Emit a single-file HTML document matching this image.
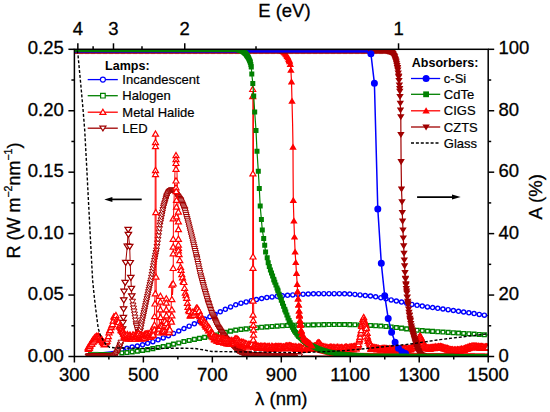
<!DOCTYPE html>
<html><head><meta charset="utf-8"><style>
html,body{margin:0;padding:0;background:#fff;}
svg{display:block;}
.t{font-family:"Liberation Sans",sans-serif;font-size:18.5px;fill:#000;stroke:#000;stroke-width:0.3px;}
.l{font-family:"Liberation Sans",sans-serif;font-size:13px;fill:#000;stroke:#000;stroke-width:0.2px;}
.lb{font-family:"Liberation Sans",sans-serif;font-size:12.5px;font-weight:bold;fill:#000;}
</style></head><body>
<svg width="550" height="412" viewBox="0 0 550 412">
<defs><clipPath id="pa"><rect x="74.4" y="49.3" width="413.8" height="307.2"/></clipPath></defs>
<rect width="550" height="412" fill="#fff"/>
<g clip-path="url(#pa)">
<path d="M100.0,352.6 L101.0,352.6 L102.0,352.5 L103.0,352.5 L104.0,352.4 L105.0,352.3 L106.0,352.2 L107.0,352.1 L108.0,352.0 L109.0,351.9 L110.0,351.8 L111.0,351.7 L112.0,351.5 L113.0,351.4 L114.0,351.2 L115.0,351.0 L116.0,350.8 L117.0,350.6 L118.0,350.3 L119.0,350.1 L120.0,349.9 L121.0,349.7 L122.0,349.5 L123.0,349.2 L124.0,349.0 L125.0,348.8 L126.0,348.5 L127.0,348.3 L128.0,348.1 L129.0,347.8 L130.0,347.6 L131.0,347.4 L132.0,347.2 L133.0,347.0 L134.0,346.8 L135.0,346.6 L136.0,346.4 L137.0,346.2 L138.0,346.0 L139.0,345.7 L140.0,345.5 L141.0,345.2 L142.0,345.0 L143.0,344.7 L144.0,344.4 L145.0,344.2 L146.0,343.9 L147.0,343.6 L148.0,343.3 L149.0,342.9 L150.0,342.6 L151.0,342.3 L152.0,342.0 L153.0,341.6 L154.0,341.3 L155.0,340.9 L156.0,340.6 L157.0,340.2 L158.0,339.9 L159.0,339.5 L160.0,339.1 L161.0,338.8 L162.0,338.4 L163.0,338.0 L164.0,337.6 L165.0,337.2 L166.0,336.8 L167.0,336.4 L168.0,335.9 L169.0,335.5 L170.0,335.0 L171.0,334.6 L172.0,334.1 L173.0,333.7 L174.0,333.2 L175.0,332.8 L176.0,332.3 L177.0,331.8 L178.0,331.4 L179.0,330.9 L180.0,330.4 L181.0,329.9 L182.0,329.5 L183.0,329.0 L184.0,328.6 L185.0,328.1 L186.0,327.6 L187.0,327.2 L188.0,326.7 L189.0,326.3 L190.0,325.8 L191.0,325.4 L192.0,324.9 L193.0,324.4 L194.0,324.0 L195.0,323.5 L196.0,323.0 L197.0,322.6 L198.0,322.1 L199.0,321.7 L200.0,321.2 L201.0,320.7 L202.0,320.3 L203.0,319.8 L204.0,319.3 L205.0,318.9 L206.0,318.4 L207.0,318.0 L208.0,317.5 L209.0,317.1 L210.0,316.6 L211.0,316.2 L212.0,315.7 L213.0,315.3 L214.0,314.8 L215.0,314.3 L216.0,313.8 L217.0,313.4 L218.0,312.9 L219.0,312.4 L220.0,311.9 L221.0,311.4 L222.0,310.9 L223.0,310.4 L224.0,309.9 L225.0,309.4 L226.0,309.0 L227.0,308.5 L228.0,308.0 L229.0,307.6 L230.0,307.1 L231.0,306.7 L232.0,306.3 L233.0,305.9 L234.0,305.5 L235.0,305.1 L236.0,304.7 L237.0,304.4 L238.0,304.1 L239.0,303.8 L240.0,303.5 L241.0,303.2 L242.0,303.0 L243.0,302.7 L244.0,302.5 L245.0,302.2 L246.0,301.9 L247.0,301.7 L248.0,301.5 L249.0,301.2 L250.0,301.0 L251.0,300.8 L252.0,300.5 L253.0,300.3 L254.0,300.1 L255.0,299.9 L256.0,299.7 L257.0,299.4 L258.0,299.2 L259.0,299.0 L260.0,298.8 L261.0,298.7 L262.0,298.5 L263.0,298.3 L264.0,298.1 L265.0,297.9 L266.0,297.8 L267.0,297.6 L268.0,297.5 L269.0,297.3 L270.0,297.2 L271.0,297.0 L272.0,296.9 L273.0,296.8 L274.0,296.6 L275.0,296.5 L276.0,296.4 L277.0,296.3 L278.0,296.2 L279.0,296.1 L280.0,296.0 L281.0,295.9 L282.0,295.8 L283.0,295.7 L284.0,295.7 L285.0,295.6 L286.0,295.5 L287.0,295.4 L288.0,295.3 L289.0,295.2 L290.0,295.1 L291.0,295.1 L292.0,295.0 L293.0,294.9 L294.0,294.8 L295.0,294.8 L296.0,294.7 L297.0,294.6 L298.0,294.5 L299.0,294.5 L300.0,294.4 L301.0,294.3 L302.0,294.3 L303.0,294.2 L304.0,294.2 L305.0,294.1 L306.0,294.1 L307.0,294.0 L308.0,294.0 L309.0,293.9 L310.0,293.9 L311.0,293.9 L312.0,293.8 L313.0,293.8 L314.0,293.8 L315.0,293.8 L316.0,293.7 L317.0,293.7 L318.0,293.7 L319.0,293.7 L320.0,293.7 L321.0,293.7 L322.0,293.7 L323.0,293.7 L324.0,293.7 L325.0,293.7 L326.0,293.7 L327.0,293.7 L328.0,293.7 L329.0,293.7 L330.0,293.7 L331.0,293.7 L332.0,293.7 L333.0,293.7 L334.0,293.7 L335.0,293.7 L336.0,293.7 L337.0,293.7 L338.0,293.7 L339.0,293.7 L340.0,293.7 L341.0,293.7 L342.0,293.7 L343.0,293.7 L344.0,293.8 L345.0,293.8 L346.0,293.8 L347.0,293.9 L348.0,293.9 L349.0,294.0 L350.0,294.1 L351.0,294.1 L352.0,294.2 L353.0,294.3 L354.0,294.4 L355.0,294.4 L356.0,294.5 L357.0,294.6 L358.0,294.7 L359.0,294.8 L360.0,294.9 L361.0,295.0 L362.0,295.1 L363.0,295.2 L364.0,295.3 L365.0,295.4 L366.0,295.6 L367.0,295.7 L368.0,295.8 L369.0,295.9 L370.0,296.0 L371.0,296.1 L372.0,296.2 L373.0,296.4 L374.0,296.5 L375.0,296.7 L376.0,296.8 L377.0,297.0 L378.0,297.2 L379.0,297.3 L380.0,297.5 L381.0,297.7 L382.0,297.9 L383.0,298.1 L384.0,298.3 L385.0,298.5 L386.0,298.8 L387.0,299.0 L388.0,299.2 L389.0,299.4 L390.0,299.6 L391.0,299.8 L392.0,300.1 L393.0,300.3 L394.0,300.5 L395.0,300.7 L396.0,300.9 L397.0,301.2 L398.0,301.4 L399.0,301.6 L400.0,301.8 L401.0,302.0 L402.0,302.2 L403.0,302.5 L404.0,302.7 L405.0,302.9 L406.0,303.1 L407.0,303.4 L408.0,303.6 L409.0,303.8 L410.0,304.0 L411.0,304.2 L412.0,304.4 L413.0,304.6 L414.0,304.8 L415.0,304.9 L416.0,305.1 L417.0,305.3 L418.0,305.4 L419.0,305.6 L420.0,305.7 L421.0,305.9 L422.0,306.1 L423.0,306.2 L424.0,306.4 L425.0,306.5 L426.0,306.6 L427.0,306.8 L428.0,306.9 L429.0,307.1 L430.0,307.2 L431.0,307.4 L432.0,307.5 L433.0,307.6 L434.0,307.8 L435.0,307.9 L436.0,308.0 L437.0,308.2 L438.0,308.3 L439.0,308.4 L440.0,308.6 L441.0,308.7 L442.0,308.9 L443.0,309.0 L444.0,309.1 L445.0,309.3 L446.0,309.4 L447.0,309.6 L448.0,309.7 L449.0,309.9 L450.0,310.0 L451.0,310.1 L452.0,310.3 L453.0,310.4 L454.0,310.6 L455.0,310.7 L456.0,310.9 L457.0,311.0 L458.0,311.2 L459.0,311.3 L460.0,311.5 L461.0,311.6 L462.0,311.8 L463.0,311.9 L464.0,312.1 L465.0,312.2 L466.0,312.4 L467.0,312.5 L468.0,312.7 L469.0,312.8 L470.0,313.0 L471.0,313.1 L472.0,313.3 L473.0,313.4 L474.0,313.6 L475.0,313.7 L476.0,313.9 L477.0,314.0 L478.0,314.2 L479.0,314.3 L480.0,314.5 L481.0,314.6 L482.0,314.8 L483.0,314.9 L484.0,315.1 L485.0,315.2 L486.0,315.4 L487.0,315.5 L488.0,315.7" fill="none" stroke="#0000ff" stroke-width="1.0" stroke-linejoin="round" />
<path d="M119.8,349.5a2.05,2.05 0 1,0 4.1,0a2.05,2.05 0 1,0 -4.1,0Z" fill="#fff" stroke="#0000ff" stroke-width="1.4"/><path d="M124.9,348.3a2.05,2.05 0 1,0 4.1,0a2.05,2.05 0 1,0 -4.1,0Z" fill="#fff" stroke="#0000ff" stroke-width="1.4"/><path d="M130.1,347.1a2.05,2.05 0 1,0 4.1,0a2.05,2.05 0 1,0 -4.1,0Z" fill="#fff" stroke="#0000ff" stroke-width="1.4"/><path d="M135.3,346.1a2.05,2.05 0 1,0 4.1,0a2.05,2.05 0 1,0 -4.1,0Z" fill="#fff" stroke="#0000ff" stroke-width="1.4"/><path d="M140.5,344.8a2.05,2.05 0 1,0 4.1,0a2.05,2.05 0 1,0 -4.1,0Z" fill="#fff" stroke="#0000ff" stroke-width="1.4"/><path d="M145.6,343.3a2.05,2.05 0 1,0 4.1,0a2.05,2.05 0 1,0 -4.1,0Z" fill="#fff" stroke="#0000ff" stroke-width="1.4"/><path d="M150.8,341.7a2.05,2.05 0 1,0 4.1,0a2.05,2.05 0 1,0 -4.1,0Z" fill="#fff" stroke="#0000ff" stroke-width="1.4"/><path d="M156.0,339.8a2.05,2.05 0 1,0 4.1,0a2.05,2.05 0 1,0 -4.1,0Z" fill="#fff" stroke="#0000ff" stroke-width="1.4"/><path d="M161.2,337.9a2.05,2.05 0 1,0 4.1,0a2.05,2.05 0 1,0 -4.1,0Z" fill="#fff" stroke="#0000ff" stroke-width="1.4"/><path d="M166.4,335.7a2.05,2.05 0 1,0 4.1,0a2.05,2.05 0 1,0 -4.1,0Z" fill="#fff" stroke="#0000ff" stroke-width="1.4"/><path d="M171.5,333.4a2.05,2.05 0 1,0 4.1,0a2.05,2.05 0 1,0 -4.1,0Z" fill="#fff" stroke="#0000ff" stroke-width="1.4"/><path d="M176.7,331.0a2.05,2.05 0 1,0 4.1,0a2.05,2.05 0 1,0 -4.1,0Z" fill="#fff" stroke="#0000ff" stroke-width="1.4"/><path d="M181.9,328.6a2.05,2.05 0 1,0 4.1,0a2.05,2.05 0 1,0 -4.1,0Z" fill="#fff" stroke="#0000ff" stroke-width="1.4"/><path d="M187.1,326.2a2.05,2.05 0 1,0 4.1,0a2.05,2.05 0 1,0 -4.1,0Z" fill="#fff" stroke="#0000ff" stroke-width="1.4"/><path d="M192.3,323.8a2.05,2.05 0 1,0 4.1,0a2.05,2.05 0 1,0 -4.1,0Z" fill="#fff" stroke="#0000ff" stroke-width="1.4"/><path d="M197.4,321.4a2.05,2.05 0 1,0 4.1,0a2.05,2.05 0 1,0 -4.1,0Z" fill="#fff" stroke="#0000ff" stroke-width="1.4"/><path d="M202.6,319.0a2.05,2.05 0 1,0 4.1,0a2.05,2.05 0 1,0 -4.1,0Z" fill="#fff" stroke="#0000ff" stroke-width="1.4"/><path d="M207.8,316.7a2.05,2.05 0 1,0 4.1,0a2.05,2.05 0 1,0 -4.1,0Z" fill="#fff" stroke="#0000ff" stroke-width="1.4"/><path d="M213.0,314.3a2.05,2.05 0 1,0 4.1,0a2.05,2.05 0 1,0 -4.1,0Z" fill="#fff" stroke="#0000ff" stroke-width="1.4"/><path d="M218.2,311.8a2.05,2.05 0 1,0 4.1,0a2.05,2.05 0 1,0 -4.1,0Z" fill="#fff" stroke="#0000ff" stroke-width="1.4"/><path d="M223.3,309.3a2.05,2.05 0 1,0 4.1,0a2.05,2.05 0 1,0 -4.1,0Z" fill="#fff" stroke="#0000ff" stroke-width="1.4"/><path d="M228.5,306.9a2.05,2.05 0 1,0 4.1,0a2.05,2.05 0 1,0 -4.1,0Z" fill="#fff" stroke="#0000ff" stroke-width="1.4"/><path d="M233.7,304.8a2.05,2.05 0 1,0 4.1,0a2.05,2.05 0 1,0 -4.1,0Z" fill="#fff" stroke="#0000ff" stroke-width="1.4"/><path d="M238.9,303.2a2.05,2.05 0 1,0 4.1,0a2.05,2.05 0 1,0 -4.1,0Z" fill="#fff" stroke="#0000ff" stroke-width="1.4"/><path d="M244.1,301.9a2.05,2.05 0 1,0 4.1,0a2.05,2.05 0 1,0 -4.1,0Z" fill="#fff" stroke="#0000ff" stroke-width="1.4"/><path d="M249.2,300.7a2.05,2.05 0 1,0 4.1,0a2.05,2.05 0 1,0 -4.1,0Z" fill="#fff" stroke="#0000ff" stroke-width="1.4"/><path d="M254.4,299.6a2.05,2.05 0 1,0 4.1,0a2.05,2.05 0 1,0 -4.1,0Z" fill="#fff" stroke="#0000ff" stroke-width="1.4"/><path d="M259.6,298.5a2.05,2.05 0 1,0 4.1,0a2.05,2.05 0 1,0 -4.1,0Z" fill="#fff" stroke="#0000ff" stroke-width="1.4"/><path d="M264.8,297.6a2.05,2.05 0 1,0 4.1,0a2.05,2.05 0 1,0 -4.1,0Z" fill="#fff" stroke="#0000ff" stroke-width="1.4"/><path d="M270.0,296.9a2.05,2.05 0 1,0 4.1,0a2.05,2.05 0 1,0 -4.1,0Z" fill="#fff" stroke="#0000ff" stroke-width="1.4"/><path d="M275.1,296.3a2.05,2.05 0 1,0 4.1,0a2.05,2.05 0 1,0 -4.1,0Z" fill="#fff" stroke="#0000ff" stroke-width="1.4"/><path d="M280.3,295.8a2.05,2.05 0 1,0 4.1,0a2.05,2.05 0 1,0 -4.1,0Z" fill="#fff" stroke="#0000ff" stroke-width="1.4"/><path d="M285.5,295.3a2.05,2.05 0 1,0 4.1,0a2.05,2.05 0 1,0 -4.1,0Z" fill="#fff" stroke="#0000ff" stroke-width="1.4"/><path d="M290.7,294.9a2.05,2.05 0 1,0 4.1,0a2.05,2.05 0 1,0 -4.1,0Z" fill="#fff" stroke="#0000ff" stroke-width="1.4"/><path d="M295.9,294.5a2.05,2.05 0 1,0 4.1,0a2.05,2.05 0 1,0 -4.1,0Z" fill="#fff" stroke="#0000ff" stroke-width="1.4"/><path d="M301.0,294.2a2.05,2.05 0 1,0 4.1,0a2.05,2.05 0 1,0 -4.1,0Z" fill="#fff" stroke="#0000ff" stroke-width="1.4"/><path d="M306.2,294.0a2.05,2.05 0 1,0 4.1,0a2.05,2.05 0 1,0 -4.1,0Z" fill="#fff" stroke="#0000ff" stroke-width="1.4"/><path d="M311.4,293.8a2.05,2.05 0 1,0 4.1,0a2.05,2.05 0 1,0 -4.1,0Z" fill="#fff" stroke="#0000ff" stroke-width="1.4"/><path d="M316.6,293.7a2.05,2.05 0 1,0 4.1,0a2.05,2.05 0 1,0 -4.1,0Z" fill="#fff" stroke="#0000ff" stroke-width="1.4"/><path d="M321.8,293.7a2.05,2.05 0 1,0 4.1,0a2.05,2.05 0 1,0 -4.1,0Z" fill="#fff" stroke="#0000ff" stroke-width="1.4"/><path d="M326.9,293.7a2.05,2.05 0 1,0 4.1,0a2.05,2.05 0 1,0 -4.1,0Z" fill="#fff" stroke="#0000ff" stroke-width="1.4"/><path d="M332.1,293.7a2.05,2.05 0 1,0 4.1,0a2.05,2.05 0 1,0 -4.1,0Z" fill="#fff" stroke="#0000ff" stroke-width="1.4"/><path d="M337.3,293.7a2.05,2.05 0 1,0 4.1,0a2.05,2.05 0 1,0 -4.1,0Z" fill="#fff" stroke="#0000ff" stroke-width="1.4"/><path d="M342.5,293.8a2.05,2.05 0 1,0 4.1,0a2.05,2.05 0 1,0 -4.1,0Z" fill="#fff" stroke="#0000ff" stroke-width="1.4"/><path d="M347.7,294.0a2.05,2.05 0 1,0 4.1,0a2.05,2.05 0 1,0 -4.1,0Z" fill="#fff" stroke="#0000ff" stroke-width="1.4"/><path d="M352.8,294.4a2.05,2.05 0 1,0 4.1,0a2.05,2.05 0 1,0 -4.1,0Z" fill="#fff" stroke="#0000ff" stroke-width="1.4"/><path d="M358.0,294.9a2.05,2.05 0 1,0 4.1,0a2.05,2.05 0 1,0 -4.1,0Z" fill="#fff" stroke="#0000ff" stroke-width="1.4"/><path d="M363.2,295.5a2.05,2.05 0 1,0 4.1,0a2.05,2.05 0 1,0 -4.1,0Z" fill="#fff" stroke="#0000ff" stroke-width="1.4"/><path d="M368.4,296.0a2.05,2.05 0 1,0 4.1,0a2.05,2.05 0 1,0 -4.1,0Z" fill="#fff" stroke="#0000ff" stroke-width="1.4"/><path d="M373.6,296.8a2.05,2.05 0 1,0 4.1,0a2.05,2.05 0 1,0 -4.1,0Z" fill="#fff" stroke="#0000ff" stroke-width="1.4"/><path d="M378.7,297.7a2.05,2.05 0 1,0 4.1,0a2.05,2.05 0 1,0 -4.1,0Z" fill="#fff" stroke="#0000ff" stroke-width="1.4"/><path d="M383.9,298.7a2.05,2.05 0 1,0 4.1,0a2.05,2.05 0 1,0 -4.1,0Z" fill="#fff" stroke="#0000ff" stroke-width="1.4"/><path d="M389.1,299.9a2.05,2.05 0 1,0 4.1,0a2.05,2.05 0 1,0 -4.1,0Z" fill="#fff" stroke="#0000ff" stroke-width="1.4"/><path d="M394.3,301.0a2.05,2.05 0 1,0 4.1,0a2.05,2.05 0 1,0 -4.1,0Z" fill="#fff" stroke="#0000ff" stroke-width="1.4"/><path d="M399.5,302.1a2.05,2.05 0 1,0 4.1,0a2.05,2.05 0 1,0 -4.1,0Z" fill="#fff" stroke="#0000ff" stroke-width="1.4"/><path d="M404.6,303.3a2.05,2.05 0 1,0 4.1,0a2.05,2.05 0 1,0 -4.1,0Z" fill="#fff" stroke="#0000ff" stroke-width="1.4"/><path d="M409.8,304.4a2.05,2.05 0 1,0 4.1,0a2.05,2.05 0 1,0 -4.1,0Z" fill="#fff" stroke="#0000ff" stroke-width="1.4"/><path d="M415.0,305.3a2.05,2.05 0 1,0 4.1,0a2.05,2.05 0 1,0 -4.1,0Z" fill="#fff" stroke="#0000ff" stroke-width="1.4"/><path d="M420.2,306.1a2.05,2.05 0 1,0 4.1,0a2.05,2.05 0 1,0 -4.1,0Z" fill="#fff" stroke="#0000ff" stroke-width="1.4"/><path d="M425.4,306.9a2.05,2.05 0 1,0 4.1,0a2.05,2.05 0 1,0 -4.1,0Z" fill="#fff" stroke="#0000ff" stroke-width="1.4"/><path d="M430.5,307.6a2.05,2.05 0 1,0 4.1,0a2.05,2.05 0 1,0 -4.1,0Z" fill="#fff" stroke="#0000ff" stroke-width="1.4"/><path d="M435.7,308.3a2.05,2.05 0 1,0 4.1,0a2.05,2.05 0 1,0 -4.1,0Z" fill="#fff" stroke="#0000ff" stroke-width="1.4"/><path d="M440.9,309.0a2.05,2.05 0 1,0 4.1,0a2.05,2.05 0 1,0 -4.1,0Z" fill="#fff" stroke="#0000ff" stroke-width="1.4"/><path d="M446.1,309.7a2.05,2.05 0 1,0 4.1,0a2.05,2.05 0 1,0 -4.1,0Z" fill="#fff" stroke="#0000ff" stroke-width="1.4"/><path d="M451.3,310.5a2.05,2.05 0 1,0 4.1,0a2.05,2.05 0 1,0 -4.1,0Z" fill="#fff" stroke="#0000ff" stroke-width="1.4"/><path d="M456.4,311.3a2.05,2.05 0 1,0 4.1,0a2.05,2.05 0 1,0 -4.1,0Z" fill="#fff" stroke="#0000ff" stroke-width="1.4"/><path d="M461.6,312.0a2.05,2.05 0 1,0 4.1,0a2.05,2.05 0 1,0 -4.1,0Z" fill="#fff" stroke="#0000ff" stroke-width="1.4"/><path d="M466.8,312.8a2.05,2.05 0 1,0 4.1,0a2.05,2.05 0 1,0 -4.1,0Z" fill="#fff" stroke="#0000ff" stroke-width="1.4"/><path d="M472.0,313.6a2.05,2.05 0 1,0 4.1,0a2.05,2.05 0 1,0 -4.1,0Z" fill="#fff" stroke="#0000ff" stroke-width="1.4"/><path d="M477.2,314.4a2.05,2.05 0 1,0 4.1,0a2.05,2.05 0 1,0 -4.1,0Z" fill="#fff" stroke="#0000ff" stroke-width="1.4"/><path d="M482.3,315.2a2.05,2.05 0 1,0 4.1,0a2.05,2.05 0 1,0 -4.1,0Z" fill="#fff" stroke="#0000ff" stroke-width="1.4"/>
<path d="M88.0,352.4 L89.0,352.4 L90.0,352.4 L91.0,352.4 L92.0,352.4 L93.0,352.4 L94.0,352.4 L95.0,352.4 L96.0,352.4 L97.0,352.4 L98.0,352.4 L99.0,352.5 L100.0,352.5 L101.0,352.5 L102.0,352.5 L103.0,352.5 L104.0,352.5 L105.0,352.5 L106.0,352.5 L107.0,352.6 L108.0,352.6 L109.0,352.6 L110.0,352.6 L111.0,352.6 L112.0,352.7 L113.0,352.7 L114.0,352.7 L115.0,352.8 L116.0,352.8 L117.0,352.9 L118.0,352.9 L119.0,353.0 L120.0,353.0 L121.0,353.0 L122.0,353.0 L123.0,353.0 L124.0,352.9 L125.0,352.8 L126.0,352.7 L127.0,352.6 L128.0,352.4 L129.0,352.3 L130.0,352.1 L131.0,352.0 L132.0,351.9 L133.0,351.7 L134.0,351.6 L135.0,351.5 L136.0,351.4 L137.0,351.2 L138.0,351.1 L139.0,351.0 L140.0,350.8 L141.0,350.7 L142.0,350.5 L143.0,350.4 L144.0,350.2 L145.0,350.1 L146.0,349.9 L147.0,349.7 L148.0,349.6 L149.0,349.4 L150.0,349.2 L151.0,349.0 L152.0,348.8 L153.0,348.6 L154.0,348.4 L155.0,348.2 L156.0,348.0 L157.0,347.8 L158.0,347.6 L159.0,347.4 L160.0,347.2 L161.0,347.0 L162.0,346.8 L163.0,346.6 L164.0,346.3 L165.0,346.1 L166.0,345.9 L167.0,345.7 L168.0,345.5 L169.0,345.2 L170.0,345.0 L171.0,344.8 L172.0,344.6 L173.0,344.3 L174.0,344.1 L175.0,343.8 L176.0,343.6 L177.0,343.4 L178.0,343.1 L179.0,342.9 L180.0,342.6 L181.0,342.3 L182.0,342.1 L183.0,341.8 L184.0,341.6 L185.0,341.3 L186.0,341.1 L187.0,340.9 L188.0,340.7 L189.0,340.5 L190.0,340.3 L191.0,340.1 L192.0,339.9 L193.0,339.7 L194.0,339.5 L195.0,339.3 L196.0,339.1 L197.0,338.9 L198.0,338.7 L199.0,338.5 L200.0,338.3 L201.0,338.1 L202.0,337.9 L203.0,337.7 L204.0,337.5 L205.0,337.3 L206.0,337.1 L207.0,336.9 L208.0,336.7 L209.0,336.5 L210.0,336.3 L211.0,336.0 L212.0,335.8 L213.0,335.5 L214.0,335.3 L215.0,335.0 L216.0,334.8 L217.0,334.5 L218.0,334.3 L219.0,334.0 L220.0,333.8 L221.0,333.5 L222.0,333.2 L223.0,333.0 L224.0,332.7 L225.0,332.5 L226.0,332.2 L227.0,332.0 L228.0,331.7 L229.0,331.5 L230.0,331.3 L231.0,331.0 L232.0,330.8 L233.0,330.6 L234.0,330.4 L235.0,330.2 L236.0,330.1 L237.0,329.9 L238.0,329.8 L239.0,329.6 L240.0,329.5 L241.0,329.4 L242.0,329.3 L243.0,329.2 L244.0,329.0 L245.0,328.9 L246.0,328.8 L247.0,328.7 L248.0,328.6 L249.0,328.5 L250.0,328.4 L251.0,328.3 L252.0,328.2 L253.0,328.1 L254.0,328.0 L255.0,327.9 L256.0,327.8 L257.0,327.7 L258.0,327.6 L259.0,327.5 L260.0,327.4 L261.0,327.3 L262.0,327.3 L263.0,327.2 L264.0,327.1 L265.0,327.0 L266.0,326.9 L267.0,326.8 L268.0,326.8 L269.0,326.7 L270.0,326.6 L271.0,326.5 L272.0,326.5 L273.0,326.4 L274.0,326.3 L275.0,326.2 L276.0,326.2 L277.0,326.1 L278.0,326.1 L279.0,326.0 L280.0,325.9 L281.0,325.9 L282.0,325.8 L283.0,325.8 L284.0,325.7 L285.0,325.7 L286.0,325.6 L287.0,325.6 L288.0,325.5 L289.0,325.5 L290.0,325.4 L291.0,325.4 L292.0,325.3 L293.0,325.3 L294.0,325.3 L295.0,325.2 L296.0,325.2 L297.0,325.2 L298.0,325.2 L299.0,325.1 L300.0,325.1 L301.0,325.1 L302.0,325.1 L303.0,325.0 L304.0,325.0 L305.0,325.0 L306.0,325.0 L307.0,324.9 L308.0,324.9 L309.0,324.9 L310.0,324.9 L311.0,324.9 L312.0,324.8 L313.0,324.8 L314.0,324.8 L315.0,324.8 L316.0,324.8 L317.0,324.7 L318.0,324.7 L319.0,324.7 L320.0,324.7 L321.0,324.7 L322.0,324.6 L323.0,324.6 L324.0,324.6 L325.0,324.6 L326.0,324.6 L327.0,324.6 L328.0,324.6 L329.0,324.6 L330.0,324.5 L331.0,324.5 L332.0,324.5 L333.0,324.5 L334.0,324.5 L335.0,324.5 L336.0,324.5 L337.0,324.5 L338.0,324.5 L339.0,324.5 L340.0,324.5 L341.0,324.5 L342.0,324.5 L343.0,324.5 L344.0,324.5 L345.0,324.5 L346.0,324.5 L347.0,324.6 L348.0,324.6 L349.0,324.6 L350.0,324.6 L351.0,324.7 L352.0,324.7 L353.0,324.7 L354.0,324.7 L355.0,324.8 L356.0,324.8 L357.0,324.8 L358.0,324.9 L359.0,324.9 L360.0,325.0 L361.0,325.0 L362.0,325.0 L363.0,325.1 L364.0,325.1 L365.0,325.2 L366.0,325.2 L367.0,325.3 L368.0,325.3 L369.0,325.4 L370.0,325.4 L371.0,325.5 L372.0,325.5 L373.0,325.6 L374.0,325.7 L375.0,325.7 L376.0,325.8 L377.0,325.8 L378.0,325.9 L379.0,325.9 L380.0,326.0 L381.0,326.1 L382.0,326.1 L383.0,326.2 L384.0,326.3 L385.0,326.4 L386.0,326.5 L387.0,326.6 L388.0,326.7 L389.0,326.8 L390.0,326.9 L391.0,327.0 L392.0,327.1 L393.0,327.2 L394.0,327.3 L395.0,327.4 L396.0,327.5 L397.0,327.7 L398.0,327.8 L399.0,327.9 L400.0,328.0 L401.0,328.1 L402.0,328.2 L403.0,328.4 L404.0,328.5 L405.0,328.6 L406.0,328.8 L407.0,328.9 L408.0,329.1 L409.0,329.2 L410.0,329.4 L411.0,329.5 L412.0,329.6 L413.0,329.8 L414.0,329.9 L415.0,330.0 L416.0,330.1 L417.0,330.2 L418.0,330.3 L419.0,330.4 L420.0,330.5 L421.0,330.6 L422.0,330.6 L423.0,330.7 L424.0,330.8 L425.0,330.9 L426.0,330.9 L427.0,331.0 L428.0,331.1 L429.0,331.2 L430.0,331.2 L431.0,331.3 L432.0,331.4 L433.0,331.4 L434.0,331.5 L435.0,331.6 L436.0,331.6 L437.0,331.7 L438.0,331.7 L439.0,331.8 L440.0,331.9 L441.0,331.9 L442.0,332.0 L443.0,332.0 L444.0,332.1 L445.0,332.2 L446.0,332.2 L447.0,332.3 L448.0,332.4 L449.0,332.4 L450.0,332.5 L451.0,332.6 L452.0,332.6 L453.0,332.7 L454.0,332.8 L455.0,332.8 L456.0,332.9 L457.0,333.0 L458.0,333.0 L459.0,333.1 L460.0,333.2 L461.0,333.2 L462.0,333.3 L463.0,333.4 L464.0,333.4 L465.0,333.5 L466.0,333.6 L467.0,333.6 L468.0,333.7 L469.0,333.8 L470.0,333.8 L471.0,333.9 L472.0,334.0 L473.0,334.0 L474.0,334.1 L475.0,334.2 L476.0,334.2 L477.0,334.3 L478.0,334.4 L479.0,334.4 L480.0,334.5 L481.0,334.6 L482.0,334.6 L483.0,334.7 L484.0,334.7 L485.0,334.8 L486.0,334.9 L487.0,334.9 L488.0,335.0" fill="none" stroke="#008000" stroke-width="1.0" stroke-linejoin="round" />
<path d="M120.0,351.1h3.7v3.7h-3.7Z" fill="#fff" stroke="#008000" stroke-width="1.4"/><path d="M125.1,350.7h3.7v3.7h-3.7Z" fill="#fff" stroke="#008000" stroke-width="1.4"/><path d="M130.3,350.0h3.7v3.7h-3.7Z" fill="#fff" stroke="#008000" stroke-width="1.4"/><path d="M135.5,349.3h3.7v3.7h-3.7Z" fill="#fff" stroke="#008000" stroke-width="1.4"/><path d="M140.7,348.6h3.7v3.7h-3.7Z" fill="#fff" stroke="#008000" stroke-width="1.4"/><path d="M145.8,347.8h3.7v3.7h-3.7Z" fill="#fff" stroke="#008000" stroke-width="1.4"/><path d="M151.0,346.8h3.7v3.7h-3.7Z" fill="#fff" stroke="#008000" stroke-width="1.4"/><path d="M156.2,345.7h3.7v3.7h-3.7Z" fill="#fff" stroke="#008000" stroke-width="1.4"/><path d="M161.4,344.7h3.7v3.7h-3.7Z" fill="#fff" stroke="#008000" stroke-width="1.4"/><path d="M166.6,343.5h3.7v3.7h-3.7Z" fill="#fff" stroke="#008000" stroke-width="1.4"/><path d="M171.7,342.3h3.7v3.7h-3.7Z" fill="#fff" stroke="#008000" stroke-width="1.4"/><path d="M176.9,341.1h3.7v3.7h-3.7Z" fill="#fff" stroke="#008000" stroke-width="1.4"/><path d="M182.1,339.7h3.7v3.7h-3.7Z" fill="#fff" stroke="#008000" stroke-width="1.4"/><path d="M187.3,338.6h3.7v3.7h-3.7Z" fill="#fff" stroke="#008000" stroke-width="1.4"/><path d="M192.5,337.5h3.7v3.7h-3.7Z" fill="#fff" stroke="#008000" stroke-width="1.4"/><path d="M197.6,336.5h3.7v3.7h-3.7Z" fill="#fff" stroke="#008000" stroke-width="1.4"/><path d="M202.8,335.5h3.7v3.7h-3.7Z" fill="#fff" stroke="#008000" stroke-width="1.4"/><path d="M208.0,334.4h3.7v3.7h-3.7Z" fill="#fff" stroke="#008000" stroke-width="1.4"/><path d="M213.2,333.2h3.7v3.7h-3.7Z" fill="#fff" stroke="#008000" stroke-width="1.4"/><path d="M218.4,331.8h3.7v3.7h-3.7Z" fill="#fff" stroke="#008000" stroke-width="1.4"/><path d="M223.5,330.5h3.7v3.7h-3.7Z" fill="#fff" stroke="#008000" stroke-width="1.4"/><path d="M228.7,329.3h3.7v3.7h-3.7Z" fill="#fff" stroke="#008000" stroke-width="1.4"/><path d="M233.9,328.3h3.7v3.7h-3.7Z" fill="#fff" stroke="#008000" stroke-width="1.4"/><path d="M239.1,327.5h3.7v3.7h-3.7Z" fill="#fff" stroke="#008000" stroke-width="1.4"/><path d="M244.3,327.0h3.7v3.7h-3.7Z" fill="#fff" stroke="#008000" stroke-width="1.4"/><path d="M249.4,326.4h3.7v3.7h-3.7Z" fill="#fff" stroke="#008000" stroke-width="1.4"/><path d="M254.6,325.9h3.7v3.7h-3.7Z" fill="#fff" stroke="#008000" stroke-width="1.4"/><path d="M259.8,325.4h3.7v3.7h-3.7Z" fill="#fff" stroke="#008000" stroke-width="1.4"/><path d="M265.0,325.0h3.7v3.7h-3.7Z" fill="#fff" stroke="#008000" stroke-width="1.4"/><path d="M270.2,324.6h3.7v3.7h-3.7Z" fill="#fff" stroke="#008000" stroke-width="1.4"/><path d="M275.3,324.3h3.7v3.7h-3.7Z" fill="#fff" stroke="#008000" stroke-width="1.4"/><path d="M280.5,323.9h3.7v3.7h-3.7Z" fill="#fff" stroke="#008000" stroke-width="1.4"/><path d="M285.7,323.7h3.7v3.7h-3.7Z" fill="#fff" stroke="#008000" stroke-width="1.4"/><path d="M290.9,323.5h3.7v3.7h-3.7Z" fill="#fff" stroke="#008000" stroke-width="1.4"/><path d="M296.1,323.3h3.7v3.7h-3.7Z" fill="#fff" stroke="#008000" stroke-width="1.4"/><path d="M301.2,323.2h3.7v3.7h-3.7Z" fill="#fff" stroke="#008000" stroke-width="1.4"/><path d="M306.4,323.1h3.7v3.7h-3.7Z" fill="#fff" stroke="#008000" stroke-width="1.4"/><path d="M311.6,323.0h3.7v3.7h-3.7Z" fill="#fff" stroke="#008000" stroke-width="1.4"/><path d="M316.8,322.9h3.7v3.7h-3.7Z" fill="#fff" stroke="#008000" stroke-width="1.4"/><path d="M322.0,322.8h3.7v3.7h-3.7Z" fill="#fff" stroke="#008000" stroke-width="1.4"/><path d="M327.1,322.7h3.7v3.7h-3.7Z" fill="#fff" stroke="#008000" stroke-width="1.4"/><path d="M332.3,322.7h3.7v3.7h-3.7Z" fill="#fff" stroke="#008000" stroke-width="1.4"/><path d="M337.5,322.7h3.7v3.7h-3.7Z" fill="#fff" stroke="#008000" stroke-width="1.4"/><path d="M342.7,322.7h3.7v3.7h-3.7Z" fill="#fff" stroke="#008000" stroke-width="1.4"/><path d="M347.9,322.8h3.7v3.7h-3.7Z" fill="#fff" stroke="#008000" stroke-width="1.4"/><path d="M353.0,322.9h3.7v3.7h-3.7Z" fill="#fff" stroke="#008000" stroke-width="1.4"/><path d="M358.2,323.1h3.7v3.7h-3.7Z" fill="#fff" stroke="#008000" stroke-width="1.4"/><path d="M363.4,323.4h3.7v3.7h-3.7Z" fill="#fff" stroke="#008000" stroke-width="1.4"/><path d="M368.6,323.6h3.7v3.7h-3.7Z" fill="#fff" stroke="#008000" stroke-width="1.4"/><path d="M373.8,323.9h3.7v3.7h-3.7Z" fill="#fff" stroke="#008000" stroke-width="1.4"/><path d="M378.9,324.2h3.7v3.7h-3.7Z" fill="#fff" stroke="#008000" stroke-width="1.4"/><path d="M384.1,324.6h3.7v3.7h-3.7Z" fill="#fff" stroke="#008000" stroke-width="1.4"/><path d="M389.3,325.1h3.7v3.7h-3.7Z" fill="#fff" stroke="#008000" stroke-width="1.4"/><path d="M394.5,325.7h3.7v3.7h-3.7Z" fill="#fff" stroke="#008000" stroke-width="1.4"/><path d="M399.7,326.3h3.7v3.7h-3.7Z" fill="#fff" stroke="#008000" stroke-width="1.4"/><path d="M404.8,327.0h3.7v3.7h-3.7Z" fill="#fff" stroke="#008000" stroke-width="1.4"/><path d="M410.0,327.8h3.7v3.7h-3.7Z" fill="#fff" stroke="#008000" stroke-width="1.4"/><path d="M415.2,328.4h3.7v3.7h-3.7Z" fill="#fff" stroke="#008000" stroke-width="1.4"/><path d="M420.4,328.8h3.7v3.7h-3.7Z" fill="#fff" stroke="#008000" stroke-width="1.4"/><path d="M425.6,329.2h3.7v3.7h-3.7Z" fill="#fff" stroke="#008000" stroke-width="1.4"/><path d="M430.7,329.5h3.7v3.7h-3.7Z" fill="#fff" stroke="#008000" stroke-width="1.4"/><path d="M435.9,329.9h3.7v3.7h-3.7Z" fill="#fff" stroke="#008000" stroke-width="1.4"/><path d="M441.1,330.2h3.7v3.7h-3.7Z" fill="#fff" stroke="#008000" stroke-width="1.4"/><path d="M446.3,330.5h3.7v3.7h-3.7Z" fill="#fff" stroke="#008000" stroke-width="1.4"/><path d="M451.5,330.9h3.7v3.7h-3.7Z" fill="#fff" stroke="#008000" stroke-width="1.4"/><path d="M456.6,331.2h3.7v3.7h-3.7Z" fill="#fff" stroke="#008000" stroke-width="1.4"/><path d="M461.8,331.6h3.7v3.7h-3.7Z" fill="#fff" stroke="#008000" stroke-width="1.4"/><path d="M467.0,331.9h3.7v3.7h-3.7Z" fill="#fff" stroke="#008000" stroke-width="1.4"/><path d="M472.2,332.2h3.7v3.7h-3.7Z" fill="#fff" stroke="#008000" stroke-width="1.4"/><path d="M477.4,332.6h3.7v3.7h-3.7Z" fill="#fff" stroke="#008000" stroke-width="1.4"/><path d="M482.5,332.9h3.7v3.7h-3.7Z" fill="#fff" stroke="#008000" stroke-width="1.4"/>
<path d="M88.0,356.0 L113.0,356.0 L116.3,354.0 L118.3,350.0 L120.3,345.0 L121.8,339.0 L122.6,329.0 L123.6,309.0 L124.1,291.4 L125.2,282.5 L125.7,262.5 L127.3,246.2 L128.2,229.5 L128.4,234.5 L129.7,246.5 L130.2,262.7 L130.8,277.5 L131.4,288.5 L131.8,296.0 L133.0,305.0 L134.5,314.0 L136.3,325.0 L138.5,333.5 L140.5,330.0 L142.0,322.0 L145.0,308.0 L148.0,294.0 L151.0,280.0 L154.0,263.0 L156.5,250.0 L160.0,225.0 L163.5,207.0 L166.8,196.0 L169.0,191.5 L171.3,190.0 L174.0,191.0 L177.0,195.0 L180.6,200.0 L184.7,209.7 L188.5,224.0 L192.5,240.0 L196.8,258.0 L200.5,275.0 L204.5,290.0 L208.3,303.0 L212.0,314.0 L217.5,326.0 L224.5,337.0 L232.0,345.0 L238.0,351.0 L245.0,354.0 L260.0,355.3 L300.0,356.0 L488.0,356.0" fill="none" stroke="#a00000" stroke-width="1.0" stroke-linejoin="round" />
<path d="M88.0,358.7L91.0,354.0L85.0,354.0Z" fill="#fff" stroke="#a00000" stroke-width="1.0"/><path d="M88.5,358.7L91.5,354.0L85.5,354.0Z" fill="#fff" stroke="#a00000" stroke-width="1.0"/><path d="M89.0,358.7L92.0,354.0L86.0,354.0Z" fill="#fff" stroke="#a00000" stroke-width="1.0"/><path d="M89.5,358.7L92.5,354.0L86.5,354.0Z" fill="#fff" stroke="#a00000" stroke-width="1.0"/><path d="M90.0,358.7L93.0,354.0L87.0,354.0Z" fill="#fff" stroke="#a00000" stroke-width="1.0"/><path d="M90.5,358.7L93.5,354.0L87.5,354.0Z" fill="#fff" stroke="#a00000" stroke-width="1.0"/><path d="M91.0,358.7L94.0,354.0L88.0,354.0Z" fill="#fff" stroke="#a00000" stroke-width="1.0"/><path d="M91.5,358.7L94.5,354.0L88.5,354.0Z" fill="#fff" stroke="#a00000" stroke-width="1.0"/><path d="M92.0,358.7L95.0,354.0L89.0,354.0Z" fill="#fff" stroke="#a00000" stroke-width="1.0"/><path d="M92.5,358.7L95.5,354.0L89.5,354.0Z" fill="#fff" stroke="#a00000" stroke-width="1.0"/><path d="M93.0,358.7L96.0,354.0L90.0,354.0Z" fill="#fff" stroke="#a00000" stroke-width="1.0"/><path d="M93.5,358.7L96.5,354.0L90.5,354.0Z" fill="#fff" stroke="#a00000" stroke-width="1.0"/><path d="M94.0,358.7L97.0,354.0L91.0,354.0Z" fill="#fff" stroke="#a00000" stroke-width="1.0"/><path d="M94.5,358.7L97.5,354.0L91.5,354.0Z" fill="#fff" stroke="#a00000" stroke-width="1.0"/><path d="M95.0,358.7L98.0,354.0L92.0,354.0Z" fill="#fff" stroke="#a00000" stroke-width="1.0"/><path d="M95.5,358.7L98.5,354.0L92.5,354.0Z" fill="#fff" stroke="#a00000" stroke-width="1.0"/><path d="M96.0,358.7L99.0,354.0L93.0,354.0Z" fill="#fff" stroke="#a00000" stroke-width="1.0"/><path d="M96.5,358.7L99.5,354.0L93.5,354.0Z" fill="#fff" stroke="#a00000" stroke-width="1.0"/><path d="M97.0,358.7L100.0,354.0L94.0,354.0Z" fill="#fff" stroke="#a00000" stroke-width="1.0"/><path d="M97.5,358.7L100.5,354.0L94.5,354.0Z" fill="#fff" stroke="#a00000" stroke-width="1.0"/><path d="M98.0,358.7L101.0,354.0L95.0,354.0Z" fill="#fff" stroke="#a00000" stroke-width="1.0"/><path d="M98.5,358.7L101.5,354.0L95.5,354.0Z" fill="#fff" stroke="#a00000" stroke-width="1.0"/><path d="M99.0,358.7L102.0,354.0L96.0,354.0Z" fill="#fff" stroke="#a00000" stroke-width="1.0"/><path d="M99.5,358.7L102.5,354.0L96.5,354.0Z" fill="#fff" stroke="#a00000" stroke-width="1.0"/><path d="M100.0,358.7L103.0,354.0L97.0,354.0Z" fill="#fff" stroke="#a00000" stroke-width="1.0"/><path d="M100.5,358.7L103.5,354.0L97.5,354.0Z" fill="#fff" stroke="#a00000" stroke-width="1.0"/><path d="M101.0,358.7L104.0,354.0L98.0,354.0Z" fill="#fff" stroke="#a00000" stroke-width="1.0"/><path d="M101.5,358.7L104.5,354.0L98.5,354.0Z" fill="#fff" stroke="#a00000" stroke-width="1.0"/><path d="M102.0,358.7L105.0,354.0L99.0,354.0Z" fill="#fff" stroke="#a00000" stroke-width="1.0"/><path d="M102.5,358.7L105.5,354.0L99.5,354.0Z" fill="#fff" stroke="#a00000" stroke-width="1.0"/><path d="M103.0,358.7L106.0,354.0L100.0,354.0Z" fill="#fff" stroke="#a00000" stroke-width="1.0"/><path d="M103.5,358.7L106.5,354.0L100.5,354.0Z" fill="#fff" stroke="#a00000" stroke-width="1.0"/><path d="M104.0,358.7L107.0,354.0L101.0,354.0Z" fill="#fff" stroke="#a00000" stroke-width="1.0"/><path d="M104.5,358.7L107.5,354.0L101.5,354.0Z" fill="#fff" stroke="#a00000" stroke-width="1.0"/><path d="M105.0,358.7L108.0,354.0L102.0,354.0Z" fill="#fff" stroke="#a00000" stroke-width="1.0"/><path d="M105.5,358.7L108.5,354.0L102.5,354.0Z" fill="#fff" stroke="#a00000" stroke-width="1.0"/><path d="M106.0,358.7L109.0,354.0L103.0,354.0Z" fill="#fff" stroke="#a00000" stroke-width="1.0"/><path d="M106.5,358.7L109.5,354.0L103.5,354.0Z" fill="#fff" stroke="#a00000" stroke-width="1.0"/><path d="M107.0,358.7L110.0,354.0L104.0,354.0Z" fill="#fff" stroke="#a00000" stroke-width="1.0"/><path d="M107.5,358.7L110.5,354.0L104.5,354.0Z" fill="#fff" stroke="#a00000" stroke-width="1.0"/><path d="M108.0,358.7L111.0,354.0L105.0,354.0Z" fill="#fff" stroke="#a00000" stroke-width="1.0"/><path d="M108.5,358.7L111.5,354.0L105.5,354.0Z" fill="#fff" stroke="#a00000" stroke-width="1.0"/><path d="M109.0,358.7L112.0,354.0L106.0,354.0Z" fill="#fff" stroke="#a00000" stroke-width="1.0"/><path d="M109.5,358.7L112.5,354.0L106.5,354.0Z" fill="#fff" stroke="#a00000" stroke-width="1.0"/><path d="M110.0,358.7L113.0,354.0L107.0,354.0Z" fill="#fff" stroke="#a00000" stroke-width="1.0"/><path d="M110.5,358.7L113.5,354.0L107.5,354.0Z" fill="#fff" stroke="#a00000" stroke-width="1.0"/><path d="M111.0,358.7L114.0,354.0L108.0,354.0Z" fill="#fff" stroke="#a00000" stroke-width="1.0"/><path d="M111.5,358.7L114.5,354.0L108.5,354.0Z" fill="#fff" stroke="#a00000" stroke-width="1.0"/><path d="M112.0,358.7L115.0,354.0L109.0,354.0Z" fill="#fff" stroke="#a00000" stroke-width="1.0"/><path d="M112.5,358.7L115.5,354.0L109.5,354.0Z" fill="#fff" stroke="#a00000" stroke-width="1.0"/><path d="M113.0,358.7L116.0,354.0L110.0,354.0Z" fill="#fff" stroke="#a00000" stroke-width="1.0"/><path d="M113.5,358.4L116.5,353.7L110.5,353.7Z" fill="#fff" stroke="#a00000" stroke-width="1.0"/><path d="M114.0,358.1L117.0,353.4L111.0,353.4Z" fill="#fff" stroke="#a00000" stroke-width="1.0"/><path d="M114.5,357.8L117.5,353.1L111.5,353.1Z" fill="#fff" stroke="#a00000" stroke-width="1.0"/><path d="M115.0,357.5L118.0,352.8L112.0,352.8Z" fill="#fff" stroke="#a00000" stroke-width="1.0"/><path d="M115.5,357.2L118.5,352.5L112.5,352.5Z" fill="#fff" stroke="#a00000" stroke-width="1.0"/><path d="M116.0,356.9L119.0,352.2L113.0,352.2Z" fill="#fff" stroke="#a00000" stroke-width="1.0"/><path d="M116.3,356.7L119.3,352.0L113.3,352.0Z" fill="#fff" stroke="#a00000" stroke-width="1.0"/><path d="M116.5,356.3L119.5,351.6L113.5,351.6Z" fill="#fff" stroke="#a00000" stroke-width="1.0"/><path d="M117.0,355.3L120.0,350.6L114.0,350.6Z" fill="#fff" stroke="#a00000" stroke-width="1.0"/><path d="M117.5,354.3L120.5,349.6L114.5,349.6Z" fill="#fff" stroke="#a00000" stroke-width="1.0"/><path d="M118.0,353.3L121.0,348.6L115.0,348.6Z" fill="#fff" stroke="#a00000" stroke-width="1.0"/><path d="M118.3,352.7L121.3,348.0L115.3,348.0Z" fill="#fff" stroke="#a00000" stroke-width="1.0"/><path d="M118.5,352.2L121.5,347.5L115.5,347.5Z" fill="#fff" stroke="#a00000" stroke-width="1.0"/><path d="M119.0,350.9L122.0,346.2L116.0,346.2Z" fill="#fff" stroke="#a00000" stroke-width="1.0"/><path d="M119.5,349.7L122.5,345.0L116.5,345.0Z" fill="#fff" stroke="#a00000" stroke-width="1.0"/><path d="M120.0,348.4L123.0,343.8L117.0,343.8Z" fill="#fff" stroke="#a00000" stroke-width="1.0"/><path d="M120.3,347.7L123.3,343.0L117.3,343.0Z" fill="#fff" stroke="#a00000" stroke-width="1.0"/><path d="M120.5,346.9L123.5,342.2L117.5,342.2Z" fill="#fff" stroke="#a00000" stroke-width="1.0"/><path d="M121.0,344.9L124.0,340.2L118.0,340.2Z" fill="#fff" stroke="#a00000" stroke-width="1.0"/><path d="M122.2,337.7L125.2,333.0L119.2,333.0Z" fill="#fff" stroke="#a00000" stroke-width="1.0"/><path d="M122.6,331.7L125.6,327.0L119.6,327.0Z" fill="#fff" stroke="#a00000" stroke-width="1.0"/><path d="M123.0,325.3L126.0,320.6L120.0,320.6Z" fill="#fff" stroke="#a00000" stroke-width="1.0"/><path d="M123.4,320.3L126.4,315.6L120.4,315.6Z" fill="#fff" stroke="#a00000" stroke-width="1.0"/><path d="M123.6,311.7L126.6,307.0L120.6,307.0Z" fill="#fff" stroke="#a00000" stroke-width="1.0"/><path d="M123.8,302.7L126.8,298.0L120.8,298.0Z" fill="#fff" stroke="#a00000" stroke-width="1.0"/><path d="M124.1,294.1L127.1,289.4L121.1,289.4Z" fill="#fff" stroke="#a00000" stroke-width="1.0"/><path d="M125.2,285.2L128.2,280.5L122.2,280.5Z" fill="#fff" stroke="#a00000" stroke-width="1.0"/><path d="M125.7,265.2L128.7,260.5L122.7,260.5Z" fill="#fff" stroke="#a00000" stroke-width="1.0"/><path d="M127.3,248.9L130.3,244.2L124.3,244.2Z" fill="#fff" stroke="#a00000" stroke-width="1.0"/><path d="M128.2,232.2L131.2,227.5L125.2,227.5Z" fill="#fff" stroke="#a00000" stroke-width="1.0"/><path d="M128.4,237.2L131.4,232.5L125.4,232.5Z" fill="#fff" stroke="#a00000" stroke-width="1.0"/><path d="M129.7,249.2L132.7,244.5L126.7,244.5Z" fill="#fff" stroke="#a00000" stroke-width="1.0"/><path d="M130.2,265.4L133.2,260.7L127.2,260.7Z" fill="#fff" stroke="#a00000" stroke-width="1.0"/><path d="M130.8,280.2L133.8,275.5L127.8,275.5Z" fill="#fff" stroke="#a00000" stroke-width="1.0"/><path d="M131.4,291.2L134.4,286.5L128.4,286.5Z" fill="#fff" stroke="#a00000" stroke-width="1.0"/><path d="M131.8,298.7L134.8,294.0L128.8,294.0Z" fill="#fff" stroke="#a00000" stroke-width="1.0"/>
<path d="M122.2,337.9L125.4,332.8L119.0,332.8Z" fill="#fff" stroke="#a00000" stroke-width="1.2"/><path d="M122.6,331.9L125.8,326.8L119.4,326.8Z" fill="#fff" stroke="#a00000" stroke-width="1.2"/><path d="M123.0,325.5L126.2,320.4L119.8,320.4Z" fill="#fff" stroke="#a00000" stroke-width="1.2"/><path d="M123.4,320.5L126.6,315.4L120.2,315.4Z" fill="#fff" stroke="#a00000" stroke-width="1.2"/><path d="M123.6,311.9L126.8,306.8L120.4,306.8Z" fill="#fff" stroke="#a00000" stroke-width="1.2"/><path d="M123.8,302.9L127.0,297.8L120.6,297.8Z" fill="#fff" stroke="#a00000" stroke-width="1.2"/><path d="M124.1,294.3L127.3,289.2L120.9,289.2Z" fill="#fff" stroke="#a00000" stroke-width="1.2"/><path d="M125.2,285.4L128.4,280.3L122.0,280.3Z" fill="#fff" stroke="#a00000" stroke-width="1.2"/><path d="M125.7,265.4L128.9,260.3L122.5,260.3Z" fill="#fff" stroke="#a00000" stroke-width="1.2"/><path d="M127.3,249.1L130.5,244.0L124.1,244.0Z" fill="#fff" stroke="#a00000" stroke-width="1.2"/><path d="M128.2,232.4L131.4,227.3L125.0,227.3Z" fill="#fff" stroke="#a00000" stroke-width="1.2"/><path d="M128.4,237.4L131.6,232.3L125.2,232.3Z" fill="#fff" stroke="#a00000" stroke-width="1.2"/><path d="M129.7,249.4L132.9,244.3L126.5,244.3Z" fill="#fff" stroke="#a00000" stroke-width="1.2"/><path d="M130.2,265.6L133.4,260.5L127.0,260.5Z" fill="#fff" stroke="#a00000" stroke-width="1.2"/><path d="M130.8,280.4L134.0,275.3L127.6,275.3Z" fill="#fff" stroke="#a00000" stroke-width="1.2"/><path d="M131.4,291.4L134.6,286.3L128.2,286.3Z" fill="#fff" stroke="#a00000" stroke-width="1.2"/><path d="M131.8,298.9L135.0,293.8L128.6,293.8Z" fill="#fff" stroke="#a00000" stroke-width="1.2"/>
<path d="M132.5,303.9L135.5,299.2L129.5,299.2Z" fill="#fff" stroke="#a00000" stroke-width="1.0"/><path d="M133.0,307.7L136.0,303.0L130.0,303.0Z" fill="#fff" stroke="#a00000" stroke-width="1.0"/><path d="M133.5,310.7L136.5,306.0L130.5,306.0Z" fill="#fff" stroke="#a00000" stroke-width="1.0"/><path d="M134.0,313.7L137.0,309.0L131.0,309.0Z" fill="#fff" stroke="#a00000" stroke-width="1.0"/><path d="M134.5,316.7L137.5,312.0L131.5,312.0Z" fill="#fff" stroke="#a00000" stroke-width="1.0"/><path d="M135.0,319.8L138.0,315.1L132.0,315.1Z" fill="#fff" stroke="#a00000" stroke-width="1.0"/><path d="M135.5,322.8L138.5,318.1L132.5,318.1Z" fill="#fff" stroke="#a00000" stroke-width="1.0"/><path d="M136.0,325.9L139.0,321.2L133.0,321.2Z" fill="#fff" stroke="#a00000" stroke-width="1.0"/><path d="M136.3,327.7L139.3,323.0L133.3,323.0Z" fill="#fff" stroke="#a00000" stroke-width="1.0"/><path d="M136.5,328.5L139.5,323.8L133.5,323.8Z" fill="#fff" stroke="#a00000" stroke-width="1.0"/><path d="M137.0,330.4L140.0,325.7L134.0,325.7Z" fill="#fff" stroke="#a00000" stroke-width="1.0"/><path d="M137.5,332.3L140.5,327.6L134.5,327.6Z" fill="#fff" stroke="#a00000" stroke-width="1.0"/><path d="M138.0,334.3L141.0,329.6L135.0,329.6Z" fill="#fff" stroke="#a00000" stroke-width="1.0"/><path d="M138.5,336.2L141.5,331.5L135.5,331.5Z" fill="#fff" stroke="#a00000" stroke-width="1.0"/><path d="M139.0,335.3L142.0,330.6L136.0,330.6Z" fill="#fff" stroke="#a00000" stroke-width="1.0"/><path d="M139.5,334.4L142.5,329.8L136.5,329.8Z" fill="#fff" stroke="#a00000" stroke-width="1.0"/><path d="M140.0,333.6L143.0,328.9L137.0,328.9Z" fill="#fff" stroke="#a00000" stroke-width="1.0"/><path d="M140.5,332.7L143.5,328.0L137.5,328.0Z" fill="#fff" stroke="#a00000" stroke-width="1.0"/><path d="M141.0,330.0L144.0,325.3L138.0,325.3Z" fill="#fff" stroke="#a00000" stroke-width="1.0"/><path d="M141.5,327.4L144.5,322.7L138.5,322.7Z" fill="#fff" stroke="#a00000" stroke-width="1.0"/><path d="M142.0,324.7L145.0,320.0L139.0,320.0Z" fill="#fff" stroke="#a00000" stroke-width="1.0"/><path d="M142.5,322.4L145.5,317.7L139.5,317.7Z" fill="#fff" stroke="#a00000" stroke-width="1.0"/><path d="M143.0,320.0L146.0,315.3L140.0,315.3Z" fill="#fff" stroke="#a00000" stroke-width="1.0"/><path d="M143.5,317.7L146.5,313.0L140.5,313.0Z" fill="#fff" stroke="#a00000" stroke-width="1.0"/><path d="M144.0,315.4L147.0,310.7L141.0,310.7Z" fill="#fff" stroke="#a00000" stroke-width="1.0"/><path d="M144.5,313.0L147.5,308.3L141.5,308.3Z" fill="#fff" stroke="#a00000" stroke-width="1.0"/><path d="M145.0,310.7L148.0,306.0L142.0,306.0Z" fill="#fff" stroke="#a00000" stroke-width="1.0"/><path d="M145.5,308.4L148.5,303.7L142.5,303.7Z" fill="#fff" stroke="#a00000" stroke-width="1.0"/><path d="M146.0,306.0L149.0,301.3L143.0,301.3Z" fill="#fff" stroke="#a00000" stroke-width="1.0"/><path d="M146.5,303.7L149.5,299.0L143.5,299.0Z" fill="#fff" stroke="#a00000" stroke-width="1.0"/><path d="M147.0,301.4L150.0,296.7L144.0,296.7Z" fill="#fff" stroke="#a00000" stroke-width="1.0"/><path d="M147.5,299.0L150.5,294.3L144.5,294.3Z" fill="#fff" stroke="#a00000" stroke-width="1.0"/><path d="M148.0,296.7L151.0,292.0L145.0,292.0Z" fill="#fff" stroke="#a00000" stroke-width="1.0"/><path d="M148.5,294.4L151.5,289.7L145.5,289.7Z" fill="#fff" stroke="#a00000" stroke-width="1.0"/><path d="M149.0,292.0L152.0,287.3L146.0,287.3Z" fill="#fff" stroke="#a00000" stroke-width="1.0"/><path d="M149.5,289.7L152.5,285.0L146.5,285.0Z" fill="#fff" stroke="#a00000" stroke-width="1.0"/><path d="M150.0,287.4L153.0,282.7L147.0,282.7Z" fill="#fff" stroke="#a00000" stroke-width="1.0"/><path d="M150.5,285.0L153.5,280.3L147.5,280.3Z" fill="#fff" stroke="#a00000" stroke-width="1.0"/><path d="M151.0,282.7L154.0,278.0L148.0,278.0Z" fill="#fff" stroke="#a00000" stroke-width="1.0"/><path d="M151.5,279.9L154.5,275.2L148.5,275.2Z" fill="#fff" stroke="#a00000" stroke-width="1.0"/><path d="M152.0,277.0L155.0,272.3L149.0,272.3Z" fill="#fff" stroke="#a00000" stroke-width="1.0"/><path d="M152.5,274.2L155.5,269.5L149.5,269.5Z" fill="#fff" stroke="#a00000" stroke-width="1.0"/><path d="M153.0,271.4L156.0,266.7L150.0,266.7Z" fill="#fff" stroke="#a00000" stroke-width="1.0"/><path d="M153.5,268.5L156.5,263.8L150.5,263.8Z" fill="#fff" stroke="#a00000" stroke-width="1.0"/><path d="M154.0,265.7L157.0,261.0L151.0,261.0Z" fill="#fff" stroke="#a00000" stroke-width="1.0"/><path d="M154.5,263.1L157.5,258.4L151.5,258.4Z" fill="#fff" stroke="#a00000" stroke-width="1.0"/><path d="M155.0,260.5L158.0,255.8L152.0,255.8Z" fill="#fff" stroke="#a00000" stroke-width="1.0"/><path d="M155.5,257.9L158.5,253.2L152.5,253.2Z" fill="#fff" stroke="#a00000" stroke-width="1.0"/><path d="M156.0,255.3L159.0,250.6L153.0,250.6Z" fill="#fff" stroke="#a00000" stroke-width="1.0"/><path d="M156.5,252.7L159.5,248.0L153.5,248.0Z" fill="#fff" stroke="#a00000" stroke-width="1.0"/><path d="M157.0,249.1L160.0,244.4L154.0,244.4Z" fill="#fff" stroke="#a00000" stroke-width="1.0"/><path d="M157.5,245.6L160.5,240.9L154.5,240.9Z" fill="#fff" stroke="#a00000" stroke-width="1.0"/><path d="M158.0,242.0L161.0,237.3L155.0,237.3Z" fill="#fff" stroke="#a00000" stroke-width="1.0"/><path d="M158.5,238.4L161.5,233.7L155.5,233.7Z" fill="#fff" stroke="#a00000" stroke-width="1.0"/><path d="M159.0,234.8L162.0,230.1L156.0,230.1Z" fill="#fff" stroke="#a00000" stroke-width="1.0"/><path d="M159.5,231.3L162.5,226.6L156.5,226.6Z" fill="#fff" stroke="#a00000" stroke-width="1.0"/><path d="M160.0,227.7L163.0,223.0L157.0,223.0Z" fill="#fff" stroke="#a00000" stroke-width="1.0"/><path d="M160.5,225.1L163.5,220.4L157.5,220.4Z" fill="#fff" stroke="#a00000" stroke-width="1.0"/><path d="M161.0,222.6L164.0,217.9L158.0,217.9Z" fill="#fff" stroke="#a00000" stroke-width="1.0"/><path d="M161.5,220.0L164.5,215.3L158.5,215.3Z" fill="#fff" stroke="#a00000" stroke-width="1.0"/><path d="M162.0,217.4L165.0,212.7L159.0,212.7Z" fill="#fff" stroke="#a00000" stroke-width="1.0"/><path d="M162.5,214.8L165.5,210.1L159.5,210.1Z" fill="#fff" stroke="#a00000" stroke-width="1.0"/><path d="M163.0,212.3L166.0,207.6L160.0,207.6Z" fill="#fff" stroke="#a00000" stroke-width="1.0"/><path d="M163.5,209.7L166.5,205.0L160.5,205.0Z" fill="#fff" stroke="#a00000" stroke-width="1.0"/><path d="M164.0,208.0L167.0,203.3L161.0,203.3Z" fill="#fff" stroke="#a00000" stroke-width="1.0"/><path d="M164.5,206.4L167.5,201.7L161.5,201.7Z" fill="#fff" stroke="#a00000" stroke-width="1.0"/><path d="M165.0,204.7L168.0,200.0L162.0,200.0Z" fill="#fff" stroke="#a00000" stroke-width="1.0"/><path d="M165.5,203.0L168.5,198.3L162.5,198.3Z" fill="#fff" stroke="#a00000" stroke-width="1.0"/><path d="M166.0,201.4L169.0,196.7L163.0,196.7Z" fill="#fff" stroke="#a00000" stroke-width="1.0"/><path d="M166.5,199.7L169.5,195.0L163.5,195.0Z" fill="#fff" stroke="#a00000" stroke-width="1.0"/><path d="M166.8,198.7L169.8,194.0L163.8,194.0Z" fill="#fff" stroke="#a00000" stroke-width="1.0"/><path d="M167.0,198.3L170.0,193.6L164.0,193.6Z" fill="#fff" stroke="#a00000" stroke-width="1.0"/><path d="M167.5,197.3L170.5,192.6L164.5,192.6Z" fill="#fff" stroke="#a00000" stroke-width="1.0"/><path d="M168.0,196.2L171.0,191.5L165.0,191.5Z" fill="#fff" stroke="#a00000" stroke-width="1.0"/><path d="M168.5,195.2L171.5,190.5L165.5,190.5Z" fill="#fff" stroke="#a00000" stroke-width="1.0"/><path d="M169.0,194.2L172.0,189.5L166.0,189.5Z" fill="#fff" stroke="#a00000" stroke-width="1.0"/><path d="M169.5,193.9L172.5,189.2L166.5,189.2Z" fill="#fff" stroke="#a00000" stroke-width="1.0"/><path d="M170.0,193.5L173.0,188.8L167.0,188.8Z" fill="#fff" stroke="#a00000" stroke-width="1.0"/><path d="M170.5,193.2L173.5,188.5L167.5,188.5Z" fill="#fff" stroke="#a00000" stroke-width="1.0"/><path d="M171.0,192.9L174.0,188.2L168.0,188.2Z" fill="#fff" stroke="#a00000" stroke-width="1.0"/><path d="M171.3,192.7L174.3,188.0L168.3,188.0Z" fill="#fff" stroke="#a00000" stroke-width="1.0"/><path d="M171.5,192.8L174.5,188.1L168.5,188.1Z" fill="#fff" stroke="#a00000" stroke-width="1.0"/><path d="M172.0,193.0L175.0,188.3L169.0,188.3Z" fill="#fff" stroke="#a00000" stroke-width="1.0"/><path d="M172.5,193.1L175.5,188.4L169.5,188.4Z" fill="#fff" stroke="#a00000" stroke-width="1.0"/><path d="M173.0,193.3L176.0,188.6L170.0,188.6Z" fill="#fff" stroke="#a00000" stroke-width="1.0"/><path d="M173.5,193.5L176.5,188.8L170.5,188.8Z" fill="#fff" stroke="#a00000" stroke-width="1.0"/><path d="M174.0,193.7L177.0,189.0L171.0,189.0Z" fill="#fff" stroke="#a00000" stroke-width="1.0"/><path d="M174.5,194.4L177.5,189.7L171.5,189.7Z" fill="#fff" stroke="#a00000" stroke-width="1.0"/><path d="M175.0,195.0L178.0,190.3L172.0,190.3Z" fill="#fff" stroke="#a00000" stroke-width="1.0"/><path d="M175.5,195.7L178.5,191.0L172.5,191.0Z" fill="#fff" stroke="#a00000" stroke-width="1.0"/><path d="M176.0,196.4L179.0,191.7L173.0,191.7Z" fill="#fff" stroke="#a00000" stroke-width="1.0"/><path d="M176.5,197.0L179.5,192.3L173.5,192.3Z" fill="#fff" stroke="#a00000" stroke-width="1.0"/><path d="M177.0,197.7L180.0,193.0L174.0,193.0Z" fill="#fff" stroke="#a00000" stroke-width="1.0"/><path d="M177.5,198.4L180.5,193.7L174.5,193.7Z" fill="#fff" stroke="#a00000" stroke-width="1.0"/><path d="M178.0,199.1L181.0,194.4L175.0,194.4Z" fill="#fff" stroke="#a00000" stroke-width="1.0"/><path d="M178.5,199.8L181.5,195.1L175.5,195.1Z" fill="#fff" stroke="#a00000" stroke-width="1.0"/><path d="M179.0,200.5L182.0,195.8L176.0,195.8Z" fill="#fff" stroke="#a00000" stroke-width="1.0"/><path d="M179.5,201.2L182.5,196.5L176.5,196.5Z" fill="#fff" stroke="#a00000" stroke-width="1.0"/><path d="M180.0,201.9L183.0,197.2L177.0,197.2Z" fill="#fff" stroke="#a00000" stroke-width="1.0"/><path d="M180.5,202.6L183.5,197.9L177.5,197.9Z" fill="#fff" stroke="#a00000" stroke-width="1.0"/><path d="M180.6,202.7L183.6,198.0L177.6,198.0Z" fill="#fff" stroke="#a00000" stroke-width="1.0"/><path d="M181.0,203.6L184.0,198.9L178.0,198.9Z" fill="#fff" stroke="#a00000" stroke-width="1.0"/><path d="M181.5,204.8L184.5,200.1L178.5,200.1Z" fill="#fff" stroke="#a00000" stroke-width="1.0"/><path d="M182.0,206.0L185.0,201.3L179.0,201.3Z" fill="#fff" stroke="#a00000" stroke-width="1.0"/><path d="M182.5,207.2L185.5,202.5L179.5,202.5Z" fill="#fff" stroke="#a00000" stroke-width="1.0"/><path d="M183.0,208.4L186.0,203.7L180.0,203.7Z" fill="#fff" stroke="#a00000" stroke-width="1.0"/><path d="M183.5,209.6L186.5,204.9L180.5,204.9Z" fill="#fff" stroke="#a00000" stroke-width="1.0"/><path d="M184.0,210.7L187.0,206.0L181.0,206.0Z" fill="#fff" stroke="#a00000" stroke-width="1.0"/><path d="M184.5,211.9L187.5,207.2L181.5,207.2Z" fill="#fff" stroke="#a00000" stroke-width="1.0"/><path d="M184.7,212.4L187.7,207.7L181.7,207.7Z" fill="#fff" stroke="#a00000" stroke-width="1.0"/><path d="M185.0,213.5L188.0,208.8L182.0,208.8Z" fill="#fff" stroke="#a00000" stroke-width="1.0"/><path d="M185.5,215.4L188.5,210.7L182.5,210.7Z" fill="#fff" stroke="#a00000" stroke-width="1.0"/><path d="M186.0,217.3L189.0,212.6L183.0,212.6Z" fill="#fff" stroke="#a00000" stroke-width="1.0"/><path d="M186.5,219.2L189.5,214.5L183.5,214.5Z" fill="#fff" stroke="#a00000" stroke-width="1.0"/><path d="M187.0,221.1L190.0,216.4L184.0,216.4Z" fill="#fff" stroke="#a00000" stroke-width="1.0"/><path d="M187.5,222.9L190.5,218.2L184.5,218.2Z" fill="#fff" stroke="#a00000" stroke-width="1.0"/><path d="M188.0,224.8L191.0,220.1L185.0,220.1Z" fill="#fff" stroke="#a00000" stroke-width="1.0"/><path d="M188.5,226.7L191.5,222.0L185.5,222.0Z" fill="#fff" stroke="#a00000" stroke-width="1.0"/><path d="M189.0,228.7L192.0,224.0L186.0,224.0Z" fill="#fff" stroke="#a00000" stroke-width="1.0"/><path d="M189.5,230.7L192.5,226.0L186.5,226.0Z" fill="#fff" stroke="#a00000" stroke-width="1.0"/><path d="M190.0,232.7L193.0,228.0L187.0,228.0Z" fill="#fff" stroke="#a00000" stroke-width="1.0"/><path d="M190.5,234.7L193.5,230.0L187.5,230.0Z" fill="#fff" stroke="#a00000" stroke-width="1.0"/><path d="M191.0,236.7L194.0,232.0L188.0,232.0Z" fill="#fff" stroke="#a00000" stroke-width="1.0"/><path d="M191.5,238.7L194.5,234.0L188.5,234.0Z" fill="#fff" stroke="#a00000" stroke-width="1.0"/><path d="M192.0,240.7L195.0,236.0L189.0,236.0Z" fill="#fff" stroke="#a00000" stroke-width="1.0"/><path d="M192.5,242.7L195.5,238.0L189.5,238.0Z" fill="#fff" stroke="#a00000" stroke-width="1.0"/><path d="M193.0,244.8L196.0,240.1L190.0,240.1Z" fill="#fff" stroke="#a00000" stroke-width="1.0"/><path d="M193.5,246.9L196.5,242.2L190.5,242.2Z" fill="#fff" stroke="#a00000" stroke-width="1.0"/><path d="M194.0,249.0L197.0,244.3L191.0,244.3Z" fill="#fff" stroke="#a00000" stroke-width="1.0"/><path d="M194.5,251.1L197.5,246.4L191.5,246.4Z" fill="#fff" stroke="#a00000" stroke-width="1.0"/><path d="M195.0,253.2L198.0,248.5L192.0,248.5Z" fill="#fff" stroke="#a00000" stroke-width="1.0"/><path d="M195.5,255.3L198.5,250.6L192.5,250.6Z" fill="#fff" stroke="#a00000" stroke-width="1.0"/><path d="M196.0,257.4L199.0,252.7L193.0,252.7Z" fill="#fff" stroke="#a00000" stroke-width="1.0"/><path d="M196.5,259.4L199.5,254.7L193.5,254.7Z" fill="#fff" stroke="#a00000" stroke-width="1.0"/><path d="M196.8,260.7L199.8,256.0L193.8,256.0Z" fill="#fff" stroke="#a00000" stroke-width="1.0"/><path d="M197.0,261.6L200.0,256.9L194.0,256.9Z" fill="#fff" stroke="#a00000" stroke-width="1.0"/><path d="M197.5,263.9L200.5,259.2L194.5,259.2Z" fill="#fff" stroke="#a00000" stroke-width="1.0"/><path d="M198.0,266.2L201.0,261.5L195.0,261.5Z" fill="#fff" stroke="#a00000" stroke-width="1.0"/><path d="M198.5,268.5L201.5,263.8L195.5,263.8Z" fill="#fff" stroke="#a00000" stroke-width="1.0"/><path d="M199.0,270.8L202.0,266.1L196.0,266.1Z" fill="#fff" stroke="#a00000" stroke-width="1.0"/><path d="M199.5,273.1L202.5,268.4L196.5,268.4Z" fill="#fff" stroke="#a00000" stroke-width="1.0"/><path d="M200.0,275.4L203.0,270.7L197.0,270.7Z" fill="#fff" stroke="#a00000" stroke-width="1.0"/><path d="M200.5,277.7L203.5,273.0L197.5,273.0Z" fill="#fff" stroke="#a00000" stroke-width="1.0"/><path d="M201.0,279.6L204.0,274.9L198.0,274.9Z" fill="#fff" stroke="#a00000" stroke-width="1.0"/><path d="M201.5,281.4L204.5,276.8L198.5,276.8Z" fill="#fff" stroke="#a00000" stroke-width="1.0"/><path d="M202.0,283.3L205.0,278.6L199.0,278.6Z" fill="#fff" stroke="#a00000" stroke-width="1.0"/><path d="M202.5,285.2L205.5,280.5L199.5,280.5Z" fill="#fff" stroke="#a00000" stroke-width="1.0"/><path d="M203.0,287.1L206.0,282.4L200.0,282.4Z" fill="#fff" stroke="#a00000" stroke-width="1.0"/><path d="M203.5,288.9L206.5,284.2L200.5,284.2Z" fill="#fff" stroke="#a00000" stroke-width="1.0"/><path d="M204.0,290.8L207.0,286.1L201.0,286.1Z" fill="#fff" stroke="#a00000" stroke-width="1.0"/><path d="M204.5,292.7L207.5,288.0L201.5,288.0Z" fill="#fff" stroke="#a00000" stroke-width="1.0"/><path d="M205.0,294.4L208.0,289.7L202.0,289.7Z" fill="#fff" stroke="#a00000" stroke-width="1.0"/><path d="M205.5,296.1L208.5,291.4L202.5,291.4Z" fill="#fff" stroke="#a00000" stroke-width="1.0"/><path d="M206.0,297.8L209.0,293.1L203.0,293.1Z" fill="#fff" stroke="#a00000" stroke-width="1.0"/><path d="M206.5,299.5L209.5,294.8L203.5,294.8Z" fill="#fff" stroke="#a00000" stroke-width="1.0"/><path d="M207.0,301.3L210.0,296.6L204.0,296.6Z" fill="#fff" stroke="#a00000" stroke-width="1.0"/><path d="M207.5,303.0L210.5,298.3L204.5,298.3Z" fill="#fff" stroke="#a00000" stroke-width="1.0"/><path d="M208.0,304.7L211.0,300.0L205.0,300.0Z" fill="#fff" stroke="#a00000" stroke-width="1.0"/><path d="M208.3,305.7L211.3,301.0L205.3,301.0Z" fill="#fff" stroke="#a00000" stroke-width="1.0"/><path d="M208.5,306.3L211.5,301.6L205.5,301.6Z" fill="#fff" stroke="#a00000" stroke-width="1.0"/><path d="M209.0,307.8L212.0,303.1L206.0,303.1Z" fill="#fff" stroke="#a00000" stroke-width="1.0"/><path d="M209.5,309.3L212.5,304.6L206.5,304.6Z" fill="#fff" stroke="#a00000" stroke-width="1.0"/><path d="M210.0,310.8L213.0,306.1L207.0,306.1Z" fill="#fff" stroke="#a00000" stroke-width="1.0"/><path d="M210.5,312.2L213.5,307.5L207.5,307.5Z" fill="#fff" stroke="#a00000" stroke-width="1.0"/><path d="M211.0,313.7L214.0,309.0L208.0,309.0Z" fill="#fff" stroke="#a00000" stroke-width="1.0"/><path d="M211.5,315.2L214.5,310.5L208.5,310.5Z" fill="#fff" stroke="#a00000" stroke-width="1.0"/><path d="M212.0,316.7L215.0,312.0L209.0,312.0Z" fill="#fff" stroke="#a00000" stroke-width="1.0"/><path d="M212.5,317.8L215.5,313.1L209.5,313.1Z" fill="#fff" stroke="#a00000" stroke-width="1.0"/><path d="M213.0,318.9L216.0,314.2L210.0,314.2Z" fill="#fff" stroke="#a00000" stroke-width="1.0"/><path d="M213.5,320.0L216.5,315.3L210.5,315.3Z" fill="#fff" stroke="#a00000" stroke-width="1.0"/><path d="M214.0,321.1L217.0,316.4L211.0,316.4Z" fill="#fff" stroke="#a00000" stroke-width="1.0"/><path d="M214.5,322.2L217.5,317.5L211.5,317.5Z" fill="#fff" stroke="#a00000" stroke-width="1.0"/><path d="M215.0,323.2L218.0,318.5L212.0,318.5Z" fill="#fff" stroke="#a00000" stroke-width="1.0"/><path d="M215.5,324.3L218.5,319.6L212.5,319.6Z" fill="#fff" stroke="#a00000" stroke-width="1.0"/><path d="M216.0,325.4L219.0,320.7L213.0,320.7Z" fill="#fff" stroke="#a00000" stroke-width="1.0"/><path d="M216.5,326.5L219.5,321.8L213.5,321.8Z" fill="#fff" stroke="#a00000" stroke-width="1.0"/><path d="M217.0,327.6L220.0,322.9L214.0,322.9Z" fill="#fff" stroke="#a00000" stroke-width="1.0"/><path d="M217.5,328.7L220.5,324.0L214.5,324.0Z" fill="#fff" stroke="#a00000" stroke-width="1.0"/><path d="M218.0,329.5L221.0,324.8L215.0,324.8Z" fill="#fff" stroke="#a00000" stroke-width="1.0"/><path d="M218.5,330.3L221.5,325.6L215.5,325.6Z" fill="#fff" stroke="#a00000" stroke-width="1.0"/><path d="M219.0,331.1L222.0,326.4L216.0,326.4Z" fill="#fff" stroke="#a00000" stroke-width="1.0"/><path d="M219.5,331.8L222.5,327.1L216.5,327.1Z" fill="#fff" stroke="#a00000" stroke-width="1.0"/><path d="M220.0,332.6L223.0,327.9L217.0,327.9Z" fill="#fff" stroke="#a00000" stroke-width="1.0"/><path d="M220.5,333.4L223.5,328.7L217.5,328.7Z" fill="#fff" stroke="#a00000" stroke-width="1.0"/><path d="M221.0,334.2L224.0,329.5L218.0,329.5Z" fill="#fff" stroke="#a00000" stroke-width="1.0"/><path d="M221.5,335.0L224.5,330.3L218.5,330.3Z" fill="#fff" stroke="#a00000" stroke-width="1.0"/><path d="M222.0,335.8L225.0,331.1L219.0,331.1Z" fill="#fff" stroke="#a00000" stroke-width="1.0"/><path d="M222.5,336.6L225.5,331.9L219.5,331.9Z" fill="#fff" stroke="#a00000" stroke-width="1.0"/><path d="M223.0,337.3L226.0,332.6L220.0,332.6Z" fill="#fff" stroke="#a00000" stroke-width="1.0"/><path d="M223.5,338.1L226.5,333.4L220.5,333.4Z" fill="#fff" stroke="#a00000" stroke-width="1.0"/><path d="M224.0,338.9L227.0,334.2L221.0,334.2Z" fill="#fff" stroke="#a00000" stroke-width="1.0"/><path d="M224.5,339.7L227.5,335.0L221.5,335.0Z" fill="#fff" stroke="#a00000" stroke-width="1.0"/><path d="M225.0,340.2L228.0,335.5L222.0,335.5Z" fill="#fff" stroke="#a00000" stroke-width="1.0"/><path d="M225.5,340.8L228.5,336.1L222.5,336.1Z" fill="#fff" stroke="#a00000" stroke-width="1.0"/><path d="M226.0,341.3L229.0,336.6L223.0,336.6Z" fill="#fff" stroke="#a00000" stroke-width="1.0"/><path d="M226.5,341.8L229.5,337.1L223.5,337.1Z" fill="#fff" stroke="#a00000" stroke-width="1.0"/><path d="M227.0,342.4L230.0,337.7L224.0,337.7Z" fill="#fff" stroke="#a00000" stroke-width="1.0"/><path d="M227.5,342.9L230.5,338.2L224.5,338.2Z" fill="#fff" stroke="#a00000" stroke-width="1.0"/><path d="M228.0,343.4L231.0,338.7L225.0,338.7Z" fill="#fff" stroke="#a00000" stroke-width="1.0"/><path d="M228.5,344.0L231.5,339.3L225.5,339.3Z" fill="#fff" stroke="#a00000" stroke-width="1.0"/><path d="M229.0,344.5L232.0,339.8L226.0,339.8Z" fill="#fff" stroke="#a00000" stroke-width="1.0"/><path d="M229.5,345.0L232.5,340.3L226.5,340.3Z" fill="#fff" stroke="#a00000" stroke-width="1.0"/><path d="M230.0,345.6L233.0,340.9L227.0,340.9Z" fill="#fff" stroke="#a00000" stroke-width="1.0"/><path d="M230.5,346.1L233.5,341.4L227.5,341.4Z" fill="#fff" stroke="#a00000" stroke-width="1.0"/><path d="M231.0,346.6L234.0,341.9L228.0,341.9Z" fill="#fff" stroke="#a00000" stroke-width="1.0"/><path d="M231.5,347.2L234.5,342.5L228.5,342.5Z" fill="#fff" stroke="#a00000" stroke-width="1.0"/><path d="M232.0,347.7L235.0,343.0L229.0,343.0Z" fill="#fff" stroke="#a00000" stroke-width="1.0"/><path d="M232.5,348.2L235.5,343.5L229.5,343.5Z" fill="#fff" stroke="#a00000" stroke-width="1.0"/><path d="M233.0,348.7L236.0,344.0L230.0,344.0Z" fill="#fff" stroke="#a00000" stroke-width="1.0"/><path d="M233.5,349.2L236.5,344.5L230.5,344.5Z" fill="#fff" stroke="#a00000" stroke-width="1.0"/><path d="M234.0,349.7L237.0,345.0L231.0,345.0Z" fill="#fff" stroke="#a00000" stroke-width="1.0"/><path d="M234.5,350.2L237.5,345.5L231.5,345.5Z" fill="#fff" stroke="#a00000" stroke-width="1.0"/><path d="M235.0,350.7L238.0,346.0L232.0,346.0Z" fill="#fff" stroke="#a00000" stroke-width="1.0"/><path d="M235.5,351.2L238.5,346.5L232.5,346.5Z" fill="#fff" stroke="#a00000" stroke-width="1.0"/><path d="M236.0,351.7L239.0,347.0L233.0,347.0Z" fill="#fff" stroke="#a00000" stroke-width="1.0"/><path d="M236.5,352.2L239.5,347.5L233.5,347.5Z" fill="#fff" stroke="#a00000" stroke-width="1.0"/><path d="M237.0,352.7L240.0,348.0L234.0,348.0Z" fill="#fff" stroke="#a00000" stroke-width="1.0"/><path d="M237.5,353.2L240.5,348.5L234.5,348.5Z" fill="#fff" stroke="#a00000" stroke-width="1.0"/><path d="M238.0,353.7L241.0,349.0L235.0,349.0Z" fill="#fff" stroke="#a00000" stroke-width="1.0"/><path d="M238.5,353.9L241.5,349.2L235.5,349.2Z" fill="#fff" stroke="#a00000" stroke-width="1.0"/><path d="M239.0,354.1L242.0,349.4L236.0,349.4Z" fill="#fff" stroke="#a00000" stroke-width="1.0"/><path d="M239.5,354.3L242.5,349.6L236.5,349.6Z" fill="#fff" stroke="#a00000" stroke-width="1.0"/><path d="M240.0,354.6L243.0,349.9L237.0,349.9Z" fill="#fff" stroke="#a00000" stroke-width="1.0"/><path d="M240.5,354.8L243.5,350.1L237.5,350.1Z" fill="#fff" stroke="#a00000" stroke-width="1.0"/><path d="M241.0,355.0L244.0,350.3L238.0,350.3Z" fill="#fff" stroke="#a00000" stroke-width="1.0"/><path d="M241.5,355.2L244.5,350.5L238.5,350.5Z" fill="#fff" stroke="#a00000" stroke-width="1.0"/><path d="M242.0,355.4L245.0,350.7L239.0,350.7Z" fill="#fff" stroke="#a00000" stroke-width="1.0"/><path d="M242.5,355.6L245.5,350.9L239.5,350.9Z" fill="#fff" stroke="#a00000" stroke-width="1.0"/><path d="M243.0,355.8L246.0,351.1L240.0,351.1Z" fill="#fff" stroke="#a00000" stroke-width="1.0"/><path d="M243.5,356.1L246.5,351.4L240.5,351.4Z" fill="#fff" stroke="#a00000" stroke-width="1.0"/><path d="M244.0,356.3L247.0,351.6L241.0,351.6Z" fill="#fff" stroke="#a00000" stroke-width="1.0"/><path d="M244.5,356.5L247.5,351.8L241.5,351.8Z" fill="#fff" stroke="#a00000" stroke-width="1.0"/><path d="M245.0,356.7L248.0,352.0L242.0,352.0Z" fill="#fff" stroke="#a00000" stroke-width="1.0"/><path d="M245.5,356.7L248.5,352.0L242.5,352.0Z" fill="#fff" stroke="#a00000" stroke-width="1.0"/><path d="M246.0,356.8L249.0,352.1L243.0,352.1Z" fill="#fff" stroke="#a00000" stroke-width="1.0"/><path d="M246.5,356.8L249.5,352.1L243.5,352.1Z" fill="#fff" stroke="#a00000" stroke-width="1.0"/><path d="M247.0,356.9L250.0,352.2L244.0,352.2Z" fill="#fff" stroke="#a00000" stroke-width="1.0"/><path d="M247.5,356.9L250.5,352.2L244.5,352.2Z" fill="#fff" stroke="#a00000" stroke-width="1.0"/><path d="M248.0,357.0L251.0,352.3L245.0,352.3Z" fill="#fff" stroke="#a00000" stroke-width="1.0"/><path d="M248.5,357.0L251.5,352.3L245.5,352.3Z" fill="#fff" stroke="#a00000" stroke-width="1.0"/><path d="M249.0,357.0L252.0,352.3L246.0,352.3Z" fill="#fff" stroke="#a00000" stroke-width="1.0"/><path d="M249.5,357.1L252.5,352.4L246.5,352.4Z" fill="#fff" stroke="#a00000" stroke-width="1.0"/><path d="M250.0,357.1L253.0,352.4L247.0,352.4Z" fill="#fff" stroke="#a00000" stroke-width="1.0"/><path d="M250.5,357.2L253.5,352.5L247.5,352.5Z" fill="#fff" stroke="#a00000" stroke-width="1.0"/><path d="M251.0,357.2L254.0,352.5L248.0,352.5Z" fill="#fff" stroke="#a00000" stroke-width="1.0"/><path d="M251.5,357.3L254.5,352.6L248.5,352.6Z" fill="#fff" stroke="#a00000" stroke-width="1.0"/><path d="M252.0,357.3L255.0,352.6L249.0,352.6Z" fill="#fff" stroke="#a00000" stroke-width="1.0"/><path d="M252.5,357.3L255.5,352.6L249.5,352.6Z" fill="#fff" stroke="#a00000" stroke-width="1.0"/><path d="M253.0,357.4L256.0,352.7L250.0,352.7Z" fill="#fff" stroke="#a00000" stroke-width="1.0"/><path d="M253.5,357.4L256.5,352.7L250.5,352.7Z" fill="#fff" stroke="#a00000" stroke-width="1.0"/><path d="M254.0,357.5L257.0,352.8L251.0,352.8Z" fill="#fff" stroke="#a00000" stroke-width="1.0"/><path d="M254.5,357.5L257.5,352.8L251.5,352.8Z" fill="#fff" stroke="#a00000" stroke-width="1.0"/><path d="M255.0,357.6L258.0,352.9L252.0,352.9Z" fill="#fff" stroke="#a00000" stroke-width="1.0"/><path d="M255.5,357.6L258.5,352.9L252.5,352.9Z" fill="#fff" stroke="#a00000" stroke-width="1.0"/><path d="M256.0,357.7L259.0,353.0L253.0,353.0Z" fill="#fff" stroke="#a00000" stroke-width="1.0"/><path d="M256.5,357.7L259.5,353.0L253.5,353.0Z" fill="#fff" stroke="#a00000" stroke-width="1.0"/><path d="M257.0,357.7L260.0,353.0L254.0,353.0Z" fill="#fff" stroke="#a00000" stroke-width="1.0"/><path d="M257.5,357.8L260.5,353.1L254.5,353.1Z" fill="#fff" stroke="#a00000" stroke-width="1.0"/><path d="M258.0,357.8L261.0,353.1L255.0,353.1Z" fill="#fff" stroke="#a00000" stroke-width="1.0"/><path d="M258.5,357.9L261.5,353.2L255.5,353.2Z" fill="#fff" stroke="#a00000" stroke-width="1.0"/><path d="M259.0,357.9L262.0,353.2L256.0,353.2Z" fill="#fff" stroke="#a00000" stroke-width="1.0"/><path d="M259.5,358.0L262.5,353.3L256.5,353.3Z" fill="#fff" stroke="#a00000" stroke-width="1.0"/><path d="M260.0,358.0L263.0,353.3L257.0,353.3Z" fill="#fff" stroke="#a00000" stroke-width="1.0"/><path d="M260.5,358.0L263.5,353.3L257.5,353.3Z" fill="#fff" stroke="#a00000" stroke-width="1.0"/><path d="M261.0,358.0L264.0,353.3L258.0,353.3Z" fill="#fff" stroke="#a00000" stroke-width="1.0"/><path d="M261.5,358.0L264.5,353.3L258.5,353.3Z" fill="#fff" stroke="#a00000" stroke-width="1.0"/><path d="M262.0,358.0L265.0,353.3L259.0,353.3Z" fill="#fff" stroke="#a00000" stroke-width="1.0"/><path d="M262.5,358.0L265.5,353.3L259.5,353.3Z" fill="#fff" stroke="#a00000" stroke-width="1.0"/><path d="M263.0,358.1L266.0,353.4L260.0,353.4Z" fill="#fff" stroke="#a00000" stroke-width="1.0"/><path d="M263.5,358.1L266.5,353.4L260.5,353.4Z" fill="#fff" stroke="#a00000" stroke-width="1.0"/><path d="M264.0,358.1L267.0,353.4L261.0,353.4Z" fill="#fff" stroke="#a00000" stroke-width="1.0"/><path d="M264.5,358.1L267.5,353.4L261.5,353.4Z" fill="#fff" stroke="#a00000" stroke-width="1.0"/><path d="M265.0,358.1L268.0,353.4L262.0,353.4Z" fill="#fff" stroke="#a00000" stroke-width="1.0"/><path d="M265.5,358.1L268.5,353.4L262.5,353.4Z" fill="#fff" stroke="#a00000" stroke-width="1.0"/><path d="M266.0,358.1L269.0,353.4L263.0,353.4Z" fill="#fff" stroke="#a00000" stroke-width="1.0"/><path d="M266.5,358.1L269.5,353.4L263.5,353.4Z" fill="#fff" stroke="#a00000" stroke-width="1.0"/><path d="M267.0,358.1L270.0,353.4L264.0,353.4Z" fill="#fff" stroke="#a00000" stroke-width="1.0"/><path d="M267.5,358.1L270.5,353.4L264.5,353.4Z" fill="#fff" stroke="#a00000" stroke-width="1.0"/><path d="M268.0,358.1L271.0,353.4L265.0,353.4Z" fill="#fff" stroke="#a00000" stroke-width="1.0"/><path d="M268.5,358.1L271.5,353.4L265.5,353.4Z" fill="#fff" stroke="#a00000" stroke-width="1.0"/><path d="M269.0,358.2L272.0,353.5L266.0,353.5Z" fill="#fff" stroke="#a00000" stroke-width="1.0"/><path d="M269.5,358.2L272.5,353.5L266.5,353.5Z" fill="#fff" stroke="#a00000" stroke-width="1.0"/><path d="M270.0,358.2L273.0,353.5L267.0,353.5Z" fill="#fff" stroke="#a00000" stroke-width="1.0"/><path d="M270.5,358.2L273.5,353.5L267.5,353.5Z" fill="#fff" stroke="#a00000" stroke-width="1.0"/><path d="M271.0,358.2L274.0,353.5L268.0,353.5Z" fill="#fff" stroke="#a00000" stroke-width="1.0"/><path d="M271.5,358.2L274.5,353.5L268.5,353.5Z" fill="#fff" stroke="#a00000" stroke-width="1.0"/><path d="M272.0,358.2L275.0,353.5L269.0,353.5Z" fill="#fff" stroke="#a00000" stroke-width="1.0"/><path d="M272.5,358.2L275.5,353.5L269.5,353.5Z" fill="#fff" stroke="#a00000" stroke-width="1.0"/><path d="M273.0,358.2L276.0,353.5L270.0,353.5Z" fill="#fff" stroke="#a00000" stroke-width="1.0"/><path d="M273.5,358.2L276.5,353.5L270.5,353.5Z" fill="#fff" stroke="#a00000" stroke-width="1.0"/><path d="M274.0,358.2L277.0,353.5L271.0,353.5Z" fill="#fff" stroke="#a00000" stroke-width="1.0"/><path d="M274.5,358.3L277.5,353.6L271.5,353.6Z" fill="#fff" stroke="#a00000" stroke-width="1.0"/><path d="M275.0,358.3L278.0,353.6L272.0,353.6Z" fill="#fff" stroke="#a00000" stroke-width="1.0"/><path d="M275.5,358.3L278.5,353.6L272.5,353.6Z" fill="#fff" stroke="#a00000" stroke-width="1.0"/><path d="M276.0,358.3L279.0,353.6L273.0,353.6Z" fill="#fff" stroke="#a00000" stroke-width="1.0"/><path d="M276.5,358.3L279.5,353.6L273.5,353.6Z" fill="#fff" stroke="#a00000" stroke-width="1.0"/><path d="M277.0,358.3L280.0,353.6L274.0,353.6Z" fill="#fff" stroke="#a00000" stroke-width="1.0"/><path d="M277.5,358.3L280.5,353.6L274.5,353.6Z" fill="#fff" stroke="#a00000" stroke-width="1.0"/><path d="M278.0,358.3L281.0,353.6L275.0,353.6Z" fill="#fff" stroke="#a00000" stroke-width="1.0"/><path d="M278.5,358.3L281.5,353.6L275.5,353.6Z" fill="#fff" stroke="#a00000" stroke-width="1.0"/><path d="M279.0,358.3L282.0,353.6L276.0,353.6Z" fill="#fff" stroke="#a00000" stroke-width="1.0"/><path d="M279.5,358.3L282.5,353.6L276.5,353.6Z" fill="#fff" stroke="#a00000" stroke-width="1.0"/><path d="M280.0,358.3L283.0,353.6L277.0,353.6Z" fill="#fff" stroke="#a00000" stroke-width="1.0"/><path d="M280.5,358.4L283.5,353.7L277.5,353.7Z" fill="#fff" stroke="#a00000" stroke-width="1.0"/><path d="M281.0,358.4L284.0,353.7L278.0,353.7Z" fill="#fff" stroke="#a00000" stroke-width="1.0"/><path d="M281.5,358.4L284.5,353.7L278.5,353.7Z" fill="#fff" stroke="#a00000" stroke-width="1.0"/><path d="M282.0,358.4L285.0,353.7L279.0,353.7Z" fill="#fff" stroke="#a00000" stroke-width="1.0"/><path d="M282.5,358.4L285.5,353.7L279.5,353.7Z" fill="#fff" stroke="#a00000" stroke-width="1.0"/><path d="M283.0,358.4L286.0,353.7L280.0,353.7Z" fill="#fff" stroke="#a00000" stroke-width="1.0"/><path d="M283.5,358.4L286.5,353.7L280.5,353.7Z" fill="#fff" stroke="#a00000" stroke-width="1.0"/><path d="M284.0,358.4L287.0,353.7L281.0,353.7Z" fill="#fff" stroke="#a00000" stroke-width="1.0"/><path d="M284.5,358.4L287.5,353.7L281.5,353.7Z" fill="#fff" stroke="#a00000" stroke-width="1.0"/><path d="M285.0,358.4L288.0,353.7L282.0,353.7Z" fill="#fff" stroke="#a00000" stroke-width="1.0"/><path d="M285.5,358.4L288.5,353.7L282.5,353.7Z" fill="#fff" stroke="#a00000" stroke-width="1.0"/><path d="M286.0,358.5L289.0,353.8L283.0,353.8Z" fill="#fff" stroke="#a00000" stroke-width="1.0"/><path d="M286.5,358.5L289.5,353.8L283.5,353.8Z" fill="#fff" stroke="#a00000" stroke-width="1.0"/><path d="M287.0,358.5L290.0,353.8L284.0,353.8Z" fill="#fff" stroke="#a00000" stroke-width="1.0"/><path d="M287.5,358.5L290.5,353.8L284.5,353.8Z" fill="#fff" stroke="#a00000" stroke-width="1.0"/><path d="M288.0,358.5L291.0,353.8L285.0,353.8Z" fill="#fff" stroke="#a00000" stroke-width="1.0"/><path d="M288.5,358.5L291.5,353.8L285.5,353.8Z" fill="#fff" stroke="#a00000" stroke-width="1.0"/><path d="M289.0,358.5L292.0,353.8L286.0,353.8Z" fill="#fff" stroke="#a00000" stroke-width="1.0"/><path d="M289.5,358.5L292.5,353.8L286.5,353.8Z" fill="#fff" stroke="#a00000" stroke-width="1.0"/><path d="M290.0,358.5L293.0,353.8L287.0,353.8Z" fill="#fff" stroke="#a00000" stroke-width="1.0"/><path d="M290.5,358.5L293.5,353.8L287.5,353.8Z" fill="#fff" stroke="#a00000" stroke-width="1.0"/><path d="M291.0,358.5L294.0,353.8L288.0,353.8Z" fill="#fff" stroke="#a00000" stroke-width="1.0"/><path d="M291.5,358.6L294.5,353.9L288.5,353.9Z" fill="#fff" stroke="#a00000" stroke-width="1.0"/><path d="M292.0,358.6L295.0,353.9L289.0,353.9Z" fill="#fff" stroke="#a00000" stroke-width="1.0"/><path d="M292.5,358.6L295.5,353.9L289.5,353.9Z" fill="#fff" stroke="#a00000" stroke-width="1.0"/><path d="M293.0,358.6L296.0,353.9L290.0,353.9Z" fill="#fff" stroke="#a00000" stroke-width="1.0"/><path d="M293.5,358.6L296.5,353.9L290.5,353.9Z" fill="#fff" stroke="#a00000" stroke-width="1.0"/><path d="M294.0,358.6L297.0,353.9L291.0,353.9Z" fill="#fff" stroke="#a00000" stroke-width="1.0"/><path d="M294.5,358.6L297.5,353.9L291.5,353.9Z" fill="#fff" stroke="#a00000" stroke-width="1.0"/><path d="M295.0,358.6L298.0,353.9L292.0,353.9Z" fill="#fff" stroke="#a00000" stroke-width="1.0"/><path d="M295.5,358.6L298.5,353.9L292.5,353.9Z" fill="#fff" stroke="#a00000" stroke-width="1.0"/><path d="M296.0,358.6L299.0,353.9L293.0,353.9Z" fill="#fff" stroke="#a00000" stroke-width="1.0"/><path d="M296.5,358.6L299.5,353.9L293.5,353.9Z" fill="#fff" stroke="#a00000" stroke-width="1.0"/><path d="M297.0,358.6L300.0,353.9L294.0,353.9Z" fill="#fff" stroke="#a00000" stroke-width="1.0"/><path d="M297.5,358.7L300.5,354.0L294.5,354.0Z" fill="#fff" stroke="#a00000" stroke-width="1.0"/><path d="M298.0,358.7L301.0,354.0L295.0,354.0Z" fill="#fff" stroke="#a00000" stroke-width="1.0"/><path d="M298.5,358.7L301.5,354.0L295.5,354.0Z" fill="#fff" stroke="#a00000" stroke-width="1.0"/><path d="M299.0,358.7L302.0,354.0L296.0,354.0Z" fill="#fff" stroke="#a00000" stroke-width="1.0"/><path d="M299.5,358.7L302.5,354.0L296.5,354.0Z" fill="#fff" stroke="#a00000" stroke-width="1.0"/>
<path d="M88.0,347.7 L88.3,349.3 L88.7,347.7 L89.0,348.0 L89.4,348.2 L89.7,346.4 L90.1,345.7 L90.4,343.9 L90.8,343.9 L91.1,344.0 L91.4,344.0 L91.8,343.8 L92.1,342.0 L92.5,340.5 L92.8,340.6 L93.2,342.0 L93.5,339.5 L93.9,339.8 L94.2,340.8 L94.6,337.7 L94.9,339.0 L95.2,339.7 L95.6,337.1 L95.9,337.8 L96.3,338.6 L96.6,336.1 L97.0,337.0 L97.3,337.4 L97.7,337.1 L98.0,336.7 L98.3,336.0 L98.7,337.1 L99.0,336.9 L99.4,337.4 L99.7,337.4 L100.1,339.2 L100.4,339.5 L100.8,338.5 L101.1,339.7 L101.5,339.3 L101.8,340.3 L102.1,340.4 L102.5,341.8 L102.8,341.4 L103.2,342.1 L103.5,343.4 L103.9,342.9 L104.2,344.8 L104.6,343.0 L104.9,344.3 L105.6,342.7 L106.3,342.0 L107.0,341.2 L107.7,339.0 L108.4,336.5 L109.0,332.6 L109.7,330.4 L110.4,330.4 L111.1,327.4 L111.8,325.7 L112.5,324.3 L113.2,320.9 L113.9,316.7 L114.6,317.1 L115.3,317.6 L115.9,315.4 L116.6,319.8 L117.3,320.9 L118.0,321.7 L118.7,322.3 L119.4,326.6 L120.0,325.2 L120.4,326.9 L120.8,328.4 L121.1,330.4 L121.5,329.9 L121.8,328.8 L122.2,330.5 L122.5,331.1 L122.8,331.7 L123.2,331.7 L123.5,333.6 L123.9,334.5 L124.2,336.5 L124.6,336.8 L124.9,335.6 L125.3,335.4 L125.6,337.2 L125.9,337.9 L126.3,337.0 L126.6,337.8 L127.0,338.7 L127.3,334.4 L127.7,338.7 L128.0,335.9 L128.4,336.9 L128.7,338.6 L129.1,338.2 L129.4,335.4 L129.7,338.0 L130.1,335.1 L130.4,336.5 L130.8,338.8 L131.1,337.0 L131.5,337.8 L131.8,338.5 L132.2,339.0 L132.5,338.8 L132.8,335.0 L133.2,337.0 L133.5,337.2 L133.9,335.0 L134.2,337.3 L134.6,337.6 L134.9,338.6 L135.3,339.0 L135.6,334.9 L136.0,335.3 L136.3,337.3 L136.6,334.6 L137.0,334.9 L137.3,336.6 L137.7,334.4 L138.0,337.4 L138.4,337.9 L138.7,333.8 L139.1,336.4 L139.4,337.8 L139.7,338.7 L140.1,335.3 L140.4,334.8 L140.8,338.4 L141.1,338.7 L141.5,335.2 L141.8,336.5 L142.2,337.9 L142.5,338.6 L142.9,335.3 L143.2,337.8 L143.5,338.4 L143.9,337.1 L144.2,335.1 L144.6,334.4 L144.9,335.5 L145.3,338.1 L145.6,334.2 L146.0,333.9 L146.3,335.6 L146.6,334.1 L147.0,334.4 L147.3,333.7 L147.7,336.2 L148.0,337.0 L148.4,335.4 L148.7,333.7 L149.1,334.4 L149.4,335.5 L149.8,337.0 L150.1,337.1 L150.4,333.1 L150.8,331.7 L151.1,335.6 L151.5,335.9 L151.8,333.5 L152.2,334.8 L152.5,335.2 L152.9,333.8 L153.2,334.9 L153.5,330.1 L153.9,326.8 L154.5,320.0 L155.0,290.0 L155.3,134.0 L155.9,134.0 L156.2,290.0 L156.8,320.0 L157.5,331.0 L158.0,329.6 L158.4,332.7 L158.7,328.3 L159.1,329.0 L159.8,310.0 L160.4,296.0 L161.1,315.0 L161.8,326.2 L162.2,330.6 L162.5,331.2 L162.9,330.5 L163.2,332.3 L163.6,332.7 L163.9,332.2 L164.2,331.2 L164.6,325.0 L164.9,321.2 L165.6,315.0 L166.3,299.0 L167.0,318.0 L167.7,327.2 L168.0,331.5 L168.4,330.5 L168.7,332.8 L169.1,332.1 L169.4,329.1 L169.8,329.8 L170.5,319.5 L171.2,305.0 L171.9,285.0 L172.5,295.0 L173.2,284.0 L173.4,220.0 L175.5,155.5 L176.5,155.5 L178.2,215.0 L178.4,248.1 L179.1,254.5 L179.8,260.5 L180.5,267.1 L181.1,270.3 L181.8,274.5 L182.5,277.6 L183.2,281.4 L183.9,282.3 L184.6,288.3 L185.3,292.9 L186.0,295.5 L186.7,298.1 L187.4,303.2 L188.0,307.1 L188.7,310.5 L189.4,311.4 L190.1,315.6 L190.8,316.0 L191.5,314.3 L192.2,315.2 L192.9,311.9 L193.6,315.3 L194.3,313.7 L194.9,312.0 L195.6,311.6 L196.3,308.2 L197.0,307.9 L197.7,309.1 L198.4,312.1 L199.1,311.3 L199.8,316.4 L200.1,315.3 L200.5,316.1 L200.8,315.4 L201.2,318.8 L201.5,320.2 L201.8,320.2 L202.2,319.1 L202.5,321.9 L202.9,319.5 L203.2,322.8 L203.6,322.2 L203.9,321.3 L204.3,322.6 L204.6,323.5 L205.0,322.3 L205.3,325.3 L205.6,323.9 L206.0,326.5 L206.3,326.8 L206.7,324.1 L207.0,327.0 L207.4,326.1 L207.7,328.6 L208.1,328.2 L208.4,328.3 L208.7,330.8 L209.1,327.6 L209.4,330.4 L209.8,329.9 L210.1,329.2 L210.5,332.9 L210.8,332.6 L211.2,334.7 L211.5,333.9 L211.9,333.3 L212.2,336.8 L212.5,333.5 L212.9,333.8 L213.2,337.4 L213.6,336.3 L213.9,336.9 L214.3,339.4 L214.6,337.1 L215.0,339.8 L215.3,338.9 L215.6,337.6 L216.0,336.6 L216.3,337.6 L216.7,340.9 L217.0,338.6 L217.4,337.7 L217.7,338.5 L218.1,341.3 L218.4,338.2 L218.8,341.1 L219.1,338.4 L219.4,342.1 L219.8,340.3 L220.1,338.2 L220.5,342.2 L220.8,339.7 L221.2,341.5 L221.5,340.6 L221.9,338.8 L222.2,338.9 L222.5,339.2 L222.9,339.3 L223.2,338.9 L223.6,338.9 L223.9,343.0 L224.3,339.3 L224.6,341.2 L225.0,339.5 L225.3,340.0 L225.7,342.5 L226.0,343.3 L226.3,341.3 L226.7,339.4 L227.0,343.8 L227.4,339.7 L227.7,341.3 L228.1,342.0 L228.4,343.6 L228.8,343.4 L229.1,342.5 L229.4,341.6 L229.8,343.5 L230.1,343.6 L230.5,343.6 L230.8,343.0 L231.2,340.2 L231.5,341.1 L231.9,341.9 L232.2,342.0 L232.6,343.5 L232.9,340.8 L233.2,342.7 L233.6,341.4 L233.9,343.2 L234.3,340.3 L234.6,341.1 L235.0,339.0 L235.3,339.1 L235.7,341.8 L236.0,338.7 L236.3,341.7 L236.7,340.5 L237.0,338.8 L237.4,342.5 L237.7,339.7 L238.1,343.5 L238.4,340.0 L238.8,343.1 L239.1,341.1 L239.5,342.0 L239.8,344.9 L240.1,343.0 L240.5,343.9 L240.8,344.5 L241.2,341.9 L241.5,345.3 L241.9,345.8 L242.2,342.5 L242.6,344.4 L242.9,343.3 L243.2,345.4 L243.6,342.4 L243.9,344.6 L244.3,346.0 L244.6,345.8 L245.0,343.2 L245.3,346.5 L245.7,343.9 L246.0,346.6 L246.4,345.3 L246.7,343.9 L247.0,346.5 L247.4,346.9 L247.7,346.5 L248.1,347.7 L248.4,344.6 L248.8,344.6 L249.1,344.2 L249.5,346.0 L249.8,345.4 L250.1,345.3 L250.5,345.8 L250.8,345.0 L251.2,343.8 L251.5,345.5 L251.9,344.5 L252.4,345.0 L252.6,300.0 L252.9,89.0 L253.4,89.0 L253.6,300.0 L254.0,345.0 L254.6,345.3 L255.0,347.3 L255.3,344.9 L255.7,346.7 L256.0,347.0 L256.4,345.8 L256.7,346.5 L257.0,348.1 L257.4,346.1 L257.7,347.3 L258.1,347.7 L258.4,346.3 L258.8,348.2 L259.1,347.1 L259.5,346.8 L259.8,347.4 L260.2,346.6 L260.5,347.5 L260.8,346.3 L261.2,348.1 L261.5,347.1 L261.9,346.3 L262.2,346.8 L262.6,348.1 L262.9,347.9 L263.3,347.0 L263.6,346.7 L263.9,346.8 L264.3,348.5 L264.6,346.1 L265.0,348.3 L265.3,348.2 L265.7,346.5 L266.0,346.8 L266.4,347.5 L266.7,348.1 L267.1,348.6 L267.4,348.7 L267.7,346.7 L268.1,346.5 L268.4,347.4 L268.8,347.6 L269.1,347.9 L269.5,346.4 L269.8,347.9 L270.2,348.7 L270.5,348.7 L270.8,348.7 L271.2,348.7 L271.5,348.8 L271.9,346.2 L272.2,348.7 L272.6,346.9 L272.9,347.0 L273.3,347.4 L273.6,348.8 L274.0,347.8 L274.3,347.1 L274.6,347.1 L275.0,348.6 L275.3,348.4 L275.7,346.5 L276.0,346.8 L276.4,347.1 L276.7,346.7 L277.1,347.7 L277.4,346.7 L277.7,347.7 L278.1,348.7 L278.4,348.5 L278.8,346.4 L279.1,346.7 L279.5,347.3 L279.8,347.9 L280.2,347.2 L280.5,346.8 L280.9,347.0 L281.2,346.6 L281.5,348.4 L281.9,348.0 L282.2,347.1 L282.6,347.9 L282.9,347.4 L283.3,347.4 L283.6,346.9 L284.0,347.3 L284.3,348.6 L284.6,348.1 L285.0,348.2 L285.3,346.2 L285.7,347.2 L286.0,346.8 L286.4,346.0 L286.7,346.9 L287.1,346.0 L287.4,346.4 L287.8,347.9 L288.1,347.6 L288.4,347.6 L288.8,345.9 L289.1,346.1 L289.5,345.7 L289.8,345.9 L290.2,345.9 L290.5,348.4 L290.9,348.2 L291.2,346.3 L291.5,346.5 L291.9,348.5 L292.2,347.5 L292.6,347.0 L292.9,347.3 L293.3,346.8 L293.6,347.7 L294.0,348.1 L294.3,347.6 L294.7,348.5 L295.0,346.6 L295.3,348.0 L295.7,349.1 L296.0,346.8 L296.4,347.8 L296.7,348.2 L297.1,347.5 L297.4,349.3 L297.8,348.0 L298.1,348.0 L298.4,349.2 L298.8,346.8 L299.1,349.2 L299.5,347.2 L299.8,347.9 L300.2,348.3 L300.5,348.2 L300.9,347.0 L301.2,347.8 L301.6,347.9 L301.9,349.6 L302.2,349.5 L302.6,348.5 L302.9,349.5 L303.3,349.3 L303.6,348.0 L304.0,347.2 L304.3,348.6 L304.7,347.8 L305.0,346.9 L305.3,349.6 L305.7,349.6 L306.0,348.4 L306.4,348.6 L306.7,348.8 L307.1,349.5 L307.4,348.2 L307.8,348.5 L308.1,347.5 L308.5,347.6 L308.8,348.4 L309.1,347.5 L309.5,347.0 L309.8,347.9 L310.2,349.0 L310.5,347.6 L310.9,349.1 L311.2,348.6 L311.6,348.4 L311.9,349.0 L312.2,346.7 L312.6,346.9 L312.9,348.9 L313.3,348.8 L313.6,346.4 L314.0,348.3 L314.3,346.1 L314.7,346.3 L315.0,346.2 L315.4,346.3 L315.7,346.3 L316.0,347.4 L316.4,345.7 L316.7,344.4 L317.1,344.5 L317.4,343.4 L317.8,343.1 L318.1,343.8 L318.5,343.7 L318.8,342.6 L319.1,343.4 L319.5,343.1 L319.8,345.0 L320.2,344.7 L320.5,344.5 L320.9,345.9 L321.2,345.5 L321.6,346.2 L321.9,346.1 L322.3,348.1 L322.6,346.8 L322.9,348.7 L323.3,347.2 L323.6,346.6 L324.0,348.2 L324.3,348.3 L324.7,348.8 L325.0,346.7 L325.4,348.6 L325.7,348.9 L326.0,347.4 L326.4,347.8 L326.7,348.3 L327.1,347.4 L327.4,349.2 L327.8,348.7 L328.1,349.2 L328.5,348.1 L328.8,348.4 L329.2,347.5 L329.5,347.9 L329.8,349.1 L330.2,349.8 L330.5,347.5 L330.9,347.3 L331.2,347.3 L331.6,348.4 L331.9,349.4 L332.3,347.8 L332.6,348.5 L332.9,348.6 L333.3,349.5 L333.6,347.7 L334.0,347.3 L334.3,348.6 L334.7,348.2 L335.0,348.1 L335.4,349.4 L335.7,349.2 L336.1,347.5 L336.4,348.8 L336.7,349.5 L337.1,349.9 L337.4,347.3 L337.8,349.6 L338.1,347.5 L338.5,349.3 L338.8,349.0 L339.2,350.0 L339.5,349.2 L339.8,347.6 L340.2,349.3 L340.5,348.1 L340.9,349.7 L341.2,347.4 L341.6,348.2 L341.9,349.2 L342.3,347.7 L342.6,349.1 L343.0,349.2 L343.3,349.3 L343.6,349.7 L344.0,348.4 L344.3,347.6 L344.7,347.9 L345.0,348.2 L345.4,347.3 L345.7,349.1 L346.1,347.3 L346.4,347.2 L346.7,349.7 L347.1,349.3 L347.4,347.7 L347.8,348.0 L348.1,349.3 L348.5,348.7 L348.8,347.7 L349.2,348.2 L349.5,349.3 L349.9,346.9 L350.2,349.7 L350.5,348.4 L350.9,347.3 L351.2,349.0 L351.6,346.9 L351.9,347.8 L352.3,348.2 L352.6,347.2 L353.0,349.0 L353.3,348.4 L353.6,346.9 L354.0,346.8 L354.3,346.5 L354.7,347.9 L355.0,346.8 L355.4,347.7 L355.7,348.4 L356.1,348.6 L356.4,346.4 L356.8,346.9 L357.1,347.1 L357.4,347.0 L357.8,346.0 L358.1,344.8 L358.5,344.4 L358.8,341.8 L359.2,340.6 L359.5,339.5 L359.9,337.5 L360.2,337.0 L360.5,333.9 L360.9,333.0 L361.2,330.4 L361.6,326.3 L361.9,324.7 L362.3,324.6 L362.6,322.3 L363.0,319.1 L363.3,319.2 L363.7,317.4 L364.0,319.9 L364.3,321.1 L364.7,323.0 L365.0,323.7 L365.4,325.7 L365.7,325.3 L366.1,327.0 L366.4,328.5 L366.8,333.0 L367.1,333.2 L367.4,336.6 L367.8,338.7 L368.1,341.3 L368.5,341.0 L368.8,341.2 L369.2,342.8 L369.5,342.8 L369.9,344.4 L370.2,346.3 L370.6,345.6 L370.9,349.1 L371.2,348.1 L371.6,347.5 L371.9,349.0 L372.3,347.2 L372.6,347.7 L373.0,349.3 L373.3,347.6 L373.7,348.8 L374.0,347.4 L374.3,348.4 L374.7,348.8 L375.0,347.8 L375.4,348.1 L375.7,348.6 L376.1,348.8 L376.4,347.9 L376.8,348.5 L377.1,349.7 L377.5,348.4 L377.8,349.3 L378.1,348.3 L378.5,348.8 L378.8,348.9 L379.2,349.1 L379.5,349.3 L379.9,349.5 L380.2,349.3 L380.6,349.5 L380.9,349.6 L381.2,348.8 L381.6,349.6 L381.9,349.1 L382.3,348.7 L382.6,348.6 L383.0,349.5 L383.3,349.3 L383.7,348.4 L384.0,349.3 L384.4,348.4 L384.7,349.0 L385.0,349.3 L385.4,349.4 L385.7,348.6 L386.1,348.5 L386.4,349.3 L386.8,349.7 L387.1,349.7 L387.5,349.0 L387.8,349.4 L388.1,349.6 L388.5,349.9 L388.8,349.3 L389.2,349.9 L389.5,349.0 L389.9,348.8 L390.2,349.0 L390.6,349.7 L390.9,349.9 L391.3,349.3 L391.6,349.6 L391.9,348.7 L392.3,349.3 L392.6,349.2 L393.0,349.2 L393.3,348.8 L393.7,349.5 L394.0,349.6 L394.4,349.5 L394.7,349.7 L395.0,349.2 L395.4,349.9 L395.7,349.4 L396.1,349.9 L396.4,349.2 L396.8,349.6 L397.1,348.8 L397.5,348.6 L397.8,350.0 L398.2,349.1 L398.5,348.6 L398.8,349.5 L399.2,350.0 L399.5,349.7 L399.9,350.1 L400.2,350.0 L400.6,349.2 L400.9,348.8 L401.3,348.6 L401.6,348.9 L401.9,349.5 L402.3,349.9 L402.6,348.4 L403.0,349.7 L403.3,349.6 L403.7,349.5 L404.0,348.6 L404.4,348.5 L404.7,349.5 L405.1,349.4 L405.4,348.9 L405.7,348.9 L406.1,348.4 L406.4,349.9 L406.8,349.6 L407.1,349.8 L407.5,349.6 L407.8,349.0 L408.2,349.6 L408.5,348.6 L408.8,349.3 L409.2,348.6 L409.5,348.8 L409.9,349.6 L410.2,348.8 L410.6,349.4 L410.9,348.8 L411.3,348.2 L411.6,348.0 L412.0,347.4 L412.3,348.2 L412.6,348.5 L413.0,347.4 L413.3,347.6 L413.7,348.3 L414.0,347.2 L414.4,348.0 L414.7,347.6 L415.1,346.9 L415.4,346.3 L415.7,344.6 L416.1,344.5 L416.4,344.1 L416.8,342.4 L417.1,341.3 L417.5,340.5 L417.8,339.9 L418.2,339.3 L418.5,339.6 L418.9,338.4 L419.2,337.9 L419.5,336.9 L419.9,336.2 L420.2,336.2 L420.6,337.4 L420.9,337.4 L421.3,338.7 L421.6,339.9 L422.0,341.3 L422.3,341.1 L422.6,342.2 L423.0,343.2 L423.3,343.3 L423.7,344.8 L424.0,346.1 L424.4,345.8 L424.7,346.9 L425.1,346.9 L425.4,347.6 L425.8,348.4 L426.1,347.8 L426.4,347.3 L426.8,347.6 L427.1,348.1 L427.5,348.6 L427.8,348.0 L428.2,348.1 L428.5,348.7 L428.9,347.6 L429.2,349.1 L429.5,348.4 L429.9,348.2 L430.2,348.9 L430.6,348.0 L430.9,347.8 L431.3,347.9 L431.6,348.5 L432.0,347.5 L432.3,348.0 L432.7,347.6 L433.0,348.1 L433.3,347.4 L433.7,348.3 L434.0,348.5 L434.4,347.5 L434.7,347.5 L435.1,347.8 L435.4,348.0 L435.8,346.8 L436.1,347.8 L436.4,348.0 L436.8,347.9 L437.1,347.3 L437.5,347.9 L437.8,347.4 L438.2,346.8 L438.5,346.9 L438.9,347.3 L439.2,347.2 L439.6,347.6 L439.9,347.4 L440.2,346.6 L440.6,346.8 L440.9,347.6 L441.3,347.2 L441.6,346.9 L442.0,348.2 L442.3,347.5 L442.7,347.4 L443.0,347.8 L443.3,347.6 L443.7,347.7 L444.0,348.4 L444.4,348.8 L444.7,348.3 L445.1,348.0 L445.4,348.6 L445.8,348.6 L446.1,348.7 L446.5,348.5 L446.8,349.5 L447.1,348.7 L447.5,348.5 L447.8,349.7 L448.2,349.8 L448.5,349.1 L448.9,349.1 L449.2,349.9 L449.6,350.5 L449.9,349.6 L450.2,350.1 L450.6,349.7 L450.9,350.5 L451.3,350.1 L451.6,350.0 L452.0,350.4 L452.3,350.3 L452.7,349.8 L453.0,350.2 L453.4,351.1 L453.7,350.9 L454.0,350.4 L454.4,350.7 L454.7,349.9 L455.1,350.4 L455.4,351.1 L455.8,349.9 L456.1,351.2 L456.5,351.0 L456.8,350.7 L457.1,350.1 L457.5,349.7 L457.8,350.0 L458.2,350.7 L458.5,350.1 L458.9,350.7 L459.2,349.7 L459.6,350.7 L459.9,350.7 L460.3,350.5 L460.6,349.6 L460.9,349.6 L461.3,349.4 L461.6,349.3 L462.0,350.4 L462.3,349.9 L462.7,350.2 L463.0,349.3 L463.4,349.3 L463.7,350.1 L464.0,350.1 L464.4,348.6 L464.7,349.5 L465.1,349.1 L465.4,348.1 L465.8,348.9 L466.1,348.3 L466.5,348.3 L466.8,349.1 L467.2,348.7 L467.5,347.5 L467.8,348.3 L468.2,347.2 L468.5,348.4 L468.9,347.9 L469.2,347.8 L469.6,346.7 L469.9,346.7 L470.3,347.3 L470.6,347.0 L470.9,347.6 L471.3,346.6 L471.6,346.7 L472.0,346.1 L472.3,346.6 L472.7,347.2 L473.0,346.2 L473.4,347.0 L473.7,346.1 L474.1,347.2 L474.4,346.7 L474.7,346.1 L475.1,347.2 L475.4,347.4 L475.8,346.2 L476.1,346.2 L476.5,346.5 L476.8,346.9 L477.2,347.6 L477.5,347.5 L477.8,346.7 L478.2,346.3 L478.5,347.2 L478.9,347.2 L479.2,346.7 L479.6,347.3 L479.9,348.0 L480.3,346.7 L480.6,347.0 L481.0,347.9 L481.3,346.8 L481.6,346.8 L482.0,346.9 L482.3,347.9 L482.7,346.9 L483.0,346.8 L483.4,347.7 L483.7,347.9 L484.1,347.9 L484.4,347.4 L484.7,348.2 L485.1,346.9 L485.4,347.4 L485.8,347.3 L486.1,347.6 L486.5,347.0 L486.8,346.9 L487.2,348.3 L487.5,347.2 L487.9,347.5" fill="none" stroke="#ff0000" stroke-width="1.0" stroke-linejoin="round" />
<path d="M88.0,344.7L91.0,349.9L85.0,349.9Z" fill="#fff" stroke="#ff0000" stroke-width="1.2"/><path d="M88.3,346.3L91.3,351.5L85.3,351.5Z" fill="#fff" stroke="#ff0000" stroke-width="1.2"/><path d="M88.7,344.7L91.7,349.9L85.7,349.9Z" fill="#fff" stroke="#ff0000" stroke-width="1.2"/><path d="M89.0,345.0L92.0,350.2L86.0,350.2Z" fill="#fff" stroke="#ff0000" stroke-width="1.2"/><path d="M89.4,345.2L92.4,350.4L86.4,350.4Z" fill="#fff" stroke="#ff0000" stroke-width="1.2"/><path d="M89.7,343.4L92.7,348.6L86.7,348.6Z" fill="#fff" stroke="#ff0000" stroke-width="1.2"/><path d="M90.1,342.7L93.1,347.9L87.1,347.9Z" fill="#fff" stroke="#ff0000" stroke-width="1.2"/><path d="M90.4,340.9L93.4,346.1L87.4,346.1Z" fill="#fff" stroke="#ff0000" stroke-width="1.2"/><path d="M90.8,340.9L93.8,346.1L87.8,346.1Z" fill="#fff" stroke="#ff0000" stroke-width="1.2"/><path d="M91.1,341.0L94.1,346.2L88.1,346.2Z" fill="#fff" stroke="#ff0000" stroke-width="1.2"/><path d="M91.4,341.0L94.4,346.2L88.4,346.2Z" fill="#fff" stroke="#ff0000" stroke-width="1.2"/><path d="M91.8,340.8L94.8,346.0L88.8,346.0Z" fill="#fff" stroke="#ff0000" stroke-width="1.2"/><path d="M92.1,339.0L95.1,344.2L89.1,344.2Z" fill="#fff" stroke="#ff0000" stroke-width="1.2"/><path d="M92.5,337.5L95.5,342.7L89.5,342.7Z" fill="#fff" stroke="#ff0000" stroke-width="1.2"/><path d="M92.8,337.6L95.8,342.8L89.8,342.8Z" fill="#fff" stroke="#ff0000" stroke-width="1.2"/><path d="M93.2,339.0L96.2,344.2L90.2,344.2Z" fill="#fff" stroke="#ff0000" stroke-width="1.2"/><path d="M93.5,336.5L96.5,341.7L90.5,341.7Z" fill="#fff" stroke="#ff0000" stroke-width="1.2"/><path d="M93.9,336.8L96.9,342.0L90.9,342.0Z" fill="#fff" stroke="#ff0000" stroke-width="1.2"/><path d="M94.2,337.8L97.2,343.0L91.2,343.0Z" fill="#fff" stroke="#ff0000" stroke-width="1.2"/><path d="M94.6,334.7L97.6,339.9L91.6,339.9Z" fill="#fff" stroke="#ff0000" stroke-width="1.2"/><path d="M94.9,336.0L97.9,341.2L91.9,341.2Z" fill="#fff" stroke="#ff0000" stroke-width="1.2"/><path d="M95.2,336.7L98.2,341.9L92.2,341.9Z" fill="#fff" stroke="#ff0000" stroke-width="1.2"/><path d="M95.6,334.1L98.6,339.3L92.6,339.3Z" fill="#fff" stroke="#ff0000" stroke-width="1.2"/><path d="M95.9,334.8L98.9,340.0L92.9,340.0Z" fill="#fff" stroke="#ff0000" stroke-width="1.2"/><path d="M96.3,335.6L99.3,340.8L93.3,340.8Z" fill="#fff" stroke="#ff0000" stroke-width="1.2"/><path d="M96.6,333.1L99.6,338.3L93.6,338.3Z" fill="#fff" stroke="#ff0000" stroke-width="1.2"/><path d="M97.0,334.0L100.0,339.2L94.0,339.2Z" fill="#fff" stroke="#ff0000" stroke-width="1.2"/><path d="M97.3,334.4L100.3,339.6L94.3,339.6Z" fill="#fff" stroke="#ff0000" stroke-width="1.2"/><path d="M97.7,334.1L100.7,339.3L94.7,339.3Z" fill="#fff" stroke="#ff0000" stroke-width="1.2"/><path d="M98.0,333.7L101.0,338.9L95.0,338.9Z" fill="#fff" stroke="#ff0000" stroke-width="1.2"/><path d="M98.3,333.0L101.3,338.2L95.3,338.2Z" fill="#fff" stroke="#ff0000" stroke-width="1.2"/><path d="M98.7,334.1L101.7,339.3L95.7,339.3Z" fill="#fff" stroke="#ff0000" stroke-width="1.2"/><path d="M99.0,333.9L102.0,339.1L96.0,339.1Z" fill="#fff" stroke="#ff0000" stroke-width="1.2"/><path d="M99.4,334.4L102.4,339.6L96.4,339.6Z" fill="#fff" stroke="#ff0000" stroke-width="1.2"/><path d="M99.7,334.4L102.7,339.6L96.7,339.6Z" fill="#fff" stroke="#ff0000" stroke-width="1.2"/><path d="M100.1,336.2L103.1,341.4L97.1,341.4Z" fill="#fff" stroke="#ff0000" stroke-width="1.2"/><path d="M100.4,336.5L103.4,341.7L97.4,341.7Z" fill="#fff" stroke="#ff0000" stroke-width="1.2"/><path d="M100.8,335.5L103.8,340.7L97.8,340.7Z" fill="#fff" stroke="#ff0000" stroke-width="1.2"/><path d="M101.1,336.7L104.1,341.9L98.1,341.9Z" fill="#fff" stroke="#ff0000" stroke-width="1.2"/><path d="M101.5,336.3L104.5,341.5L98.5,341.5Z" fill="#fff" stroke="#ff0000" stroke-width="1.2"/><path d="M101.8,337.3L104.8,342.5L98.8,342.5Z" fill="#fff" stroke="#ff0000" stroke-width="1.2"/><path d="M102.1,337.4L105.1,342.6L99.1,342.6Z" fill="#fff" stroke="#ff0000" stroke-width="1.2"/><path d="M102.5,338.8L105.5,344.0L99.5,344.0Z" fill="#fff" stroke="#ff0000" stroke-width="1.2"/><path d="M102.8,338.4L105.8,343.6L99.8,343.6Z" fill="#fff" stroke="#ff0000" stroke-width="1.2"/><path d="M103.2,339.1L106.2,344.3L100.2,344.3Z" fill="#fff" stroke="#ff0000" stroke-width="1.2"/><path d="M103.5,340.4L106.5,345.6L100.5,345.6Z" fill="#fff" stroke="#ff0000" stroke-width="1.2"/><path d="M103.9,339.9L106.9,345.1L100.9,345.1Z" fill="#fff" stroke="#ff0000" stroke-width="1.2"/><path d="M104.2,341.8L107.2,347.0L101.2,347.0Z" fill="#fff" stroke="#ff0000" stroke-width="1.2"/><path d="M104.6,340.0L107.6,345.2L101.6,345.2Z" fill="#fff" stroke="#ff0000" stroke-width="1.2"/><path d="M104.9,341.3L107.9,346.5L101.9,346.5Z" fill="#fff" stroke="#ff0000" stroke-width="1.2"/><path d="M105.6,339.7L108.6,344.9L102.6,344.9Z" fill="#fff" stroke="#ff0000" stroke-width="1.2"/><path d="M106.3,339.0L109.3,344.2L103.3,344.2Z" fill="#fff" stroke="#ff0000" stroke-width="1.2"/><path d="M107.0,338.2L110.0,343.4L104.0,343.4Z" fill="#fff" stroke="#ff0000" stroke-width="1.2"/><path d="M107.7,336.0L110.7,341.2L104.7,341.2Z" fill="#fff" stroke="#ff0000" stroke-width="1.2"/><path d="M108.4,333.5L111.4,338.7L105.4,338.7Z" fill="#fff" stroke="#ff0000" stroke-width="1.2"/><path d="M109.0,329.6L112.0,334.8L106.0,334.8Z" fill="#fff" stroke="#ff0000" stroke-width="1.2"/><path d="M109.7,327.4L112.7,332.6L106.7,332.6Z" fill="#fff" stroke="#ff0000" stroke-width="1.2"/><path d="M110.4,327.4L113.4,332.6L107.4,332.6Z" fill="#fff" stroke="#ff0000" stroke-width="1.2"/><path d="M111.1,324.4L114.1,329.6L108.1,329.6Z" fill="#fff" stroke="#ff0000" stroke-width="1.2"/><path d="M111.8,322.7L114.8,327.9L108.8,327.9Z" fill="#fff" stroke="#ff0000" stroke-width="1.2"/><path d="M112.5,321.3L115.5,326.5L109.5,326.5Z" fill="#fff" stroke="#ff0000" stroke-width="1.2"/><path d="M113.2,317.9L116.2,323.1L110.2,323.1Z" fill="#fff" stroke="#ff0000" stroke-width="1.2"/><path d="M113.9,313.7L116.9,318.9L110.9,318.9Z" fill="#fff" stroke="#ff0000" stroke-width="1.2"/><path d="M114.6,314.1L117.6,319.3L111.6,319.3Z" fill="#fff" stroke="#ff0000" stroke-width="1.2"/><path d="M115.3,314.6L118.3,319.8L112.3,319.8Z" fill="#fff" stroke="#ff0000" stroke-width="1.2"/><path d="M115.9,312.4L118.9,317.6L112.9,317.6Z" fill="#fff" stroke="#ff0000" stroke-width="1.2"/><path d="M116.6,316.8L119.6,322.0L113.6,322.0Z" fill="#fff" stroke="#ff0000" stroke-width="1.2"/><path d="M117.3,317.9L120.3,323.1L114.3,323.1Z" fill="#fff" stroke="#ff0000" stroke-width="1.2"/><path d="M118.0,318.7L121.0,323.9L115.0,323.9Z" fill="#fff" stroke="#ff0000" stroke-width="1.2"/><path d="M118.7,319.3L121.7,324.5L115.7,324.5Z" fill="#fff" stroke="#ff0000" stroke-width="1.2"/><path d="M119.4,323.6L122.4,328.8L116.4,328.8Z" fill="#fff" stroke="#ff0000" stroke-width="1.2"/><path d="M120.0,322.2L123.0,327.4L117.0,327.4Z" fill="#fff" stroke="#ff0000" stroke-width="1.2"/><path d="M120.4,323.9L123.4,329.1L117.4,329.1Z" fill="#fff" stroke="#ff0000" stroke-width="1.2"/><path d="M120.8,325.4L123.8,330.6L117.8,330.6Z" fill="#fff" stroke="#ff0000" stroke-width="1.2"/><path d="M121.1,327.4L124.1,332.6L118.1,332.6Z" fill="#fff" stroke="#ff0000" stroke-width="1.2"/><path d="M121.5,326.9L124.5,332.1L118.5,332.1Z" fill="#fff" stroke="#ff0000" stroke-width="1.2"/><path d="M121.8,325.8L124.8,331.0L118.8,331.0Z" fill="#fff" stroke="#ff0000" stroke-width="1.2"/><path d="M122.2,327.5L125.2,332.7L119.2,332.7Z" fill="#fff" stroke="#ff0000" stroke-width="1.2"/><path d="M122.5,328.1L125.5,333.3L119.5,333.3Z" fill="#fff" stroke="#ff0000" stroke-width="1.2"/><path d="M122.8,328.7L125.8,333.9L119.8,333.9Z" fill="#fff" stroke="#ff0000" stroke-width="1.2"/><path d="M123.2,328.7L126.2,333.9L120.2,333.9Z" fill="#fff" stroke="#ff0000" stroke-width="1.2"/><path d="M123.5,330.6L126.5,335.8L120.5,335.8Z" fill="#fff" stroke="#ff0000" stroke-width="1.2"/><path d="M123.9,331.5L126.9,336.7L120.9,336.7Z" fill="#fff" stroke="#ff0000" stroke-width="1.2"/><path d="M124.2,333.5L127.2,338.7L121.2,338.7Z" fill="#fff" stroke="#ff0000" stroke-width="1.2"/><path d="M124.6,333.8L127.6,339.0L121.6,339.0Z" fill="#fff" stroke="#ff0000" stroke-width="1.2"/><path d="M124.9,332.6L127.9,337.8L121.9,337.8Z" fill="#fff" stroke="#ff0000" stroke-width="1.2"/><path d="M125.3,332.4L128.3,337.6L122.3,337.6Z" fill="#fff" stroke="#ff0000" stroke-width="1.2"/><path d="M125.6,334.2L128.6,339.4L122.6,339.4Z" fill="#fff" stroke="#ff0000" stroke-width="1.2"/><path d="M125.9,334.9L128.9,340.1L122.9,340.1Z" fill="#fff" stroke="#ff0000" stroke-width="1.2"/><path d="M126.3,334.0L129.3,339.2L123.3,339.2Z" fill="#fff" stroke="#ff0000" stroke-width="1.2"/><path d="M126.6,334.8L129.6,340.0L123.6,340.0Z" fill="#fff" stroke="#ff0000" stroke-width="1.2"/><path d="M127.0,335.7L130.0,340.9L124.0,340.9Z" fill="#fff" stroke="#ff0000" stroke-width="1.2"/><path d="M127.3,331.4L130.3,336.6L124.3,336.6Z" fill="#fff" stroke="#ff0000" stroke-width="1.2"/><path d="M127.7,335.7L130.7,340.9L124.7,340.9Z" fill="#fff" stroke="#ff0000" stroke-width="1.2"/><path d="M128.0,332.9L131.0,338.1L125.0,338.1Z" fill="#fff" stroke="#ff0000" stroke-width="1.2"/><path d="M128.4,333.9L131.4,339.1L125.4,339.1Z" fill="#fff" stroke="#ff0000" stroke-width="1.2"/><path d="M128.7,335.6L131.7,340.8L125.7,340.8Z" fill="#fff" stroke="#ff0000" stroke-width="1.2"/><path d="M129.1,335.2L132.1,340.4L126.1,340.4Z" fill="#fff" stroke="#ff0000" stroke-width="1.2"/><path d="M129.4,332.4L132.4,337.6L126.4,337.6Z" fill="#fff" stroke="#ff0000" stroke-width="1.2"/><path d="M129.7,335.0L132.7,340.2L126.7,340.2Z" fill="#fff" stroke="#ff0000" stroke-width="1.2"/><path d="M130.1,332.1L133.1,337.3L127.1,337.3Z" fill="#fff" stroke="#ff0000" stroke-width="1.2"/><path d="M130.4,333.5L133.4,338.7L127.4,338.7Z" fill="#fff" stroke="#ff0000" stroke-width="1.2"/><path d="M130.8,335.8L133.8,341.0L127.8,341.0Z" fill="#fff" stroke="#ff0000" stroke-width="1.2"/><path d="M131.1,334.0L134.1,339.2L128.1,339.2Z" fill="#fff" stroke="#ff0000" stroke-width="1.2"/><path d="M131.5,334.8L134.5,340.0L128.5,340.0Z" fill="#fff" stroke="#ff0000" stroke-width="1.2"/><path d="M131.8,335.5L134.8,340.7L128.8,340.7Z" fill="#fff" stroke="#ff0000" stroke-width="1.2"/><path d="M132.2,336.0L135.2,341.2L129.2,341.2Z" fill="#fff" stroke="#ff0000" stroke-width="1.2"/><path d="M132.5,335.8L135.5,341.0L129.5,341.0Z" fill="#fff" stroke="#ff0000" stroke-width="1.2"/><path d="M132.8,332.0L135.8,337.2L129.8,337.2Z" fill="#fff" stroke="#ff0000" stroke-width="1.2"/><path d="M133.2,334.0L136.2,339.2L130.2,339.2Z" fill="#fff" stroke="#ff0000" stroke-width="1.2"/><path d="M133.5,334.2L136.5,339.4L130.5,339.4Z" fill="#fff" stroke="#ff0000" stroke-width="1.2"/><path d="M133.9,332.0L136.9,337.2L130.9,337.2Z" fill="#fff" stroke="#ff0000" stroke-width="1.2"/><path d="M134.2,334.3L137.2,339.5L131.2,339.5Z" fill="#fff" stroke="#ff0000" stroke-width="1.2"/><path d="M134.6,334.6L137.6,339.8L131.6,339.8Z" fill="#fff" stroke="#ff0000" stroke-width="1.2"/><path d="M134.9,335.6L137.9,340.8L131.9,340.8Z" fill="#fff" stroke="#ff0000" stroke-width="1.2"/><path d="M135.3,336.0L138.3,341.2L132.3,341.2Z" fill="#fff" stroke="#ff0000" stroke-width="1.2"/><path d="M135.6,331.9L138.6,337.1L132.6,337.1Z" fill="#fff" stroke="#ff0000" stroke-width="1.2"/><path d="M136.0,332.3L139.0,337.5L133.0,337.5Z" fill="#fff" stroke="#ff0000" stroke-width="1.2"/><path d="M136.3,334.3L139.3,339.5L133.3,339.5Z" fill="#fff" stroke="#ff0000" stroke-width="1.2"/><path d="M136.6,331.6L139.6,336.8L133.6,336.8Z" fill="#fff" stroke="#ff0000" stroke-width="1.2"/><path d="M137.0,331.9L140.0,337.1L134.0,337.1Z" fill="#fff" stroke="#ff0000" stroke-width="1.2"/><path d="M137.3,333.6L140.3,338.8L134.3,338.8Z" fill="#fff" stroke="#ff0000" stroke-width="1.2"/><path d="M137.7,331.4L140.7,336.6L134.7,336.6Z" fill="#fff" stroke="#ff0000" stroke-width="1.2"/><path d="M138.0,334.4L141.0,339.6L135.0,339.6Z" fill="#fff" stroke="#ff0000" stroke-width="1.2"/><path d="M138.4,334.9L141.4,340.1L135.4,340.1Z" fill="#fff" stroke="#ff0000" stroke-width="1.2"/><path d="M138.7,330.8L141.7,336.0L135.7,336.0Z" fill="#fff" stroke="#ff0000" stroke-width="1.2"/><path d="M139.1,333.4L142.1,338.6L136.1,338.6Z" fill="#fff" stroke="#ff0000" stroke-width="1.2"/><path d="M139.4,334.8L142.4,340.0L136.4,340.0Z" fill="#fff" stroke="#ff0000" stroke-width="1.2"/><path d="M139.7,335.7L142.7,340.9L136.7,340.9Z" fill="#fff" stroke="#ff0000" stroke-width="1.2"/><path d="M140.1,332.3L143.1,337.5L137.1,337.5Z" fill="#fff" stroke="#ff0000" stroke-width="1.2"/><path d="M140.4,331.8L143.4,337.0L137.4,337.0Z" fill="#fff" stroke="#ff0000" stroke-width="1.2"/><path d="M140.8,335.4L143.8,340.6L137.8,340.6Z" fill="#fff" stroke="#ff0000" stroke-width="1.2"/><path d="M141.1,335.7L144.1,340.9L138.1,340.9Z" fill="#fff" stroke="#ff0000" stroke-width="1.2"/><path d="M141.5,332.2L144.5,337.4L138.5,337.4Z" fill="#fff" stroke="#ff0000" stroke-width="1.2"/><path d="M141.8,333.5L144.8,338.7L138.8,338.7Z" fill="#fff" stroke="#ff0000" stroke-width="1.2"/><path d="M142.2,334.9L145.2,340.1L139.2,340.1Z" fill="#fff" stroke="#ff0000" stroke-width="1.2"/><path d="M142.5,335.6L145.5,340.8L139.5,340.8Z" fill="#fff" stroke="#ff0000" stroke-width="1.2"/><path d="M142.9,332.3L145.9,337.5L139.9,337.5Z" fill="#fff" stroke="#ff0000" stroke-width="1.2"/><path d="M143.2,334.8L146.2,340.0L140.2,340.0Z" fill="#fff" stroke="#ff0000" stroke-width="1.2"/><path d="M143.5,335.4L146.5,340.6L140.5,340.6Z" fill="#fff" stroke="#ff0000" stroke-width="1.2"/><path d="M143.9,334.1L146.9,339.3L140.9,339.3Z" fill="#fff" stroke="#ff0000" stroke-width="1.2"/><path d="M144.2,332.1L147.2,337.3L141.2,337.3Z" fill="#fff" stroke="#ff0000" stroke-width="1.2"/><path d="M144.6,331.4L147.6,336.6L141.6,336.6Z" fill="#fff" stroke="#ff0000" stroke-width="1.2"/><path d="M144.9,332.5L147.9,337.7L141.9,337.7Z" fill="#fff" stroke="#ff0000" stroke-width="1.2"/><path d="M145.3,335.1L148.3,340.3L142.3,340.3Z" fill="#fff" stroke="#ff0000" stroke-width="1.2"/><path d="M145.6,331.2L148.6,336.4L142.6,336.4Z" fill="#fff" stroke="#ff0000" stroke-width="1.2"/><path d="M146.0,330.9L149.0,336.1L143.0,336.1Z" fill="#fff" stroke="#ff0000" stroke-width="1.2"/><path d="M146.3,332.6L149.3,337.8L143.3,337.8Z" fill="#fff" stroke="#ff0000" stroke-width="1.2"/><path d="M146.6,331.1L149.6,336.3L143.6,336.3Z" fill="#fff" stroke="#ff0000" stroke-width="1.2"/><path d="M147.0,331.4L150.0,336.6L144.0,336.6Z" fill="#fff" stroke="#ff0000" stroke-width="1.2"/><path d="M147.3,330.7L150.3,335.9L144.3,335.9Z" fill="#fff" stroke="#ff0000" stroke-width="1.2"/><path d="M147.7,333.2L150.7,338.4L144.7,338.4Z" fill="#fff" stroke="#ff0000" stroke-width="1.2"/><path d="M148.0,334.0L151.0,339.2L145.0,339.2Z" fill="#fff" stroke="#ff0000" stroke-width="1.2"/><path d="M148.4,332.4L151.4,337.6L145.4,337.6Z" fill="#fff" stroke="#ff0000" stroke-width="1.2"/><path d="M148.7,330.7L151.7,335.9L145.7,335.9Z" fill="#fff" stroke="#ff0000" stroke-width="1.2"/><path d="M149.1,331.4L152.1,336.6L146.1,336.6Z" fill="#fff" stroke="#ff0000" stroke-width="1.2"/><path d="M149.4,332.5L152.4,337.7L146.4,337.7Z" fill="#fff" stroke="#ff0000" stroke-width="1.2"/><path d="M149.8,334.0L152.8,339.2L146.8,339.2Z" fill="#fff" stroke="#ff0000" stroke-width="1.2"/><path d="M150.1,334.1L153.1,339.3L147.1,339.3Z" fill="#fff" stroke="#ff0000" stroke-width="1.2"/><path d="M150.4,330.1L153.4,335.3L147.4,335.3Z" fill="#fff" stroke="#ff0000" stroke-width="1.2"/><path d="M150.8,328.7L153.8,333.9L147.8,333.9Z" fill="#fff" stroke="#ff0000" stroke-width="1.2"/><path d="M151.1,332.6L154.1,337.8L148.1,337.8Z" fill="#fff" stroke="#ff0000" stroke-width="1.2"/><path d="M151.5,332.9L154.5,338.1L148.5,338.1Z" fill="#fff" stroke="#ff0000" stroke-width="1.2"/><path d="M151.8,330.5L154.8,335.7L148.8,335.7Z" fill="#fff" stroke="#ff0000" stroke-width="1.2"/><path d="M152.2,331.8L155.2,337.0L149.2,337.0Z" fill="#fff" stroke="#ff0000" stroke-width="1.2"/><path d="M152.5,332.2L155.5,337.4L149.5,337.4Z" fill="#fff" stroke="#ff0000" stroke-width="1.2"/><path d="M152.9,330.8L155.9,336.0L149.9,336.0Z" fill="#fff" stroke="#ff0000" stroke-width="1.2"/><path d="M153.2,331.9L156.2,337.1L150.2,337.1Z" fill="#fff" stroke="#ff0000" stroke-width="1.2"/><path d="M153.5,327.1L156.5,332.3L150.5,332.3Z" fill="#fff" stroke="#ff0000" stroke-width="1.2"/><path d="M153.9,323.8L156.9,329.0L150.9,329.0Z" fill="#fff" stroke="#ff0000" stroke-width="1.2"/><path d="M154.5,322.0L157.5,327.2L151.5,327.2Z" fill="#fff" stroke="#ff0000" stroke-width="1.2"/><path d="M154.5,327.0L157.5,332.2L151.5,332.2Z" fill="#fff" stroke="#ff0000" stroke-width="1.2"/><path d="M154.6,313.5L157.6,318.7L151.6,318.7Z" fill="#fff" stroke="#ff0000" stroke-width="1.2"/><path d="M155.0,300.8L158.0,306.0L152.0,306.0Z" fill="#fff" stroke="#ff0000" stroke-width="1.2"/><path d="M155.3,290.6L158.3,295.8L152.3,295.8Z" fill="#fff" stroke="#ff0000" stroke-width="1.2"/><path d="M155.5,131.0L158.5,136.2L152.5,136.2Z" fill="#fff" stroke="#ff0000" stroke-width="1.2"/><path d="M155.5,139.5L158.5,144.7L152.5,144.7Z" fill="#fff" stroke="#ff0000" stroke-width="1.2"/><path d="M155.5,143.5L158.5,148.7L152.5,148.7Z" fill="#fff" stroke="#ff0000" stroke-width="1.2"/><path d="M155.5,167.4L158.5,172.6L152.5,172.6Z" fill="#fff" stroke="#ff0000" stroke-width="1.2"/><path d="M155.5,171.5L158.5,176.7L152.5,176.7Z" fill="#fff" stroke="#ff0000" stroke-width="1.2"/><path d="M155.8,209.5L158.8,214.7L152.8,214.7Z" fill="#fff" stroke="#ff0000" stroke-width="1.2"/><path d="M156.0,274.0L159.0,279.2L153.0,279.2Z" fill="#fff" stroke="#ff0000" stroke-width="1.2"/><path d="M157.5,328.0L160.5,333.2L154.5,333.2Z" fill="#fff" stroke="#ff0000" stroke-width="1.2"/><path d="M158.0,326.6L161.0,331.8L155.0,331.8Z" fill="#fff" stroke="#ff0000" stroke-width="1.2"/><path d="M158.4,329.7L161.4,334.9L155.4,334.9Z" fill="#fff" stroke="#ff0000" stroke-width="1.2"/><path d="M158.7,325.3L161.7,330.5L155.7,330.5Z" fill="#fff" stroke="#ff0000" stroke-width="1.2"/><path d="M159.1,326.0L162.1,331.2L156.1,331.2Z" fill="#fff" stroke="#ff0000" stroke-width="1.2"/><path d="M160.4,293.1L163.4,298.3L157.4,298.3Z" fill="#fff" stroke="#ff0000" stroke-width="1.2"/><path d="M160.4,299.0L163.4,304.2L157.4,304.2Z" fill="#fff" stroke="#ff0000" stroke-width="1.2"/><path d="M160.4,306.7L163.4,311.9L157.4,311.9Z" fill="#fff" stroke="#ff0000" stroke-width="1.2"/><path d="M160.5,314.4L163.5,319.6L157.5,319.6Z" fill="#fff" stroke="#ff0000" stroke-width="1.2"/><path d="M160.6,322.8L163.6,328.0L157.6,328.0Z" fill="#fff" stroke="#ff0000" stroke-width="1.2"/><path d="M161.8,323.2L164.8,328.4L158.8,328.4Z" fill="#fff" stroke="#ff0000" stroke-width="1.2"/><path d="M162.2,327.6L165.2,332.8L159.2,332.8Z" fill="#fff" stroke="#ff0000" stroke-width="1.2"/><path d="M162.5,328.2L165.5,333.4L159.5,333.4Z" fill="#fff" stroke="#ff0000" stroke-width="1.2"/><path d="M162.9,327.5L165.9,332.7L159.9,332.7Z" fill="#fff" stroke="#ff0000" stroke-width="1.2"/><path d="M163.2,329.3L166.2,334.5L160.2,334.5Z" fill="#fff" stroke="#ff0000" stroke-width="1.2"/><path d="M163.6,329.7L166.6,334.9L160.6,334.9Z" fill="#fff" stroke="#ff0000" stroke-width="1.2"/><path d="M163.9,329.2L166.9,334.4L160.9,334.4Z" fill="#fff" stroke="#ff0000" stroke-width="1.2"/><path d="M164.2,328.2L167.2,333.4L161.2,333.4Z" fill="#fff" stroke="#ff0000" stroke-width="1.2"/><path d="M164.6,322.0L167.6,327.2L161.6,327.2Z" fill="#fff" stroke="#ff0000" stroke-width="1.2"/><path d="M164.9,318.2L167.9,323.4L161.9,323.4Z" fill="#fff" stroke="#ff0000" stroke-width="1.2"/><path d="M166.3,295.7L169.3,300.9L163.3,300.9Z" fill="#fff" stroke="#ff0000" stroke-width="1.2"/><path d="M166.3,300.0L169.3,305.2L163.3,305.2Z" fill="#fff" stroke="#ff0000" stroke-width="1.2"/><path d="M166.3,306.7L169.3,311.9L163.3,311.9Z" fill="#fff" stroke="#ff0000" stroke-width="1.2"/><path d="M166.4,312.7L169.4,317.9L163.4,317.9Z" fill="#fff" stroke="#ff0000" stroke-width="1.2"/><path d="M166.5,320.3L169.5,325.5L163.5,325.5Z" fill="#fff" stroke="#ff0000" stroke-width="1.2"/><path d="M166.5,328.0L169.5,333.2L163.5,333.2Z" fill="#fff" stroke="#ff0000" stroke-width="1.2"/><path d="M167.7,324.2L170.7,329.4L164.7,329.4Z" fill="#fff" stroke="#ff0000" stroke-width="1.2"/><path d="M168.0,328.5L171.0,333.7L165.0,333.7Z" fill="#fff" stroke="#ff0000" stroke-width="1.2"/><path d="M168.4,327.5L171.4,332.7L165.4,332.7Z" fill="#fff" stroke="#ff0000" stroke-width="1.2"/><path d="M168.7,329.8L171.7,335.0L165.7,335.0Z" fill="#fff" stroke="#ff0000" stroke-width="1.2"/><path d="M169.1,329.1L172.1,334.3L166.1,334.3Z" fill="#fff" stroke="#ff0000" stroke-width="1.2"/><path d="M169.4,326.1L172.4,331.3L166.4,331.3Z" fill="#fff" stroke="#ff0000" stroke-width="1.2"/><path d="M169.8,326.8L172.8,332.0L166.8,332.0Z" fill="#fff" stroke="#ff0000" stroke-width="1.2"/><path d="M170.5,316.5L173.5,321.7L167.5,321.7Z" fill="#fff" stroke="#ff0000" stroke-width="1.2"/><path d="M171.5,319.0L174.5,324.2L168.5,324.2Z" fill="#fff" stroke="#ff0000" stroke-width="1.2"/><path d="M171.9,282.0L174.9,287.2L168.9,287.2Z" fill="#fff" stroke="#ff0000" stroke-width="1.2"/><path d="M171.9,296.5L174.9,301.7L168.9,301.7Z" fill="#fff" stroke="#ff0000" stroke-width="1.2"/><path d="M171.9,306.7L174.9,311.9L168.9,311.9Z" fill="#fff" stroke="#ff0000" stroke-width="1.2"/><path d="M171.9,312.7L174.9,317.9L168.9,317.9Z" fill="#fff" stroke="#ff0000" stroke-width="1.2"/><path d="M173.2,215.7L176.2,220.9L170.2,220.9Z" fill="#fff" stroke="#ff0000" stroke-width="1.2"/><path d="M173.2,236.1L176.2,241.3L170.2,241.3Z" fill="#fff" stroke="#ff0000" stroke-width="1.2"/><path d="M173.2,243.9L176.2,249.1L170.2,249.1Z" fill="#fff" stroke="#ff0000" stroke-width="1.2"/><path d="M173.2,250.7L176.2,255.9L170.2,255.9Z" fill="#fff" stroke="#ff0000" stroke-width="1.2"/><path d="M173.2,265.3L176.2,270.5L170.2,270.5Z" fill="#fff" stroke="#ff0000" stroke-width="1.2"/><path d="M173.2,280.8L176.2,286.0L170.2,286.0Z" fill="#fff" stroke="#ff0000" stroke-width="1.2"/><path d="M176.0,152.5L179.0,157.7L173.0,157.7Z" fill="#fff" stroke="#ff0000" stroke-width="1.2"/><path d="M176.0,156.4L179.0,161.6L173.0,161.6Z" fill="#fff" stroke="#ff0000" stroke-width="1.2"/><path d="M176.0,160.3L179.0,165.5L173.0,165.5Z" fill="#fff" stroke="#ff0000" stroke-width="1.2"/><path d="M176.0,166.1L179.0,171.3L173.0,171.3Z" fill="#fff" stroke="#ff0000" stroke-width="1.2"/><path d="M176.0,177.8L179.0,183.0L173.0,183.0Z" fill="#fff" stroke="#ff0000" stroke-width="1.2"/><path d="M176.0,184.6L179.0,189.8L173.0,189.8Z" fill="#fff" stroke="#ff0000" stroke-width="1.2"/><path d="M176.2,188.5L179.2,193.7L173.2,193.7Z" fill="#fff" stroke="#ff0000" stroke-width="1.2"/><path d="M176.5,197.2L179.5,202.4L173.5,202.4Z" fill="#fff" stroke="#ff0000" stroke-width="1.2"/><path d="M176.5,204.0L179.5,209.2L173.5,209.2Z" fill="#fff" stroke="#ff0000" stroke-width="1.2"/><path d="M176.5,213.7L179.5,218.9L173.5,218.9Z" fill="#fff" stroke="#ff0000" stroke-width="1.2"/><path d="M178.4,245.1L181.4,250.3L175.4,250.3Z" fill="#fff" stroke="#ff0000" stroke-width="1.2"/><path d="M178.4,209.0L181.4,214.2L175.4,214.2Z" fill="#fff" stroke="#ff0000" stroke-width="1.2"/><path d="M178.4,218.7L181.4,223.9L175.4,223.9Z" fill="#fff" stroke="#ff0000" stroke-width="1.2"/><path d="M178.4,226.4L181.4,231.6L175.4,231.6Z" fill="#fff" stroke="#ff0000" stroke-width="1.2"/><path d="M178.4,236.1L181.4,241.3L175.4,241.3Z" fill="#fff" stroke="#ff0000" stroke-width="1.2"/><path d="M178.4,242.0L181.4,247.2L175.4,247.2Z" fill="#fff" stroke="#ff0000" stroke-width="1.2"/><path d="M178.4,247.8L181.4,253.0L175.4,253.0Z" fill="#fff" stroke="#ff0000" stroke-width="1.2"/><path d="M179.1,251.5L182.1,256.7L176.1,256.7Z" fill="#fff" stroke="#ff0000" stroke-width="1.2"/><path d="M179.8,257.5L182.8,262.7L176.8,262.7Z" fill="#fff" stroke="#ff0000" stroke-width="1.2"/><path d="M180.5,264.1L183.5,269.3L177.5,269.3Z" fill="#fff" stroke="#ff0000" stroke-width="1.2"/><path d="M181.1,267.3L184.1,272.5L178.1,272.5Z" fill="#fff" stroke="#ff0000" stroke-width="1.2"/><path d="M181.8,271.5L184.8,276.7L178.8,276.7Z" fill="#fff" stroke="#ff0000" stroke-width="1.2"/><path d="M182.5,274.6L185.5,279.8L179.5,279.8Z" fill="#fff" stroke="#ff0000" stroke-width="1.2"/><path d="M183.2,278.4L186.2,283.6L180.2,283.6Z" fill="#fff" stroke="#ff0000" stroke-width="1.2"/><path d="M183.9,279.3L186.9,284.5L180.9,284.5Z" fill="#fff" stroke="#ff0000" stroke-width="1.2"/><path d="M184.6,285.3L187.6,290.5L181.6,290.5Z" fill="#fff" stroke="#ff0000" stroke-width="1.2"/><path d="M185.3,289.9L188.3,295.1L182.3,295.1Z" fill="#fff" stroke="#ff0000" stroke-width="1.2"/><path d="M186.0,292.5L189.0,297.7L183.0,297.7Z" fill="#fff" stroke="#ff0000" stroke-width="1.2"/><path d="M186.7,295.1L189.7,300.3L183.7,300.3Z" fill="#fff" stroke="#ff0000" stroke-width="1.2"/><path d="M187.4,300.2L190.4,305.4L184.4,305.4Z" fill="#fff" stroke="#ff0000" stroke-width="1.2"/><path d="M188.0,304.1L191.0,309.3L185.0,309.3Z" fill="#fff" stroke="#ff0000" stroke-width="1.2"/><path d="M188.7,307.5L191.7,312.7L185.7,312.7Z" fill="#fff" stroke="#ff0000" stroke-width="1.2"/><path d="M189.4,308.4L192.4,313.6L186.4,313.6Z" fill="#fff" stroke="#ff0000" stroke-width="1.2"/><path d="M190.1,312.6L193.1,317.8L187.1,317.8Z" fill="#fff" stroke="#ff0000" stroke-width="1.2"/><path d="M190.8,313.0L193.8,318.2L187.8,318.2Z" fill="#fff" stroke="#ff0000" stroke-width="1.2"/><path d="M191.5,311.3L194.5,316.5L188.5,316.5Z" fill="#fff" stroke="#ff0000" stroke-width="1.2"/><path d="M192.2,312.2L195.2,317.4L189.2,317.4Z" fill="#fff" stroke="#ff0000" stroke-width="1.2"/><path d="M192.9,308.9L195.9,314.1L189.9,314.1Z" fill="#fff" stroke="#ff0000" stroke-width="1.2"/><path d="M193.6,312.3L196.6,317.5L190.6,317.5Z" fill="#fff" stroke="#ff0000" stroke-width="1.2"/><path d="M194.3,310.7L197.3,315.9L191.3,315.9Z" fill="#fff" stroke="#ff0000" stroke-width="1.2"/><path d="M194.9,309.0L197.9,314.2L191.9,314.2Z" fill="#fff" stroke="#ff0000" stroke-width="1.2"/><path d="M195.6,308.6L198.6,313.8L192.6,313.8Z" fill="#fff" stroke="#ff0000" stroke-width="1.2"/><path d="M196.3,305.2L199.3,310.4L193.3,310.4Z" fill="#fff" stroke="#ff0000" stroke-width="1.2"/><path d="M197.0,304.9L200.0,310.1L194.0,310.1Z" fill="#fff" stroke="#ff0000" stroke-width="1.2"/><path d="M197.7,306.1L200.7,311.3L194.7,311.3Z" fill="#fff" stroke="#ff0000" stroke-width="1.2"/><path d="M198.4,309.1L201.4,314.3L195.4,314.3Z" fill="#fff" stroke="#ff0000" stroke-width="1.2"/><path d="M199.1,308.3L202.1,313.5L196.1,313.5Z" fill="#fff" stroke="#ff0000" stroke-width="1.2"/><path d="M199.8,313.4L202.8,318.6L196.8,318.6Z" fill="#fff" stroke="#ff0000" stroke-width="1.2"/><path d="M200.1,312.3L203.1,317.5L197.1,317.5Z" fill="#fff" stroke="#ff0000" stroke-width="1.2"/><path d="M200.5,313.1L203.5,318.3L197.5,318.3Z" fill="#fff" stroke="#ff0000" stroke-width="1.2"/><path d="M200.8,312.4L203.8,317.6L197.8,317.6Z" fill="#fff" stroke="#ff0000" stroke-width="1.2"/><path d="M201.2,315.8L204.2,321.0L198.2,321.0Z" fill="#fff" stroke="#ff0000" stroke-width="1.2"/><path d="M201.5,317.2L204.5,322.4L198.5,322.4Z" fill="#fff" stroke="#ff0000" stroke-width="1.2"/><path d="M201.8,317.2L204.8,322.4L198.8,322.4Z" fill="#fff" stroke="#ff0000" stroke-width="1.2"/><path d="M202.2,316.1L205.2,321.3L199.2,321.3Z" fill="#fff" stroke="#ff0000" stroke-width="1.2"/><path d="M202.5,318.9L205.5,324.1L199.5,324.1Z" fill="#fff" stroke="#ff0000" stroke-width="1.2"/><path d="M202.9,316.5L205.9,321.7L199.9,321.7Z" fill="#fff" stroke="#ff0000" stroke-width="1.2"/><path d="M203.2,319.8L206.2,325.0L200.2,325.0Z" fill="#fff" stroke="#ff0000" stroke-width="1.2"/><path d="M203.6,319.2L206.6,324.4L200.6,324.4Z" fill="#fff" stroke="#ff0000" stroke-width="1.2"/><path d="M203.9,318.3L206.9,323.5L200.9,323.5Z" fill="#fff" stroke="#ff0000" stroke-width="1.2"/><path d="M204.3,319.6L207.3,324.8L201.3,324.8Z" fill="#fff" stroke="#ff0000" stroke-width="1.2"/><path d="M204.6,320.5L207.6,325.7L201.6,325.7Z" fill="#fff" stroke="#ff0000" stroke-width="1.2"/><path d="M205.0,319.3L208.0,324.5L202.0,324.5Z" fill="#fff" stroke="#ff0000" stroke-width="1.2"/><path d="M205.3,322.3L208.3,327.5L202.3,327.5Z" fill="#fff" stroke="#ff0000" stroke-width="1.2"/><path d="M205.6,320.9L208.6,326.1L202.6,326.1Z" fill="#fff" stroke="#ff0000" stroke-width="1.2"/><path d="M206.0,323.5L209.0,328.7L203.0,328.7Z" fill="#fff" stroke="#ff0000" stroke-width="1.2"/><path d="M206.3,323.8L209.3,329.0L203.3,329.0Z" fill="#fff" stroke="#ff0000" stroke-width="1.2"/><path d="M206.7,321.1L209.7,326.3L203.7,326.3Z" fill="#fff" stroke="#ff0000" stroke-width="1.2"/><path d="M207.0,324.0L210.0,329.2L204.0,329.2Z" fill="#fff" stroke="#ff0000" stroke-width="1.2"/><path d="M207.4,323.1L210.4,328.3L204.4,328.3Z" fill="#fff" stroke="#ff0000" stroke-width="1.2"/><path d="M207.7,325.6L210.7,330.8L204.7,330.8Z" fill="#fff" stroke="#ff0000" stroke-width="1.2"/><path d="M208.1,325.2L211.1,330.4L205.1,330.4Z" fill="#fff" stroke="#ff0000" stroke-width="1.2"/><path d="M208.4,325.3L211.4,330.5L205.4,330.5Z" fill="#fff" stroke="#ff0000" stroke-width="1.2"/><path d="M208.7,327.8L211.7,333.0L205.7,333.0Z" fill="#fff" stroke="#ff0000" stroke-width="1.2"/><path d="M209.1,324.6L212.1,329.8L206.1,329.8Z" fill="#fff" stroke="#ff0000" stroke-width="1.2"/><path d="M209.4,327.4L212.4,332.6L206.4,332.6Z" fill="#fff" stroke="#ff0000" stroke-width="1.2"/><path d="M209.8,326.9L212.8,332.1L206.8,332.1Z" fill="#fff" stroke="#ff0000" stroke-width="1.2"/><path d="M210.1,326.2L213.1,331.4L207.1,331.4Z" fill="#fff" stroke="#ff0000" stroke-width="1.2"/><path d="M210.5,329.9L213.5,335.1L207.5,335.1Z" fill="#fff" stroke="#ff0000" stroke-width="1.2"/><path d="M210.8,329.6L213.8,334.8L207.8,334.8Z" fill="#fff" stroke="#ff0000" stroke-width="1.2"/><path d="M211.2,331.7L214.2,336.9L208.2,336.9Z" fill="#fff" stroke="#ff0000" stroke-width="1.2"/><path d="M211.5,330.9L214.5,336.1L208.5,336.1Z" fill="#fff" stroke="#ff0000" stroke-width="1.2"/><path d="M211.9,330.3L214.9,335.5L208.9,335.5Z" fill="#fff" stroke="#ff0000" stroke-width="1.2"/><path d="M212.2,333.8L215.2,339.0L209.2,339.0Z" fill="#fff" stroke="#ff0000" stroke-width="1.2"/><path d="M212.5,330.5L215.5,335.7L209.5,335.7Z" fill="#fff" stroke="#ff0000" stroke-width="1.2"/><path d="M212.9,330.8L215.9,336.0L209.9,336.0Z" fill="#fff" stroke="#ff0000" stroke-width="1.2"/><path d="M213.2,334.4L216.2,339.6L210.2,339.6Z" fill="#fff" stroke="#ff0000" stroke-width="1.2"/><path d="M213.6,333.3L216.6,338.5L210.6,338.5Z" fill="#fff" stroke="#ff0000" stroke-width="1.2"/><path d="M213.9,333.9L216.9,339.1L210.9,339.1Z" fill="#fff" stroke="#ff0000" stroke-width="1.2"/><path d="M214.3,336.4L217.3,341.6L211.3,341.6Z" fill="#fff" stroke="#ff0000" stroke-width="1.2"/><path d="M214.6,334.1L217.6,339.3L211.6,339.3Z" fill="#fff" stroke="#ff0000" stroke-width="1.2"/><path d="M215.0,336.8L218.0,342.0L212.0,342.0Z" fill="#fff" stroke="#ff0000" stroke-width="1.2"/><path d="M215.3,335.9L218.3,341.1L212.3,341.1Z" fill="#fff" stroke="#ff0000" stroke-width="1.2"/><path d="M215.6,334.6L218.6,339.8L212.6,339.8Z" fill="#fff" stroke="#ff0000" stroke-width="1.2"/><path d="M216.0,333.6L219.0,338.8L213.0,338.8Z" fill="#fff" stroke="#ff0000" stroke-width="1.2"/><path d="M216.3,334.6L219.3,339.8L213.3,339.8Z" fill="#fff" stroke="#ff0000" stroke-width="1.2"/><path d="M216.7,337.9L219.7,343.1L213.7,343.1Z" fill="#fff" stroke="#ff0000" stroke-width="1.2"/><path d="M217.0,335.6L220.0,340.8L214.0,340.8Z" fill="#fff" stroke="#ff0000" stroke-width="1.2"/><path d="M217.4,334.7L220.4,339.9L214.4,339.9Z" fill="#fff" stroke="#ff0000" stroke-width="1.2"/><path d="M217.7,335.5L220.7,340.7L214.7,340.7Z" fill="#fff" stroke="#ff0000" stroke-width="1.2"/><path d="M218.1,338.3L221.1,343.5L215.1,343.5Z" fill="#fff" stroke="#ff0000" stroke-width="1.2"/><path d="M218.4,335.2L221.4,340.4L215.4,340.4Z" fill="#fff" stroke="#ff0000" stroke-width="1.2"/><path d="M218.8,338.1L221.8,343.3L215.8,343.3Z" fill="#fff" stroke="#ff0000" stroke-width="1.2"/><path d="M219.1,335.4L222.1,340.6L216.1,340.6Z" fill="#fff" stroke="#ff0000" stroke-width="1.2"/><path d="M219.4,339.1L222.4,344.3L216.4,344.3Z" fill="#fff" stroke="#ff0000" stroke-width="1.2"/><path d="M219.8,337.3L222.8,342.5L216.8,342.5Z" fill="#fff" stroke="#ff0000" stroke-width="1.2"/><path d="M220.1,335.2L223.1,340.4L217.1,340.4Z" fill="#fff" stroke="#ff0000" stroke-width="1.2"/><path d="M220.5,339.2L223.5,344.4L217.5,344.4Z" fill="#fff" stroke="#ff0000" stroke-width="1.2"/><path d="M220.8,336.7L223.8,341.9L217.8,341.9Z" fill="#fff" stroke="#ff0000" stroke-width="1.2"/><path d="M221.2,338.5L224.2,343.7L218.2,343.7Z" fill="#fff" stroke="#ff0000" stroke-width="1.2"/><path d="M221.5,337.6L224.5,342.8L218.5,342.8Z" fill="#fff" stroke="#ff0000" stroke-width="1.2"/><path d="M221.9,335.8L224.9,341.0L218.9,341.0Z" fill="#fff" stroke="#ff0000" stroke-width="1.2"/><path d="M222.2,335.9L225.2,341.1L219.2,341.1Z" fill="#fff" stroke="#ff0000" stroke-width="1.2"/><path d="M222.5,336.2L225.5,341.4L219.5,341.4Z" fill="#fff" stroke="#ff0000" stroke-width="1.2"/><path d="M222.9,336.3L225.9,341.5L219.9,341.5Z" fill="#fff" stroke="#ff0000" stroke-width="1.2"/><path d="M223.2,335.9L226.2,341.1L220.2,341.1Z" fill="#fff" stroke="#ff0000" stroke-width="1.2"/><path d="M223.6,335.9L226.6,341.1L220.6,341.1Z" fill="#fff" stroke="#ff0000" stroke-width="1.2"/><path d="M223.9,340.0L226.9,345.2L220.9,345.2Z" fill="#fff" stroke="#ff0000" stroke-width="1.2"/><path d="M224.3,336.3L227.3,341.5L221.3,341.5Z" fill="#fff" stroke="#ff0000" stroke-width="1.2"/><path d="M224.6,338.2L227.6,343.4L221.6,343.4Z" fill="#fff" stroke="#ff0000" stroke-width="1.2"/><path d="M225.0,336.5L228.0,341.7L222.0,341.7Z" fill="#fff" stroke="#ff0000" stroke-width="1.2"/><path d="M225.3,337.0L228.3,342.2L222.3,342.2Z" fill="#fff" stroke="#ff0000" stroke-width="1.2"/><path d="M225.7,339.5L228.7,344.7L222.7,344.7Z" fill="#fff" stroke="#ff0000" stroke-width="1.2"/><path d="M226.0,340.3L229.0,345.5L223.0,345.5Z" fill="#fff" stroke="#ff0000" stroke-width="1.2"/><path d="M226.3,338.3L229.3,343.5L223.3,343.5Z" fill="#fff" stroke="#ff0000" stroke-width="1.2"/><path d="M226.7,336.4L229.7,341.6L223.7,341.6Z" fill="#fff" stroke="#ff0000" stroke-width="1.2"/><path d="M227.0,340.8L230.0,346.0L224.0,346.0Z" fill="#fff" stroke="#ff0000" stroke-width="1.2"/><path d="M227.4,336.7L230.4,341.9L224.4,341.9Z" fill="#fff" stroke="#ff0000" stroke-width="1.2"/><path d="M227.7,338.3L230.7,343.5L224.7,343.5Z" fill="#fff" stroke="#ff0000" stroke-width="1.2"/><path d="M228.1,339.0L231.1,344.2L225.1,344.2Z" fill="#fff" stroke="#ff0000" stroke-width="1.2"/><path d="M228.4,340.6L231.4,345.8L225.4,345.8Z" fill="#fff" stroke="#ff0000" stroke-width="1.2"/><path d="M228.8,340.4L231.8,345.6L225.8,345.6Z" fill="#fff" stroke="#ff0000" stroke-width="1.2"/><path d="M229.1,339.5L232.1,344.7L226.1,344.7Z" fill="#fff" stroke="#ff0000" stroke-width="1.2"/><path d="M229.4,338.6L232.4,343.8L226.4,343.8Z" fill="#fff" stroke="#ff0000" stroke-width="1.2"/><path d="M229.8,340.5L232.8,345.7L226.8,345.7Z" fill="#fff" stroke="#ff0000" stroke-width="1.2"/><path d="M230.1,340.6L233.1,345.8L227.1,345.8Z" fill="#fff" stroke="#ff0000" stroke-width="1.2"/><path d="M230.5,340.6L233.5,345.8L227.5,345.8Z" fill="#fff" stroke="#ff0000" stroke-width="1.2"/><path d="M230.8,340.0L233.8,345.2L227.8,345.2Z" fill="#fff" stroke="#ff0000" stroke-width="1.2"/><path d="M231.2,337.2L234.2,342.4L228.2,342.4Z" fill="#fff" stroke="#ff0000" stroke-width="1.2"/><path d="M231.5,338.1L234.5,343.3L228.5,343.3Z" fill="#fff" stroke="#ff0000" stroke-width="1.2"/><path d="M231.9,338.9L234.9,344.1L228.9,344.1Z" fill="#fff" stroke="#ff0000" stroke-width="1.2"/><path d="M232.2,339.0L235.2,344.2L229.2,344.2Z" fill="#fff" stroke="#ff0000" stroke-width="1.2"/><path d="M232.6,340.5L235.6,345.7L229.6,345.7Z" fill="#fff" stroke="#ff0000" stroke-width="1.2"/><path d="M232.9,337.8L235.9,343.0L229.9,343.0Z" fill="#fff" stroke="#ff0000" stroke-width="1.2"/><path d="M233.2,339.7L236.2,344.9L230.2,344.9Z" fill="#fff" stroke="#ff0000" stroke-width="1.2"/><path d="M233.6,338.4L236.6,343.6L230.6,343.6Z" fill="#fff" stroke="#ff0000" stroke-width="1.2"/><path d="M233.9,340.2L236.9,345.4L230.9,345.4Z" fill="#fff" stroke="#ff0000" stroke-width="1.2"/><path d="M234.3,337.3L237.3,342.5L231.3,342.5Z" fill="#fff" stroke="#ff0000" stroke-width="1.2"/><path d="M234.6,338.1L237.6,343.3L231.6,343.3Z" fill="#fff" stroke="#ff0000" stroke-width="1.2"/><path d="M235.0,336.0L238.0,341.2L232.0,341.2Z" fill="#fff" stroke="#ff0000" stroke-width="1.2"/><path d="M235.3,336.1L238.3,341.3L232.3,341.3Z" fill="#fff" stroke="#ff0000" stroke-width="1.2"/><path d="M235.7,338.8L238.7,344.0L232.7,344.0Z" fill="#fff" stroke="#ff0000" stroke-width="1.2"/><path d="M236.0,335.7L239.0,340.9L233.0,340.9Z" fill="#fff" stroke="#ff0000" stroke-width="1.2"/><path d="M236.3,338.7L239.3,343.9L233.3,343.9Z" fill="#fff" stroke="#ff0000" stroke-width="1.2"/><path d="M236.7,337.5L239.7,342.7L233.7,342.7Z" fill="#fff" stroke="#ff0000" stroke-width="1.2"/><path d="M237.0,335.8L240.0,341.0L234.0,341.0Z" fill="#fff" stroke="#ff0000" stroke-width="1.2"/><path d="M237.4,339.5L240.4,344.7L234.4,344.7Z" fill="#fff" stroke="#ff0000" stroke-width="1.2"/><path d="M237.7,336.7L240.7,341.9L234.7,341.9Z" fill="#fff" stroke="#ff0000" stroke-width="1.2"/><path d="M238.1,340.5L241.1,345.7L235.1,345.7Z" fill="#fff" stroke="#ff0000" stroke-width="1.2"/><path d="M238.4,337.0L241.4,342.2L235.4,342.2Z" fill="#fff" stroke="#ff0000" stroke-width="1.2"/><path d="M238.8,340.1L241.8,345.3L235.8,345.3Z" fill="#fff" stroke="#ff0000" stroke-width="1.2"/><path d="M239.1,338.1L242.1,343.3L236.1,343.3Z" fill="#fff" stroke="#ff0000" stroke-width="1.2"/><path d="M239.5,339.0L242.5,344.2L236.5,344.2Z" fill="#fff" stroke="#ff0000" stroke-width="1.2"/><path d="M239.8,341.9L242.8,347.1L236.8,347.1Z" fill="#fff" stroke="#ff0000" stroke-width="1.2"/><path d="M240.1,340.0L243.1,345.2L237.1,345.2Z" fill="#fff" stroke="#ff0000" stroke-width="1.2"/><path d="M240.5,340.9L243.5,346.1L237.5,346.1Z" fill="#fff" stroke="#ff0000" stroke-width="1.2"/><path d="M240.8,341.5L243.8,346.7L237.8,346.7Z" fill="#fff" stroke="#ff0000" stroke-width="1.2"/><path d="M241.2,338.9L244.2,344.1L238.2,344.1Z" fill="#fff" stroke="#ff0000" stroke-width="1.2"/><path d="M241.5,342.3L244.5,347.5L238.5,347.5Z" fill="#fff" stroke="#ff0000" stroke-width="1.2"/><path d="M241.9,342.8L244.9,348.0L238.9,348.0Z" fill="#fff" stroke="#ff0000" stroke-width="1.2"/><path d="M242.2,339.5L245.2,344.7L239.2,344.7Z" fill="#fff" stroke="#ff0000" stroke-width="1.2"/><path d="M242.6,341.4L245.6,346.6L239.6,346.6Z" fill="#fff" stroke="#ff0000" stroke-width="1.2"/><path d="M242.9,340.3L245.9,345.5L239.9,345.5Z" fill="#fff" stroke="#ff0000" stroke-width="1.2"/><path d="M243.2,342.4L246.2,347.6L240.2,347.6Z" fill="#fff" stroke="#ff0000" stroke-width="1.2"/><path d="M243.6,339.4L246.6,344.6L240.6,344.6Z" fill="#fff" stroke="#ff0000" stroke-width="1.2"/><path d="M243.9,341.6L246.9,346.8L240.9,346.8Z" fill="#fff" stroke="#ff0000" stroke-width="1.2"/><path d="M244.3,343.0L247.3,348.2L241.3,348.2Z" fill="#fff" stroke="#ff0000" stroke-width="1.2"/><path d="M244.6,342.8L247.6,348.0L241.6,348.0Z" fill="#fff" stroke="#ff0000" stroke-width="1.2"/><path d="M245.0,340.2L248.0,345.4L242.0,345.4Z" fill="#fff" stroke="#ff0000" stroke-width="1.2"/><path d="M245.3,343.5L248.3,348.7L242.3,348.7Z" fill="#fff" stroke="#ff0000" stroke-width="1.2"/><path d="M245.7,340.9L248.7,346.1L242.7,346.1Z" fill="#fff" stroke="#ff0000" stroke-width="1.2"/><path d="M246.0,343.6L249.0,348.8L243.0,348.8Z" fill="#fff" stroke="#ff0000" stroke-width="1.2"/><path d="M246.4,342.3L249.4,347.5L243.4,347.5Z" fill="#fff" stroke="#ff0000" stroke-width="1.2"/><path d="M246.7,340.9L249.7,346.1L243.7,346.1Z" fill="#fff" stroke="#ff0000" stroke-width="1.2"/><path d="M247.0,343.5L250.0,348.7L244.0,348.7Z" fill="#fff" stroke="#ff0000" stroke-width="1.2"/><path d="M247.4,343.9L250.4,349.1L244.4,349.1Z" fill="#fff" stroke="#ff0000" stroke-width="1.2"/><path d="M247.7,343.5L250.7,348.7L244.7,348.7Z" fill="#fff" stroke="#ff0000" stroke-width="1.2"/><path d="M248.1,344.7L251.1,349.9L245.1,349.9Z" fill="#fff" stroke="#ff0000" stroke-width="1.2"/><path d="M248.4,341.6L251.4,346.8L245.4,346.8Z" fill="#fff" stroke="#ff0000" stroke-width="1.2"/><path d="M248.8,341.6L251.8,346.8L245.8,346.8Z" fill="#fff" stroke="#ff0000" stroke-width="1.2"/><path d="M249.1,341.2L252.1,346.4L246.1,346.4Z" fill="#fff" stroke="#ff0000" stroke-width="1.2"/><path d="M249.5,343.0L252.5,348.2L246.5,348.2Z" fill="#fff" stroke="#ff0000" stroke-width="1.2"/><path d="M249.8,342.4L252.8,347.6L246.8,347.6Z" fill="#fff" stroke="#ff0000" stroke-width="1.2"/><path d="M250.1,342.3L253.1,347.5L247.1,347.5Z" fill="#fff" stroke="#ff0000" stroke-width="1.2"/><path d="M250.5,342.8L253.5,348.0L247.5,348.0Z" fill="#fff" stroke="#ff0000" stroke-width="1.2"/><path d="M250.8,342.0L253.8,347.2L247.8,347.2Z" fill="#fff" stroke="#ff0000" stroke-width="1.2"/><path d="M251.2,340.8L254.2,346.0L248.2,346.0Z" fill="#fff" stroke="#ff0000" stroke-width="1.2"/><path d="M251.5,342.5L254.5,347.7L248.5,347.7Z" fill="#fff" stroke="#ff0000" stroke-width="1.2"/><path d="M251.9,341.5L254.9,346.7L248.9,346.7Z" fill="#fff" stroke="#ff0000" stroke-width="1.2"/><path d="M252.7,86.3L255.7,91.5L249.7,91.5Z" fill="#fff" stroke="#ff0000" stroke-width="1.2"/><path d="M252.7,93.5L255.7,98.7L249.7,98.7Z" fill="#fff" stroke="#ff0000" stroke-width="1.2"/><path d="M252.9,170.7L255.9,175.9L249.9,175.9Z" fill="#fff" stroke="#ff0000" stroke-width="1.2"/><path d="M253.0,253.8L256.0,259.0L250.0,259.0Z" fill="#fff" stroke="#ff0000" stroke-width="1.2"/><path d="M253.0,265.2L256.0,270.4L250.0,270.4Z" fill="#fff" stroke="#ff0000" stroke-width="1.2"/><path d="M253.0,298.0L256.0,303.2L250.0,303.2Z" fill="#fff" stroke="#ff0000" stroke-width="1.2"/><path d="M253.0,312.0L256.0,317.2L250.0,317.2Z" fill="#fff" stroke="#ff0000" stroke-width="1.2"/><path d="M253.2,317.4L256.2,322.6L250.2,322.6Z" fill="#fff" stroke="#ff0000" stroke-width="1.2"/><path d="M253.3,322.2L256.3,327.4L250.3,327.4Z" fill="#fff" stroke="#ff0000" stroke-width="1.2"/><path d="M253.3,336.8L256.3,342.0L250.3,342.0Z" fill="#fff" stroke="#ff0000" stroke-width="1.2"/><path d="M253.5,327.0L256.5,332.2L250.5,332.2Z" fill="#fff" stroke="#ff0000" stroke-width="1.2"/><path d="M253.5,332.0L256.5,337.2L250.5,337.2Z" fill="#fff" stroke="#ff0000" stroke-width="1.2"/><path d="M253.5,342.9L256.5,348.1L250.5,348.1Z" fill="#fff" stroke="#ff0000" stroke-width="1.2"/><path d="M254.6,342.3L257.6,347.5L251.6,347.5Z" fill="#fff" stroke="#ff0000" stroke-width="1.2"/><path d="M255.0,344.3L258.0,349.5L252.0,349.5Z" fill="#fff" stroke="#ff0000" stroke-width="1.2"/><path d="M255.3,341.9L258.3,347.1L252.3,347.1Z" fill="#fff" stroke="#ff0000" stroke-width="1.2"/><path d="M255.7,343.7L258.7,348.9L252.7,348.9Z" fill="#fff" stroke="#ff0000" stroke-width="1.2"/><path d="M256.0,344.0L259.0,349.2L253.0,349.2Z" fill="#fff" stroke="#ff0000" stroke-width="1.2"/><path d="M256.4,342.8L259.4,348.0L253.4,348.0Z" fill="#fff" stroke="#ff0000" stroke-width="1.2"/><path d="M256.7,343.5L259.7,348.7L253.7,348.7Z" fill="#fff" stroke="#ff0000" stroke-width="1.2"/><path d="M257.0,345.1L260.0,350.3L254.0,350.3Z" fill="#fff" stroke="#ff0000" stroke-width="1.2"/><path d="M257.4,343.1L260.4,348.3L254.4,348.3Z" fill="#fff" stroke="#ff0000" stroke-width="1.2"/><path d="M257.7,344.3L260.7,349.5L254.7,349.5Z" fill="#fff" stroke="#ff0000" stroke-width="1.2"/><path d="M258.1,344.7L261.1,349.9L255.1,349.9Z" fill="#fff" stroke="#ff0000" stroke-width="1.2"/><path d="M258.4,343.3L261.4,348.5L255.4,348.5Z" fill="#fff" stroke="#ff0000" stroke-width="1.2"/><path d="M258.8,345.2L261.8,350.4L255.8,350.4Z" fill="#fff" stroke="#ff0000" stroke-width="1.2"/><path d="M259.1,344.1L262.1,349.3L256.1,349.3Z" fill="#fff" stroke="#ff0000" stroke-width="1.2"/><path d="M259.5,343.8L262.5,349.0L256.5,349.0Z" fill="#fff" stroke="#ff0000" stroke-width="1.2"/><path d="M259.8,344.4L262.8,349.6L256.8,349.6Z" fill="#fff" stroke="#ff0000" stroke-width="1.2"/><path d="M260.2,343.6L263.2,348.8L257.2,348.8Z" fill="#fff" stroke="#ff0000" stroke-width="1.2"/><path d="M260.5,344.5L263.5,349.7L257.5,349.7Z" fill="#fff" stroke="#ff0000" stroke-width="1.2"/><path d="M260.8,343.3L263.8,348.5L257.8,348.5Z" fill="#fff" stroke="#ff0000" stroke-width="1.2"/><path d="M261.2,345.1L264.2,350.3L258.2,350.3Z" fill="#fff" stroke="#ff0000" stroke-width="1.2"/><path d="M261.5,344.1L264.5,349.3L258.5,349.3Z" fill="#fff" stroke="#ff0000" stroke-width="1.2"/><path d="M261.9,343.3L264.9,348.5L258.9,348.5Z" fill="#fff" stroke="#ff0000" stroke-width="1.2"/><path d="M262.2,343.8L265.2,349.0L259.2,349.0Z" fill="#fff" stroke="#ff0000" stroke-width="1.2"/><path d="M262.6,345.1L265.6,350.3L259.6,350.3Z" fill="#fff" stroke="#ff0000" stroke-width="1.2"/><path d="M262.9,344.9L265.9,350.1L259.9,350.1Z" fill="#fff" stroke="#ff0000" stroke-width="1.2"/><path d="M263.3,344.0L266.3,349.2L260.3,349.2Z" fill="#fff" stroke="#ff0000" stroke-width="1.2"/><path d="M263.6,343.7L266.6,348.9L260.6,348.9Z" fill="#fff" stroke="#ff0000" stroke-width="1.2"/><path d="M263.9,343.8L266.9,349.0L260.9,349.0Z" fill="#fff" stroke="#ff0000" stroke-width="1.2"/><path d="M264.3,345.5L267.3,350.7L261.3,350.7Z" fill="#fff" stroke="#ff0000" stroke-width="1.2"/><path d="M264.6,343.1L267.6,348.3L261.6,348.3Z" fill="#fff" stroke="#ff0000" stroke-width="1.2"/><path d="M265.0,345.3L268.0,350.5L262.0,350.5Z" fill="#fff" stroke="#ff0000" stroke-width="1.2"/><path d="M265.3,345.2L268.3,350.4L262.3,350.4Z" fill="#fff" stroke="#ff0000" stroke-width="1.2"/><path d="M265.7,343.5L268.7,348.7L262.7,348.7Z" fill="#fff" stroke="#ff0000" stroke-width="1.2"/><path d="M266.0,343.8L269.0,349.0L263.0,349.0Z" fill="#fff" stroke="#ff0000" stroke-width="1.2"/><path d="M266.4,344.5L269.4,349.7L263.4,349.7Z" fill="#fff" stroke="#ff0000" stroke-width="1.2"/><path d="M266.7,345.1L269.7,350.3L263.7,350.3Z" fill="#fff" stroke="#ff0000" stroke-width="1.2"/><path d="M267.1,345.6L270.1,350.8L264.1,350.8Z" fill="#fff" stroke="#ff0000" stroke-width="1.2"/><path d="M267.4,345.7L270.4,350.9L264.4,350.9Z" fill="#fff" stroke="#ff0000" stroke-width="1.2"/><path d="M267.7,343.7L270.7,348.9L264.7,348.9Z" fill="#fff" stroke="#ff0000" stroke-width="1.2"/><path d="M268.1,343.5L271.1,348.7L265.1,348.7Z" fill="#fff" stroke="#ff0000" stroke-width="1.2"/><path d="M268.4,344.4L271.4,349.6L265.4,349.6Z" fill="#fff" stroke="#ff0000" stroke-width="1.2"/><path d="M268.8,344.6L271.8,349.8L265.8,349.8Z" fill="#fff" stroke="#ff0000" stroke-width="1.2"/><path d="M269.1,344.9L272.1,350.1L266.1,350.1Z" fill="#fff" stroke="#ff0000" stroke-width="1.2"/><path d="M269.5,343.4L272.5,348.6L266.5,348.6Z" fill="#fff" stroke="#ff0000" stroke-width="1.2"/><path d="M269.8,344.9L272.8,350.1L266.8,350.1Z" fill="#fff" stroke="#ff0000" stroke-width="1.2"/><path d="M270.2,345.7L273.2,350.9L267.2,350.9Z" fill="#fff" stroke="#ff0000" stroke-width="1.2"/><path d="M270.5,345.7L273.5,350.9L267.5,350.9Z" fill="#fff" stroke="#ff0000" stroke-width="1.2"/><path d="M270.8,345.7L273.8,350.9L267.8,350.9Z" fill="#fff" stroke="#ff0000" stroke-width="1.2"/><path d="M271.2,345.7L274.2,350.9L268.2,350.9Z" fill="#fff" stroke="#ff0000" stroke-width="1.2"/><path d="M271.5,345.8L274.5,351.0L268.5,351.0Z" fill="#fff" stroke="#ff0000" stroke-width="1.2"/><path d="M271.9,343.2L274.9,348.4L268.9,348.4Z" fill="#fff" stroke="#ff0000" stroke-width="1.2"/><path d="M272.2,345.7L275.2,350.9L269.2,350.9Z" fill="#fff" stroke="#ff0000" stroke-width="1.2"/><path d="M272.6,343.9L275.6,349.1L269.6,349.1Z" fill="#fff" stroke="#ff0000" stroke-width="1.2"/><path d="M272.9,344.0L275.9,349.2L269.9,349.2Z" fill="#fff" stroke="#ff0000" stroke-width="1.2"/><path d="M273.3,344.4L276.3,349.6L270.3,349.6Z" fill="#fff" stroke="#ff0000" stroke-width="1.2"/><path d="M273.6,345.8L276.6,351.0L270.6,351.0Z" fill="#fff" stroke="#ff0000" stroke-width="1.2"/><path d="M274.0,344.8L277.0,350.0L271.0,350.0Z" fill="#fff" stroke="#ff0000" stroke-width="1.2"/><path d="M274.3,344.1L277.3,349.3L271.3,349.3Z" fill="#fff" stroke="#ff0000" stroke-width="1.2"/><path d="M274.6,344.1L277.6,349.3L271.6,349.3Z" fill="#fff" stroke="#ff0000" stroke-width="1.2"/><path d="M275.0,345.6L278.0,350.8L272.0,350.8Z" fill="#fff" stroke="#ff0000" stroke-width="1.2"/><path d="M275.3,345.4L278.3,350.6L272.3,350.6Z" fill="#fff" stroke="#ff0000" stroke-width="1.2"/><path d="M275.7,343.5L278.7,348.7L272.7,348.7Z" fill="#fff" stroke="#ff0000" stroke-width="1.2"/><path d="M276.0,343.8L279.0,349.0L273.0,349.0Z" fill="#fff" stroke="#ff0000" stroke-width="1.2"/><path d="M276.4,344.1L279.4,349.3L273.4,349.3Z" fill="#fff" stroke="#ff0000" stroke-width="1.2"/><path d="M276.7,343.7L279.7,348.9L273.7,348.9Z" fill="#fff" stroke="#ff0000" stroke-width="1.2"/><path d="M277.1,344.7L280.1,349.9L274.1,349.9Z" fill="#fff" stroke="#ff0000" stroke-width="1.2"/><path d="M277.4,343.7L280.4,348.9L274.4,348.9Z" fill="#fff" stroke="#ff0000" stroke-width="1.2"/><path d="M277.7,344.7L280.7,349.9L274.7,349.9Z" fill="#fff" stroke="#ff0000" stroke-width="1.2"/><path d="M278.1,345.7L281.1,350.9L275.1,350.9Z" fill="#fff" stroke="#ff0000" stroke-width="1.2"/><path d="M278.4,345.5L281.4,350.7L275.4,350.7Z" fill="#fff" stroke="#ff0000" stroke-width="1.2"/><path d="M278.8,343.4L281.8,348.6L275.8,348.6Z" fill="#fff" stroke="#ff0000" stroke-width="1.2"/><path d="M279.1,343.7L282.1,348.9L276.1,348.9Z" fill="#fff" stroke="#ff0000" stroke-width="1.2"/><path d="M279.5,344.3L282.5,349.5L276.5,349.5Z" fill="#fff" stroke="#ff0000" stroke-width="1.2"/><path d="M279.8,344.9L282.8,350.1L276.8,350.1Z" fill="#fff" stroke="#ff0000" stroke-width="1.2"/><path d="M280.2,344.2L283.2,349.4L277.2,349.4Z" fill="#fff" stroke="#ff0000" stroke-width="1.2"/><path d="M280.5,343.8L283.5,349.0L277.5,349.0Z" fill="#fff" stroke="#ff0000" stroke-width="1.2"/><path d="M280.9,344.0L283.9,349.2L277.9,349.2Z" fill="#fff" stroke="#ff0000" stroke-width="1.2"/><path d="M281.2,343.6L284.2,348.8L278.2,348.8Z" fill="#fff" stroke="#ff0000" stroke-width="1.2"/><path d="M281.5,345.4L284.5,350.6L278.5,350.6Z" fill="#fff" stroke="#ff0000" stroke-width="1.2"/><path d="M281.9,345.0L284.9,350.2L278.9,350.2Z" fill="#fff" stroke="#ff0000" stroke-width="1.2"/><path d="M282.2,344.1L285.2,349.3L279.2,349.3Z" fill="#fff" stroke="#ff0000" stroke-width="1.2"/><path d="M282.6,344.9L285.6,350.1L279.6,350.1Z" fill="#fff" stroke="#ff0000" stroke-width="1.2"/><path d="M282.9,344.4L285.9,349.6L279.9,349.6Z" fill="#fff" stroke="#ff0000" stroke-width="1.2"/><path d="M283.3,344.4L286.3,349.6L280.3,349.6Z" fill="#fff" stroke="#ff0000" stroke-width="1.2"/><path d="M283.6,343.9L286.6,349.1L280.6,349.1Z" fill="#fff" stroke="#ff0000" stroke-width="1.2"/><path d="M284.0,344.3L287.0,349.5L281.0,349.5Z" fill="#fff" stroke="#ff0000" stroke-width="1.2"/><path d="M284.3,345.6L287.3,350.8L281.3,350.8Z" fill="#fff" stroke="#ff0000" stroke-width="1.2"/><path d="M284.6,345.1L287.6,350.3L281.6,350.3Z" fill="#fff" stroke="#ff0000" stroke-width="1.2"/><path d="M285.0,345.2L288.0,350.4L282.0,350.4Z" fill="#fff" stroke="#ff0000" stroke-width="1.2"/><path d="M285.3,343.2L288.3,348.4L282.3,348.4Z" fill="#fff" stroke="#ff0000" stroke-width="1.2"/><path d="M285.7,344.2L288.7,349.4L282.7,349.4Z" fill="#fff" stroke="#ff0000" stroke-width="1.2"/><path d="M286.0,343.8L289.0,349.0L283.0,349.0Z" fill="#fff" stroke="#ff0000" stroke-width="1.2"/><path d="M286.4,343.0L289.4,348.2L283.4,348.2Z" fill="#fff" stroke="#ff0000" stroke-width="1.2"/><path d="M286.7,343.9L289.7,349.1L283.7,349.1Z" fill="#fff" stroke="#ff0000" stroke-width="1.2"/><path d="M287.1,343.0L290.1,348.2L284.1,348.2Z" fill="#fff" stroke="#ff0000" stroke-width="1.2"/><path d="M287.4,343.4L290.4,348.6L284.4,348.6Z" fill="#fff" stroke="#ff0000" stroke-width="1.2"/><path d="M287.8,344.9L290.8,350.1L284.8,350.1Z" fill="#fff" stroke="#ff0000" stroke-width="1.2"/><path d="M288.1,344.6L291.1,349.8L285.1,349.8Z" fill="#fff" stroke="#ff0000" stroke-width="1.2"/><path d="M288.4,344.6L291.4,349.8L285.4,349.8Z" fill="#fff" stroke="#ff0000" stroke-width="1.2"/><path d="M288.8,342.9L291.8,348.1L285.8,348.1Z" fill="#fff" stroke="#ff0000" stroke-width="1.2"/><path d="M289.1,343.1L292.1,348.3L286.1,348.3Z" fill="#fff" stroke="#ff0000" stroke-width="1.2"/><path d="M289.5,342.7L292.5,347.9L286.5,347.9Z" fill="#fff" stroke="#ff0000" stroke-width="1.2"/><path d="M289.8,342.9L292.8,348.1L286.8,348.1Z" fill="#fff" stroke="#ff0000" stroke-width="1.2"/><path d="M290.2,342.9L293.2,348.1L287.2,348.1Z" fill="#fff" stroke="#ff0000" stroke-width="1.2"/><path d="M290.5,345.4L293.5,350.6L287.5,350.6Z" fill="#fff" stroke="#ff0000" stroke-width="1.2"/><path d="M290.9,345.2L293.9,350.4L287.9,350.4Z" fill="#fff" stroke="#ff0000" stroke-width="1.2"/><path d="M291.2,343.3L294.2,348.5L288.2,348.5Z" fill="#fff" stroke="#ff0000" stroke-width="1.2"/><path d="M291.5,343.5L294.5,348.7L288.5,348.7Z" fill="#fff" stroke="#ff0000" stroke-width="1.2"/><path d="M291.9,345.5L294.9,350.7L288.9,350.7Z" fill="#fff" stroke="#ff0000" stroke-width="1.2"/><path d="M292.2,344.5L295.2,349.7L289.2,349.7Z" fill="#fff" stroke="#ff0000" stroke-width="1.2"/><path d="M292.6,344.0L295.6,349.2L289.6,349.2Z" fill="#fff" stroke="#ff0000" stroke-width="1.2"/><path d="M292.9,344.3L295.9,349.5L289.9,349.5Z" fill="#fff" stroke="#ff0000" stroke-width="1.2"/><path d="M293.3,343.8L296.3,349.0L290.3,349.0Z" fill="#fff" stroke="#ff0000" stroke-width="1.2"/><path d="M293.6,344.7L296.6,349.9L290.6,349.9Z" fill="#fff" stroke="#ff0000" stroke-width="1.2"/><path d="M294.0,345.1L297.0,350.3L291.0,350.3Z" fill="#fff" stroke="#ff0000" stroke-width="1.2"/><path d="M294.3,344.6L297.3,349.8L291.3,349.8Z" fill="#fff" stroke="#ff0000" stroke-width="1.2"/><path d="M294.7,345.5L297.7,350.7L291.7,350.7Z" fill="#fff" stroke="#ff0000" stroke-width="1.2"/><path d="M295.0,343.6L298.0,348.8L292.0,348.8Z" fill="#fff" stroke="#ff0000" stroke-width="1.2"/><path d="M295.3,345.0L298.3,350.2L292.3,350.2Z" fill="#fff" stroke="#ff0000" stroke-width="1.2"/><path d="M295.7,346.1L298.7,351.3L292.7,351.3Z" fill="#fff" stroke="#ff0000" stroke-width="1.2"/><path d="M296.0,343.8L299.0,349.0L293.0,349.0Z" fill="#fff" stroke="#ff0000" stroke-width="1.2"/><path d="M296.4,344.8L299.4,350.0L293.4,350.0Z" fill="#fff" stroke="#ff0000" stroke-width="1.2"/><path d="M296.7,345.2L299.7,350.4L293.7,350.4Z" fill="#fff" stroke="#ff0000" stroke-width="1.2"/><path d="M297.1,344.5L300.1,349.7L294.1,349.7Z" fill="#fff" stroke="#ff0000" stroke-width="1.2"/><path d="M297.4,346.3L300.4,351.5L294.4,351.5Z" fill="#fff" stroke="#ff0000" stroke-width="1.2"/><path d="M297.8,345.0L300.8,350.2L294.8,350.2Z" fill="#fff" stroke="#ff0000" stroke-width="1.2"/><path d="M298.1,345.0L301.1,350.2L295.1,350.2Z" fill="#fff" stroke="#ff0000" stroke-width="1.2"/><path d="M298.4,346.2L301.4,351.4L295.4,351.4Z" fill="#fff" stroke="#ff0000" stroke-width="1.2"/><path d="M298.8,343.8L301.8,349.0L295.8,349.0Z" fill="#fff" stroke="#ff0000" stroke-width="1.2"/><path d="M299.1,346.2L302.1,351.4L296.1,351.4Z" fill="#fff" stroke="#ff0000" stroke-width="1.2"/><path d="M299.5,344.2L302.5,349.4L296.5,349.4Z" fill="#fff" stroke="#ff0000" stroke-width="1.2"/><path d="M299.8,344.9L302.8,350.1L296.8,350.1Z" fill="#fff" stroke="#ff0000" stroke-width="1.2"/><path d="M300.2,345.3L303.2,350.5L297.2,350.5Z" fill="#fff" stroke="#ff0000" stroke-width="1.2"/><path d="M300.5,345.2L303.5,350.4L297.5,350.4Z" fill="#fff" stroke="#ff0000" stroke-width="1.2"/><path d="M300.9,344.0L303.9,349.2L297.9,349.2Z" fill="#fff" stroke="#ff0000" stroke-width="1.2"/><path d="M301.2,344.8L304.2,350.0L298.2,350.0Z" fill="#fff" stroke="#ff0000" stroke-width="1.2"/><path d="M301.6,344.9L304.6,350.1L298.6,350.1Z" fill="#fff" stroke="#ff0000" stroke-width="1.2"/><path d="M301.9,346.6L304.9,351.8L298.9,351.8Z" fill="#fff" stroke="#ff0000" stroke-width="1.2"/><path d="M302.2,346.5L305.2,351.7L299.2,351.7Z" fill="#fff" stroke="#ff0000" stroke-width="1.2"/><path d="M302.6,345.5L305.6,350.7L299.6,350.7Z" fill="#fff" stroke="#ff0000" stroke-width="1.2"/><path d="M302.9,346.5L305.9,351.7L299.9,351.7Z" fill="#fff" stroke="#ff0000" stroke-width="1.2"/><path d="M303.3,346.3L306.3,351.5L300.3,351.5Z" fill="#fff" stroke="#ff0000" stroke-width="1.2"/><path d="M303.6,345.0L306.6,350.2L300.6,350.2Z" fill="#fff" stroke="#ff0000" stroke-width="1.2"/><path d="M304.0,344.2L307.0,349.4L301.0,349.4Z" fill="#fff" stroke="#ff0000" stroke-width="1.2"/><path d="M304.3,345.6L307.3,350.8L301.3,350.8Z" fill="#fff" stroke="#ff0000" stroke-width="1.2"/><path d="M304.7,344.8L307.7,350.0L301.7,350.0Z" fill="#fff" stroke="#ff0000" stroke-width="1.2"/><path d="M305.0,343.9L308.0,349.1L302.0,349.1Z" fill="#fff" stroke="#ff0000" stroke-width="1.2"/><path d="M305.3,346.6L308.3,351.8L302.3,351.8Z" fill="#fff" stroke="#ff0000" stroke-width="1.2"/><path d="M305.7,346.6L308.7,351.8L302.7,351.8Z" fill="#fff" stroke="#ff0000" stroke-width="1.2"/><path d="M306.0,345.4L309.0,350.6L303.0,350.6Z" fill="#fff" stroke="#ff0000" stroke-width="1.2"/><path d="M306.4,345.6L309.4,350.8L303.4,350.8Z" fill="#fff" stroke="#ff0000" stroke-width="1.2"/><path d="M306.7,345.8L309.7,351.0L303.7,351.0Z" fill="#fff" stroke="#ff0000" stroke-width="1.2"/><path d="M307.1,346.5L310.1,351.7L304.1,351.7Z" fill="#fff" stroke="#ff0000" stroke-width="1.2"/><path d="M307.4,345.2L310.4,350.4L304.4,350.4Z" fill="#fff" stroke="#ff0000" stroke-width="1.2"/><path d="M307.8,345.5L310.8,350.7L304.8,350.7Z" fill="#fff" stroke="#ff0000" stroke-width="1.2"/><path d="M308.1,344.5L311.1,349.7L305.1,349.7Z" fill="#fff" stroke="#ff0000" stroke-width="1.2"/><path d="M308.5,344.6L311.5,349.8L305.5,349.8Z" fill="#fff" stroke="#ff0000" stroke-width="1.2"/><path d="M308.8,345.4L311.8,350.6L305.8,350.6Z" fill="#fff" stroke="#ff0000" stroke-width="1.2"/><path d="M309.1,344.5L312.1,349.7L306.1,349.7Z" fill="#fff" stroke="#ff0000" stroke-width="1.2"/><path d="M309.5,344.0L312.5,349.2L306.5,349.2Z" fill="#fff" stroke="#ff0000" stroke-width="1.2"/><path d="M309.8,344.9L312.8,350.1L306.8,350.1Z" fill="#fff" stroke="#ff0000" stroke-width="1.2"/><path d="M310.2,346.0L313.2,351.2L307.2,351.2Z" fill="#fff" stroke="#ff0000" stroke-width="1.2"/><path d="M310.5,344.6L313.5,349.8L307.5,349.8Z" fill="#fff" stroke="#ff0000" stroke-width="1.2"/><path d="M310.9,346.1L313.9,351.3L307.9,351.3Z" fill="#fff" stroke="#ff0000" stroke-width="1.2"/><path d="M311.2,345.6L314.2,350.8L308.2,350.8Z" fill="#fff" stroke="#ff0000" stroke-width="1.2"/><path d="M311.6,345.4L314.6,350.6L308.6,350.6Z" fill="#fff" stroke="#ff0000" stroke-width="1.2"/><path d="M311.9,346.0L314.9,351.2L308.9,351.2Z" fill="#fff" stroke="#ff0000" stroke-width="1.2"/><path d="M312.2,343.7L315.2,348.9L309.2,348.9Z" fill="#fff" stroke="#ff0000" stroke-width="1.2"/><path d="M312.6,343.9L315.6,349.1L309.6,349.1Z" fill="#fff" stroke="#ff0000" stroke-width="1.2"/><path d="M312.9,345.9L315.9,351.1L309.9,351.1Z" fill="#fff" stroke="#ff0000" stroke-width="1.2"/><path d="M313.3,345.8L316.3,351.0L310.3,351.0Z" fill="#fff" stroke="#ff0000" stroke-width="1.2"/><path d="M313.6,343.4L316.6,348.6L310.6,348.6Z" fill="#fff" stroke="#ff0000" stroke-width="1.2"/><path d="M314.0,345.3L317.0,350.5L311.0,350.5Z" fill="#fff" stroke="#ff0000" stroke-width="1.2"/><path d="M314.3,343.1L317.3,348.3L311.3,348.3Z" fill="#fff" stroke="#ff0000" stroke-width="1.2"/><path d="M314.7,343.3L317.7,348.5L311.7,348.5Z" fill="#fff" stroke="#ff0000" stroke-width="1.2"/><path d="M315.0,343.2L318.0,348.4L312.0,348.4Z" fill="#fff" stroke="#ff0000" stroke-width="1.2"/><path d="M315.4,343.3L318.4,348.5L312.4,348.5Z" fill="#fff" stroke="#ff0000" stroke-width="1.2"/><path d="M315.7,343.3L318.7,348.5L312.7,348.5Z" fill="#fff" stroke="#ff0000" stroke-width="1.2"/><path d="M316.0,344.4L319.0,349.6L313.0,349.6Z" fill="#fff" stroke="#ff0000" stroke-width="1.2"/><path d="M316.4,342.7L319.4,347.9L313.4,347.9Z" fill="#fff" stroke="#ff0000" stroke-width="1.2"/><path d="M316.7,341.4L319.7,346.6L313.7,346.6Z" fill="#fff" stroke="#ff0000" stroke-width="1.2"/><path d="M317.1,341.5L320.1,346.7L314.1,346.7Z" fill="#fff" stroke="#ff0000" stroke-width="1.2"/><path d="M317.4,340.4L320.4,345.6L314.4,345.6Z" fill="#fff" stroke="#ff0000" stroke-width="1.2"/><path d="M317.8,340.1L320.8,345.3L314.8,345.3Z" fill="#fff" stroke="#ff0000" stroke-width="1.2"/><path d="M318.1,340.8L321.1,346.0L315.1,346.0Z" fill="#fff" stroke="#ff0000" stroke-width="1.2"/><path d="M318.5,340.7L321.5,345.9L315.5,345.9Z" fill="#fff" stroke="#ff0000" stroke-width="1.2"/><path d="M318.8,339.6L321.8,344.8L315.8,344.8Z" fill="#fff" stroke="#ff0000" stroke-width="1.2"/><path d="M319.1,340.4L322.1,345.6L316.1,345.6Z" fill="#fff" stroke="#ff0000" stroke-width="1.2"/><path d="M319.5,340.1L322.5,345.3L316.5,345.3Z" fill="#fff" stroke="#ff0000" stroke-width="1.2"/><path d="M319.8,342.0L322.8,347.2L316.8,347.2Z" fill="#fff" stroke="#ff0000" stroke-width="1.2"/><path d="M320.2,341.7L323.2,346.9L317.2,346.9Z" fill="#fff" stroke="#ff0000" stroke-width="1.2"/><path d="M320.5,341.5L323.5,346.7L317.5,346.7Z" fill="#fff" stroke="#ff0000" stroke-width="1.2"/><path d="M320.9,342.9L323.9,348.1L317.9,348.1Z" fill="#fff" stroke="#ff0000" stroke-width="1.2"/><path d="M321.2,342.5L324.2,347.7L318.2,347.7Z" fill="#fff" stroke="#ff0000" stroke-width="1.2"/><path d="M321.6,343.2L324.6,348.4L318.6,348.4Z" fill="#fff" stroke="#ff0000" stroke-width="1.2"/><path d="M321.9,343.1L324.9,348.3L318.9,348.3Z" fill="#fff" stroke="#ff0000" stroke-width="1.2"/><path d="M322.3,345.1L325.3,350.3L319.3,350.3Z" fill="#fff" stroke="#ff0000" stroke-width="1.2"/><path d="M322.6,343.8L325.6,349.0L319.6,349.0Z" fill="#fff" stroke="#ff0000" stroke-width="1.2"/><path d="M322.9,345.7L325.9,350.9L319.9,350.9Z" fill="#fff" stroke="#ff0000" stroke-width="1.2"/><path d="M323.3,344.2L326.3,349.4L320.3,349.4Z" fill="#fff" stroke="#ff0000" stroke-width="1.2"/><path d="M323.6,343.6L326.6,348.8L320.6,348.8Z" fill="#fff" stroke="#ff0000" stroke-width="1.2"/><path d="M324.0,345.2L327.0,350.4L321.0,350.4Z" fill="#fff" stroke="#ff0000" stroke-width="1.2"/><path d="M324.3,345.3L327.3,350.5L321.3,350.5Z" fill="#fff" stroke="#ff0000" stroke-width="1.2"/><path d="M324.7,345.8L327.7,351.0L321.7,351.0Z" fill="#fff" stroke="#ff0000" stroke-width="1.2"/><path d="M325.0,343.7L328.0,348.9L322.0,348.9Z" fill="#fff" stroke="#ff0000" stroke-width="1.2"/><path d="M325.4,345.6L328.4,350.8L322.4,350.8Z" fill="#fff" stroke="#ff0000" stroke-width="1.2"/><path d="M325.7,345.9L328.7,351.1L322.7,351.1Z" fill="#fff" stroke="#ff0000" stroke-width="1.2"/><path d="M326.0,344.4L329.0,349.6L323.0,349.6Z" fill="#fff" stroke="#ff0000" stroke-width="1.2"/><path d="M326.4,344.8L329.4,350.0L323.4,350.0Z" fill="#fff" stroke="#ff0000" stroke-width="1.2"/><path d="M326.7,345.3L329.7,350.5L323.7,350.5Z" fill="#fff" stroke="#ff0000" stroke-width="1.2"/><path d="M327.1,344.4L330.1,349.6L324.1,349.6Z" fill="#fff" stroke="#ff0000" stroke-width="1.2"/><path d="M327.4,346.2L330.4,351.4L324.4,351.4Z" fill="#fff" stroke="#ff0000" stroke-width="1.2"/><path d="M327.8,345.7L330.8,350.9L324.8,350.9Z" fill="#fff" stroke="#ff0000" stroke-width="1.2"/><path d="M328.1,346.2L331.1,351.4L325.1,351.4Z" fill="#fff" stroke="#ff0000" stroke-width="1.2"/><path d="M328.5,345.1L331.5,350.3L325.5,350.3Z" fill="#fff" stroke="#ff0000" stroke-width="1.2"/><path d="M328.8,345.4L331.8,350.6L325.8,350.6Z" fill="#fff" stroke="#ff0000" stroke-width="1.2"/><path d="M329.2,344.5L332.2,349.7L326.2,349.7Z" fill="#fff" stroke="#ff0000" stroke-width="1.2"/><path d="M329.5,344.9L332.5,350.1L326.5,350.1Z" fill="#fff" stroke="#ff0000" stroke-width="1.2"/><path d="M329.8,346.1L332.8,351.3L326.8,351.3Z" fill="#fff" stroke="#ff0000" stroke-width="1.2"/><path d="M330.2,346.8L333.2,352.0L327.2,352.0Z" fill="#fff" stroke="#ff0000" stroke-width="1.2"/><path d="M330.5,344.5L333.5,349.7L327.5,349.7Z" fill="#fff" stroke="#ff0000" stroke-width="1.2"/><path d="M330.9,344.3L333.9,349.5L327.9,349.5Z" fill="#fff" stroke="#ff0000" stroke-width="1.2"/><path d="M331.2,344.3L334.2,349.5L328.2,349.5Z" fill="#fff" stroke="#ff0000" stroke-width="1.2"/><path d="M331.6,345.4L334.6,350.6L328.6,350.6Z" fill="#fff" stroke="#ff0000" stroke-width="1.2"/><path d="M331.9,346.4L334.9,351.6L328.9,351.6Z" fill="#fff" stroke="#ff0000" stroke-width="1.2"/><path d="M332.3,344.8L335.3,350.0L329.3,350.0Z" fill="#fff" stroke="#ff0000" stroke-width="1.2"/><path d="M332.6,345.5L335.6,350.7L329.6,350.7Z" fill="#fff" stroke="#ff0000" stroke-width="1.2"/><path d="M332.9,345.6L335.9,350.8L329.9,350.8Z" fill="#fff" stroke="#ff0000" stroke-width="1.2"/><path d="M333.3,346.5L336.3,351.7L330.3,351.7Z" fill="#fff" stroke="#ff0000" stroke-width="1.2"/><path d="M333.6,344.7L336.6,349.9L330.6,349.9Z" fill="#fff" stroke="#ff0000" stroke-width="1.2"/><path d="M334.0,344.3L337.0,349.5L331.0,349.5Z" fill="#fff" stroke="#ff0000" stroke-width="1.2"/><path d="M334.3,345.6L337.3,350.8L331.3,350.8Z" fill="#fff" stroke="#ff0000" stroke-width="1.2"/><path d="M334.7,345.2L337.7,350.4L331.7,350.4Z" fill="#fff" stroke="#ff0000" stroke-width="1.2"/><path d="M335.0,345.1L338.0,350.3L332.0,350.3Z" fill="#fff" stroke="#ff0000" stroke-width="1.2"/><path d="M335.4,346.4L338.4,351.6L332.4,351.6Z" fill="#fff" stroke="#ff0000" stroke-width="1.2"/><path d="M335.7,346.2L338.7,351.4L332.7,351.4Z" fill="#fff" stroke="#ff0000" stroke-width="1.2"/><path d="M336.1,344.5L339.1,349.7L333.1,349.7Z" fill="#fff" stroke="#ff0000" stroke-width="1.2"/><path d="M336.4,345.8L339.4,351.0L333.4,351.0Z" fill="#fff" stroke="#ff0000" stroke-width="1.2"/><path d="M336.7,346.5L339.7,351.7L333.7,351.7Z" fill="#fff" stroke="#ff0000" stroke-width="1.2"/><path d="M337.1,346.9L340.1,352.1L334.1,352.1Z" fill="#fff" stroke="#ff0000" stroke-width="1.2"/><path d="M337.4,344.3L340.4,349.5L334.4,349.5Z" fill="#fff" stroke="#ff0000" stroke-width="1.2"/><path d="M337.8,346.6L340.8,351.8L334.8,351.8Z" fill="#fff" stroke="#ff0000" stroke-width="1.2"/><path d="M338.1,344.5L341.1,349.7L335.1,349.7Z" fill="#fff" stroke="#ff0000" stroke-width="1.2"/><path d="M338.5,346.3L341.5,351.5L335.5,351.5Z" fill="#fff" stroke="#ff0000" stroke-width="1.2"/><path d="M338.8,346.0L341.8,351.2L335.8,351.2Z" fill="#fff" stroke="#ff0000" stroke-width="1.2"/><path d="M339.2,347.0L342.2,352.2L336.2,352.2Z" fill="#fff" stroke="#ff0000" stroke-width="1.2"/><path d="M339.5,346.2L342.5,351.4L336.5,351.4Z" fill="#fff" stroke="#ff0000" stroke-width="1.2"/><path d="M339.8,344.6L342.8,349.8L336.8,349.8Z" fill="#fff" stroke="#ff0000" stroke-width="1.2"/><path d="M340.2,346.3L343.2,351.5L337.2,351.5Z" fill="#fff" stroke="#ff0000" stroke-width="1.2"/><path d="M340.5,345.1L343.5,350.3L337.5,350.3Z" fill="#fff" stroke="#ff0000" stroke-width="1.2"/><path d="M340.9,346.7L343.9,351.9L337.9,351.9Z" fill="#fff" stroke="#ff0000" stroke-width="1.2"/><path d="M341.2,344.4L344.2,349.6L338.2,349.6Z" fill="#fff" stroke="#ff0000" stroke-width="1.2"/><path d="M341.6,345.2L344.6,350.4L338.6,350.4Z" fill="#fff" stroke="#ff0000" stroke-width="1.2"/><path d="M341.9,346.2L344.9,351.4L338.9,351.4Z" fill="#fff" stroke="#ff0000" stroke-width="1.2"/><path d="M342.3,344.7L345.3,349.9L339.3,349.9Z" fill="#fff" stroke="#ff0000" stroke-width="1.2"/><path d="M342.6,346.1L345.6,351.3L339.6,351.3Z" fill="#fff" stroke="#ff0000" stroke-width="1.2"/><path d="M343.0,346.2L346.0,351.4L340.0,351.4Z" fill="#fff" stroke="#ff0000" stroke-width="1.2"/><path d="M343.3,346.3L346.3,351.5L340.3,351.5Z" fill="#fff" stroke="#ff0000" stroke-width="1.2"/><path d="M343.6,346.7L346.6,351.9L340.6,351.9Z" fill="#fff" stroke="#ff0000" stroke-width="1.2"/><path d="M344.0,345.4L347.0,350.6L341.0,350.6Z" fill="#fff" stroke="#ff0000" stroke-width="1.2"/><path d="M344.3,344.6L347.3,349.8L341.3,349.8Z" fill="#fff" stroke="#ff0000" stroke-width="1.2"/><path d="M344.7,344.9L347.7,350.1L341.7,350.1Z" fill="#fff" stroke="#ff0000" stroke-width="1.2"/><path d="M345.0,345.2L348.0,350.4L342.0,350.4Z" fill="#fff" stroke="#ff0000" stroke-width="1.2"/><path d="M345.4,344.3L348.4,349.5L342.4,349.5Z" fill="#fff" stroke="#ff0000" stroke-width="1.2"/><path d="M345.7,346.1L348.7,351.3L342.7,351.3Z" fill="#fff" stroke="#ff0000" stroke-width="1.2"/><path d="M346.1,344.3L349.1,349.5L343.1,349.5Z" fill="#fff" stroke="#ff0000" stroke-width="1.2"/><path d="M346.4,344.2L349.4,349.4L343.4,349.4Z" fill="#fff" stroke="#ff0000" stroke-width="1.2"/><path d="M346.7,346.7L349.7,351.9L343.7,351.9Z" fill="#fff" stroke="#ff0000" stroke-width="1.2"/><path d="M347.1,346.3L350.1,351.5L344.1,351.5Z" fill="#fff" stroke="#ff0000" stroke-width="1.2"/><path d="M347.4,344.7L350.4,349.9L344.4,349.9Z" fill="#fff" stroke="#ff0000" stroke-width="1.2"/><path d="M347.8,345.0L350.8,350.2L344.8,350.2Z" fill="#fff" stroke="#ff0000" stroke-width="1.2"/><path d="M348.1,346.3L351.1,351.5L345.1,351.5Z" fill="#fff" stroke="#ff0000" stroke-width="1.2"/><path d="M348.5,345.7L351.5,350.9L345.5,350.9Z" fill="#fff" stroke="#ff0000" stroke-width="1.2"/><path d="M348.8,344.7L351.8,349.9L345.8,349.9Z" fill="#fff" stroke="#ff0000" stroke-width="1.2"/><path d="M349.2,345.2L352.2,350.4L346.2,350.4Z" fill="#fff" stroke="#ff0000" stroke-width="1.2"/><path d="M349.5,346.3L352.5,351.5L346.5,351.5Z" fill="#fff" stroke="#ff0000" stroke-width="1.2"/><path d="M349.9,343.9L352.9,349.1L346.9,349.1Z" fill="#fff" stroke="#ff0000" stroke-width="1.2"/><path d="M350.2,346.7L353.2,351.9L347.2,351.9Z" fill="#fff" stroke="#ff0000" stroke-width="1.2"/><path d="M350.5,345.4L353.5,350.6L347.5,350.6Z" fill="#fff" stroke="#ff0000" stroke-width="1.2"/><path d="M350.9,344.3L353.9,349.5L347.9,349.5Z" fill="#fff" stroke="#ff0000" stroke-width="1.2"/><path d="M351.2,346.0L354.2,351.2L348.2,351.2Z" fill="#fff" stroke="#ff0000" stroke-width="1.2"/><path d="M351.6,343.9L354.6,349.1L348.6,349.1Z" fill="#fff" stroke="#ff0000" stroke-width="1.2"/><path d="M351.9,344.8L354.9,350.0L348.9,350.0Z" fill="#fff" stroke="#ff0000" stroke-width="1.2"/><path d="M352.3,345.2L355.3,350.4L349.3,350.4Z" fill="#fff" stroke="#ff0000" stroke-width="1.2"/><path d="M352.6,344.2L355.6,349.4L349.6,349.4Z" fill="#fff" stroke="#ff0000" stroke-width="1.2"/><path d="M353.0,346.0L356.0,351.2L350.0,351.2Z" fill="#fff" stroke="#ff0000" stroke-width="1.2"/><path d="M353.3,345.4L356.3,350.6L350.3,350.6Z" fill="#fff" stroke="#ff0000" stroke-width="1.2"/><path d="M353.6,343.9L356.6,349.1L350.6,349.1Z" fill="#fff" stroke="#ff0000" stroke-width="1.2"/><path d="M354.0,343.8L357.0,349.0L351.0,349.0Z" fill="#fff" stroke="#ff0000" stroke-width="1.2"/><path d="M354.3,343.5L357.3,348.7L351.3,348.7Z" fill="#fff" stroke="#ff0000" stroke-width="1.2"/><path d="M354.7,344.9L357.7,350.1L351.7,350.1Z" fill="#fff" stroke="#ff0000" stroke-width="1.2"/><path d="M355.0,343.8L358.0,349.0L352.0,349.0Z" fill="#fff" stroke="#ff0000" stroke-width="1.2"/><path d="M355.4,344.7L358.4,349.9L352.4,349.9Z" fill="#fff" stroke="#ff0000" stroke-width="1.2"/><path d="M355.7,345.4L358.7,350.6L352.7,350.6Z" fill="#fff" stroke="#ff0000" stroke-width="1.2"/><path d="M356.1,345.6L359.1,350.8L353.1,350.8Z" fill="#fff" stroke="#ff0000" stroke-width="1.2"/><path d="M356.4,343.4L359.4,348.6L353.4,348.6Z" fill="#fff" stroke="#ff0000" stroke-width="1.2"/><path d="M356.8,343.9L359.8,349.1L353.8,349.1Z" fill="#fff" stroke="#ff0000" stroke-width="1.2"/><path d="M357.1,344.1L360.1,349.3L354.1,349.3Z" fill="#fff" stroke="#ff0000" stroke-width="1.2"/><path d="M357.4,344.0L360.4,349.2L354.4,349.2Z" fill="#fff" stroke="#ff0000" stroke-width="1.2"/><path d="M357.8,343.0L360.8,348.2L354.8,348.2Z" fill="#fff" stroke="#ff0000" stroke-width="1.2"/><path d="M358.1,341.8L361.1,347.0L355.1,347.0Z" fill="#fff" stroke="#ff0000" stroke-width="1.2"/><path d="M358.5,341.4L361.5,346.6L355.5,346.6Z" fill="#fff" stroke="#ff0000" stroke-width="1.2"/><path d="M358.8,338.8L361.8,344.0L355.8,344.0Z" fill="#fff" stroke="#ff0000" stroke-width="1.2"/><path d="M359.2,337.6L362.2,342.8L356.2,342.8Z" fill="#fff" stroke="#ff0000" stroke-width="1.2"/><path d="M359.5,336.5L362.5,341.7L356.5,341.7Z" fill="#fff" stroke="#ff0000" stroke-width="1.2"/><path d="M359.9,334.5L362.9,339.7L356.9,339.7Z" fill="#fff" stroke="#ff0000" stroke-width="1.2"/><path d="M360.2,334.0L363.2,339.2L357.2,339.2Z" fill="#fff" stroke="#ff0000" stroke-width="1.2"/><path d="M360.5,330.9L363.5,336.1L357.5,336.1Z" fill="#fff" stroke="#ff0000" stroke-width="1.2"/><path d="M360.9,330.0L363.9,335.2L357.9,335.2Z" fill="#fff" stroke="#ff0000" stroke-width="1.2"/><path d="M361.2,327.4L364.2,332.6L358.2,332.6Z" fill="#fff" stroke="#ff0000" stroke-width="1.2"/><path d="M361.6,323.3L364.6,328.5L358.6,328.5Z" fill="#fff" stroke="#ff0000" stroke-width="1.2"/><path d="M361.9,321.7L364.9,326.9L358.9,326.9Z" fill="#fff" stroke="#ff0000" stroke-width="1.2"/><path d="M362.3,321.6L365.3,326.8L359.3,326.8Z" fill="#fff" stroke="#ff0000" stroke-width="1.2"/><path d="M362.6,319.3L365.6,324.5L359.6,324.5Z" fill="#fff" stroke="#ff0000" stroke-width="1.2"/><path d="M363.0,316.1L366.0,321.3L360.0,321.3Z" fill="#fff" stroke="#ff0000" stroke-width="1.2"/><path d="M363.3,316.2L366.3,321.4L360.3,321.4Z" fill="#fff" stroke="#ff0000" stroke-width="1.2"/><path d="M363.7,314.4L366.7,319.6L360.7,319.6Z" fill="#fff" stroke="#ff0000" stroke-width="1.2"/><path d="M364.0,316.9L367.0,322.1L361.0,322.1Z" fill="#fff" stroke="#ff0000" stroke-width="1.2"/><path d="M364.3,318.1L367.3,323.3L361.3,323.3Z" fill="#fff" stroke="#ff0000" stroke-width="1.2"/><path d="M364.7,320.0L367.7,325.2L361.7,325.2Z" fill="#fff" stroke="#ff0000" stroke-width="1.2"/><path d="M365.0,320.7L368.0,325.9L362.0,325.9Z" fill="#fff" stroke="#ff0000" stroke-width="1.2"/><path d="M365.4,322.7L368.4,327.9L362.4,327.9Z" fill="#fff" stroke="#ff0000" stroke-width="1.2"/><path d="M365.7,322.3L368.7,327.5L362.7,327.5Z" fill="#fff" stroke="#ff0000" stroke-width="1.2"/><path d="M366.1,324.0L369.1,329.2L363.1,329.2Z" fill="#fff" stroke="#ff0000" stroke-width="1.2"/><path d="M366.4,325.5L369.4,330.7L363.4,330.7Z" fill="#fff" stroke="#ff0000" stroke-width="1.2"/><path d="M366.8,330.0L369.8,335.2L363.8,335.2Z" fill="#fff" stroke="#ff0000" stroke-width="1.2"/><path d="M367.1,330.2L370.1,335.4L364.1,335.4Z" fill="#fff" stroke="#ff0000" stroke-width="1.2"/><path d="M367.4,333.6L370.4,338.8L364.4,338.8Z" fill="#fff" stroke="#ff0000" stroke-width="1.2"/><path d="M367.8,335.7L370.8,340.9L364.8,340.9Z" fill="#fff" stroke="#ff0000" stroke-width="1.2"/><path d="M368.1,338.3L371.1,343.5L365.1,343.5Z" fill="#fff" stroke="#ff0000" stroke-width="1.2"/><path d="M368.5,338.0L371.5,343.2L365.5,343.2Z" fill="#fff" stroke="#ff0000" stroke-width="1.2"/><path d="M368.8,338.2L371.8,343.4L365.8,343.4Z" fill="#fff" stroke="#ff0000" stroke-width="1.2"/><path d="M369.2,339.8L372.2,345.0L366.2,345.0Z" fill="#fff" stroke="#ff0000" stroke-width="1.2"/><path d="M369.5,339.8L372.5,345.0L366.5,345.0Z" fill="#fff" stroke="#ff0000" stroke-width="1.2"/><path d="M369.9,341.4L372.9,346.6L366.9,346.6Z" fill="#fff" stroke="#ff0000" stroke-width="1.2"/><path d="M370.2,343.3L373.2,348.5L367.2,348.5Z" fill="#fff" stroke="#ff0000" stroke-width="1.2"/><path d="M370.6,342.6L373.6,347.8L367.6,347.8Z" fill="#fff" stroke="#ff0000" stroke-width="1.2"/><path d="M370.9,346.1L373.9,351.3L367.9,351.3Z" fill="#fff" stroke="#ff0000" stroke-width="1.2"/><path d="M371.2,345.1L374.2,350.3L368.2,350.3Z" fill="#fff" stroke="#ff0000" stroke-width="1.2"/><path d="M371.6,344.5L374.6,349.7L368.6,349.7Z" fill="#fff" stroke="#ff0000" stroke-width="1.2"/><path d="M371.9,346.0L374.9,351.2L368.9,351.2Z" fill="#fff" stroke="#ff0000" stroke-width="1.2"/><path d="M372.3,344.2L375.3,349.4L369.3,349.4Z" fill="#fff" stroke="#ff0000" stroke-width="1.2"/><path d="M372.6,344.7L375.6,349.9L369.6,349.9Z" fill="#fff" stroke="#ff0000" stroke-width="1.2"/><path d="M373.0,346.3L376.0,351.5L370.0,351.5Z" fill="#fff" stroke="#ff0000" stroke-width="1.2"/><path d="M373.3,344.6L376.3,349.8L370.3,349.8Z" fill="#fff" stroke="#ff0000" stroke-width="1.2"/><path d="M373.7,345.8L376.7,351.0L370.7,351.0Z" fill="#fff" stroke="#ff0000" stroke-width="1.2"/><path d="M374.0,344.4L377.0,349.6L371.0,349.6Z" fill="#fff" stroke="#ff0000" stroke-width="1.2"/><path d="M374.3,345.4L377.3,350.6L371.3,350.6Z" fill="#fff" stroke="#ff0000" stroke-width="1.2"/><path d="M374.7,345.8L377.7,351.0L371.7,351.0Z" fill="#fff" stroke="#ff0000" stroke-width="1.2"/><path d="M375.0,344.8L378.0,350.0L372.0,350.0Z" fill="#fff" stroke="#ff0000" stroke-width="1.2"/><path d="M375.4,345.1L378.4,350.3L372.4,350.3Z" fill="#fff" stroke="#ff0000" stroke-width="1.2"/><path d="M375.7,345.6L378.7,350.8L372.7,350.8Z" fill="#fff" stroke="#ff0000" stroke-width="1.2"/><path d="M376.1,345.8L379.1,351.0L373.1,351.0Z" fill="#fff" stroke="#ff0000" stroke-width="1.2"/><path d="M376.4,344.9L379.4,350.1L373.4,350.1Z" fill="#fff" stroke="#ff0000" stroke-width="1.2"/><path d="M376.8,345.5L379.8,350.7L373.8,350.7Z" fill="#fff" stroke="#ff0000" stroke-width="1.2"/><path d="M377.1,346.7L380.1,351.9L374.1,351.9Z" fill="#fff" stroke="#ff0000" stroke-width="1.2"/><path d="M377.5,345.4L380.5,350.6L374.5,350.6Z" fill="#fff" stroke="#ff0000" stroke-width="1.2"/><path d="M377.8,346.3L380.8,351.5L374.8,351.5Z" fill="#fff" stroke="#ff0000" stroke-width="1.2"/><path d="M378.1,345.3L381.1,350.5L375.1,350.5Z" fill="#fff" stroke="#ff0000" stroke-width="1.2"/><path d="M378.5,345.8L381.5,351.0L375.5,351.0Z" fill="#fff" stroke="#ff0000" stroke-width="1.2"/><path d="M378.8,345.9L381.8,351.1L375.8,351.1Z" fill="#fff" stroke="#ff0000" stroke-width="1.2"/><path d="M379.2,346.1L382.2,351.3L376.2,351.3Z" fill="#fff" stroke="#ff0000" stroke-width="1.2"/><path d="M379.5,346.3L382.5,351.5L376.5,351.5Z" fill="#fff" stroke="#ff0000" stroke-width="1.2"/><path d="M379.9,346.5L382.9,351.7L376.9,351.7Z" fill="#fff" stroke="#ff0000" stroke-width="1.2"/><path d="M380.2,346.3L383.2,351.5L377.2,351.5Z" fill="#fff" stroke="#ff0000" stroke-width="1.2"/><path d="M380.6,346.5L383.6,351.7L377.6,351.7Z" fill="#fff" stroke="#ff0000" stroke-width="1.2"/><path d="M380.9,346.6L383.9,351.8L377.9,351.8Z" fill="#fff" stroke="#ff0000" stroke-width="1.2"/><path d="M381.2,345.8L384.2,351.0L378.2,351.0Z" fill="#fff" stroke="#ff0000" stroke-width="1.2"/><path d="M381.6,346.6L384.6,351.8L378.6,351.8Z" fill="#fff" stroke="#ff0000" stroke-width="1.2"/><path d="M381.9,346.1L384.9,351.3L378.9,351.3Z" fill="#fff" stroke="#ff0000" stroke-width="1.2"/><path d="M382.3,345.7L385.3,350.9L379.3,350.9Z" fill="#fff" stroke="#ff0000" stroke-width="1.2"/><path d="M382.6,345.6L385.6,350.8L379.6,350.8Z" fill="#fff" stroke="#ff0000" stroke-width="1.2"/><path d="M383.0,346.5L386.0,351.7L380.0,351.7Z" fill="#fff" stroke="#ff0000" stroke-width="1.2"/><path d="M383.3,346.3L386.3,351.5L380.3,351.5Z" fill="#fff" stroke="#ff0000" stroke-width="1.2"/><path d="M383.7,345.4L386.7,350.6L380.7,350.6Z" fill="#fff" stroke="#ff0000" stroke-width="1.2"/><path d="M384.0,346.3L387.0,351.5L381.0,351.5Z" fill="#fff" stroke="#ff0000" stroke-width="1.2"/><path d="M384.4,345.4L387.4,350.6L381.4,350.6Z" fill="#fff" stroke="#ff0000" stroke-width="1.2"/><path d="M384.7,346.0L387.7,351.2L381.7,351.2Z" fill="#fff" stroke="#ff0000" stroke-width="1.2"/><path d="M385.0,346.3L388.0,351.5L382.0,351.5Z" fill="#fff" stroke="#ff0000" stroke-width="1.2"/><path d="M385.4,346.4L388.4,351.6L382.4,351.6Z" fill="#fff" stroke="#ff0000" stroke-width="1.2"/><path d="M385.7,345.6L388.7,350.8L382.7,350.8Z" fill="#fff" stroke="#ff0000" stroke-width="1.2"/><path d="M386.1,345.5L389.1,350.7L383.1,350.7Z" fill="#fff" stroke="#ff0000" stroke-width="1.2"/><path d="M386.4,346.3L389.4,351.5L383.4,351.5Z" fill="#fff" stroke="#ff0000" stroke-width="1.2"/><path d="M386.8,346.7L389.8,351.9L383.8,351.9Z" fill="#fff" stroke="#ff0000" stroke-width="1.2"/><path d="M387.1,346.7L390.1,351.9L384.1,351.9Z" fill="#fff" stroke="#ff0000" stroke-width="1.2"/><path d="M387.5,346.0L390.5,351.2L384.5,351.2Z" fill="#fff" stroke="#ff0000" stroke-width="1.2"/><path d="M387.8,346.4L390.8,351.6L384.8,351.6Z" fill="#fff" stroke="#ff0000" stroke-width="1.2"/><path d="M388.1,346.6L391.1,351.8L385.1,351.8Z" fill="#fff" stroke="#ff0000" stroke-width="1.2"/><path d="M388.5,346.9L391.5,352.1L385.5,352.1Z" fill="#fff" stroke="#ff0000" stroke-width="1.2"/><path d="M388.8,346.3L391.8,351.5L385.8,351.5Z" fill="#fff" stroke="#ff0000" stroke-width="1.2"/><path d="M389.2,346.9L392.2,352.1L386.2,352.1Z" fill="#fff" stroke="#ff0000" stroke-width="1.2"/><path d="M389.5,346.0L392.5,351.2L386.5,351.2Z" fill="#fff" stroke="#ff0000" stroke-width="1.2"/><path d="M389.9,345.8L392.9,351.0L386.9,351.0Z" fill="#fff" stroke="#ff0000" stroke-width="1.2"/><path d="M390.2,346.0L393.2,351.2L387.2,351.2Z" fill="#fff" stroke="#ff0000" stroke-width="1.2"/><path d="M390.6,346.7L393.6,351.9L387.6,351.9Z" fill="#fff" stroke="#ff0000" stroke-width="1.2"/><path d="M390.9,346.9L393.9,352.1L387.9,352.1Z" fill="#fff" stroke="#ff0000" stroke-width="1.2"/><path d="M391.3,346.3L394.3,351.5L388.3,351.5Z" fill="#fff" stroke="#ff0000" stroke-width="1.2"/><path d="M391.6,346.6L394.6,351.8L388.6,351.8Z" fill="#fff" stroke="#ff0000" stroke-width="1.2"/><path d="M391.9,345.7L394.9,350.9L388.9,350.9Z" fill="#fff" stroke="#ff0000" stroke-width="1.2"/><path d="M392.3,346.3L395.3,351.5L389.3,351.5Z" fill="#fff" stroke="#ff0000" stroke-width="1.2"/><path d="M392.6,346.2L395.6,351.4L389.6,351.4Z" fill="#fff" stroke="#ff0000" stroke-width="1.2"/><path d="M393.0,346.2L396.0,351.4L390.0,351.4Z" fill="#fff" stroke="#ff0000" stroke-width="1.2"/><path d="M393.3,345.8L396.3,351.0L390.3,351.0Z" fill="#fff" stroke="#ff0000" stroke-width="1.2"/><path d="M393.7,346.5L396.7,351.7L390.7,351.7Z" fill="#fff" stroke="#ff0000" stroke-width="1.2"/><path d="M394.0,346.6L397.0,351.8L391.0,351.8Z" fill="#fff" stroke="#ff0000" stroke-width="1.2"/><path d="M394.4,346.5L397.4,351.7L391.4,351.7Z" fill="#fff" stroke="#ff0000" stroke-width="1.2"/><path d="M394.7,346.7L397.7,351.9L391.7,351.9Z" fill="#fff" stroke="#ff0000" stroke-width="1.2"/><path d="M395.0,346.2L398.0,351.4L392.0,351.4Z" fill="#fff" stroke="#ff0000" stroke-width="1.2"/><path d="M395.4,346.9L398.4,352.1L392.4,352.1Z" fill="#fff" stroke="#ff0000" stroke-width="1.2"/><path d="M395.7,346.4L398.7,351.6L392.7,351.6Z" fill="#fff" stroke="#ff0000" stroke-width="1.2"/><path d="M396.1,346.9L399.1,352.1L393.1,352.1Z" fill="#fff" stroke="#ff0000" stroke-width="1.2"/><path d="M396.4,346.2L399.4,351.4L393.4,351.4Z" fill="#fff" stroke="#ff0000" stroke-width="1.2"/><path d="M396.8,346.6L399.8,351.8L393.8,351.8Z" fill="#fff" stroke="#ff0000" stroke-width="1.2"/><path d="M397.1,345.8L400.1,351.0L394.1,351.0Z" fill="#fff" stroke="#ff0000" stroke-width="1.2"/><path d="M397.5,345.6L400.5,350.8L394.5,350.8Z" fill="#fff" stroke="#ff0000" stroke-width="1.2"/><path d="M397.8,347.0L400.8,352.2L394.8,352.2Z" fill="#fff" stroke="#ff0000" stroke-width="1.2"/><path d="M398.2,346.1L401.2,351.3L395.2,351.3Z" fill="#fff" stroke="#ff0000" stroke-width="1.2"/><path d="M398.5,345.6L401.5,350.8L395.5,350.8Z" fill="#fff" stroke="#ff0000" stroke-width="1.2"/><path d="M398.8,346.5L401.8,351.7L395.8,351.7Z" fill="#fff" stroke="#ff0000" stroke-width="1.2"/><path d="M399.2,347.0L402.2,352.2L396.2,352.2Z" fill="#fff" stroke="#ff0000" stroke-width="1.2"/><path d="M399.5,346.7L402.5,351.9L396.5,351.9Z" fill="#fff" stroke="#ff0000" stroke-width="1.2"/><path d="M399.9,347.1L402.9,352.3L396.9,352.3Z" fill="#fff" stroke="#ff0000" stroke-width="1.2"/><path d="M400.2,347.0L403.2,352.2L397.2,352.2Z" fill="#fff" stroke="#ff0000" stroke-width="1.2"/><path d="M400.6,346.2L403.6,351.4L397.6,351.4Z" fill="#fff" stroke="#ff0000" stroke-width="1.2"/><path d="M400.9,345.8L403.9,351.0L397.9,351.0Z" fill="#fff" stroke="#ff0000" stroke-width="1.2"/><path d="M401.3,345.6L404.3,350.8L398.3,350.8Z" fill="#fff" stroke="#ff0000" stroke-width="1.2"/><path d="M401.6,345.9L404.6,351.1L398.6,351.1Z" fill="#fff" stroke="#ff0000" stroke-width="1.2"/><path d="M401.9,346.5L404.9,351.7L398.9,351.7Z" fill="#fff" stroke="#ff0000" stroke-width="1.2"/><path d="M402.3,346.9L405.3,352.1L399.3,352.1Z" fill="#fff" stroke="#ff0000" stroke-width="1.2"/><path d="M402.6,345.4L405.6,350.6L399.6,350.6Z" fill="#fff" stroke="#ff0000" stroke-width="1.2"/><path d="M403.0,346.7L406.0,351.9L400.0,351.9Z" fill="#fff" stroke="#ff0000" stroke-width="1.2"/><path d="M403.3,346.6L406.3,351.8L400.3,351.8Z" fill="#fff" stroke="#ff0000" stroke-width="1.2"/><path d="M403.7,346.5L406.7,351.7L400.7,351.7Z" fill="#fff" stroke="#ff0000" stroke-width="1.2"/><path d="M404.0,345.6L407.0,350.8L401.0,350.8Z" fill="#fff" stroke="#ff0000" stroke-width="1.2"/><path d="M404.4,345.5L407.4,350.7L401.4,350.7Z" fill="#fff" stroke="#ff0000" stroke-width="1.2"/><path d="M404.7,346.5L407.7,351.7L401.7,351.7Z" fill="#fff" stroke="#ff0000" stroke-width="1.2"/><path d="M405.1,346.4L408.1,351.6L402.1,351.6Z" fill="#fff" stroke="#ff0000" stroke-width="1.2"/><path d="M405.4,345.9L408.4,351.1L402.4,351.1Z" fill="#fff" stroke="#ff0000" stroke-width="1.2"/><path d="M405.7,345.9L408.7,351.1L402.7,351.1Z" fill="#fff" stroke="#ff0000" stroke-width="1.2"/><path d="M406.1,345.4L409.1,350.6L403.1,350.6Z" fill="#fff" stroke="#ff0000" stroke-width="1.2"/><path d="M406.4,346.9L409.4,352.1L403.4,352.1Z" fill="#fff" stroke="#ff0000" stroke-width="1.2"/><path d="M406.8,346.6L409.8,351.8L403.8,351.8Z" fill="#fff" stroke="#ff0000" stroke-width="1.2"/><path d="M407.1,346.8L410.1,352.0L404.1,352.0Z" fill="#fff" stroke="#ff0000" stroke-width="1.2"/><path d="M407.5,346.6L410.5,351.8L404.5,351.8Z" fill="#fff" stroke="#ff0000" stroke-width="1.2"/><path d="M407.8,346.0L410.8,351.2L404.8,351.2Z" fill="#fff" stroke="#ff0000" stroke-width="1.2"/><path d="M408.2,346.6L411.2,351.8L405.2,351.8Z" fill="#fff" stroke="#ff0000" stroke-width="1.2"/><path d="M408.5,345.6L411.5,350.8L405.5,350.8Z" fill="#fff" stroke="#ff0000" stroke-width="1.2"/><path d="M408.8,346.3L411.8,351.5L405.8,351.5Z" fill="#fff" stroke="#ff0000" stroke-width="1.2"/><path d="M409.2,345.6L412.2,350.8L406.2,350.8Z" fill="#fff" stroke="#ff0000" stroke-width="1.2"/><path d="M409.5,345.8L412.5,351.0L406.5,351.0Z" fill="#fff" stroke="#ff0000" stroke-width="1.2"/><path d="M409.9,346.6L412.9,351.8L406.9,351.8Z" fill="#fff" stroke="#ff0000" stroke-width="1.2"/><path d="M410.2,345.8L413.2,351.0L407.2,351.0Z" fill="#fff" stroke="#ff0000" stroke-width="1.2"/><path d="M410.6,346.4L413.6,351.6L407.6,351.6Z" fill="#fff" stroke="#ff0000" stroke-width="1.2"/><path d="M410.9,345.8L413.9,351.0L407.9,351.0Z" fill="#fff" stroke="#ff0000" stroke-width="1.2"/><path d="M411.3,345.2L414.3,350.4L408.3,350.4Z" fill="#fff" stroke="#ff0000" stroke-width="1.2"/><path d="M411.6,345.0L414.6,350.2L408.6,350.2Z" fill="#fff" stroke="#ff0000" stroke-width="1.2"/><path d="M412.0,344.4L415.0,349.6L409.0,349.6Z" fill="#fff" stroke="#ff0000" stroke-width="1.2"/><path d="M412.3,345.2L415.3,350.4L409.3,350.4Z" fill="#fff" stroke="#ff0000" stroke-width="1.2"/><path d="M412.6,345.5L415.6,350.7L409.6,350.7Z" fill="#fff" stroke="#ff0000" stroke-width="1.2"/><path d="M413.0,344.4L416.0,349.6L410.0,349.6Z" fill="#fff" stroke="#ff0000" stroke-width="1.2"/><path d="M413.3,344.6L416.3,349.8L410.3,349.8Z" fill="#fff" stroke="#ff0000" stroke-width="1.2"/><path d="M413.7,345.3L416.7,350.5L410.7,350.5Z" fill="#fff" stroke="#ff0000" stroke-width="1.2"/><path d="M414.0,344.2L417.0,349.4L411.0,349.4Z" fill="#fff" stroke="#ff0000" stroke-width="1.2"/><path d="M414.4,345.0L417.4,350.2L411.4,350.2Z" fill="#fff" stroke="#ff0000" stroke-width="1.2"/><path d="M414.7,344.6L417.7,349.8L411.7,349.8Z" fill="#fff" stroke="#ff0000" stroke-width="1.2"/><path d="M415.1,343.9L418.1,349.1L412.1,349.1Z" fill="#fff" stroke="#ff0000" stroke-width="1.2"/><path d="M415.4,343.3L418.4,348.5L412.4,348.5Z" fill="#fff" stroke="#ff0000" stroke-width="1.2"/><path d="M415.7,341.6L418.7,346.8L412.7,346.8Z" fill="#fff" stroke="#ff0000" stroke-width="1.2"/><path d="M416.1,341.5L419.1,346.7L413.1,346.7Z" fill="#fff" stroke="#ff0000" stroke-width="1.2"/><path d="M416.4,341.1L419.4,346.3L413.4,346.3Z" fill="#fff" stroke="#ff0000" stroke-width="1.2"/><path d="M416.8,339.4L419.8,344.6L413.8,344.6Z" fill="#fff" stroke="#ff0000" stroke-width="1.2"/><path d="M417.1,338.3L420.1,343.5L414.1,343.5Z" fill="#fff" stroke="#ff0000" stroke-width="1.2"/><path d="M417.5,337.5L420.5,342.7L414.5,342.7Z" fill="#fff" stroke="#ff0000" stroke-width="1.2"/><path d="M417.8,336.9L420.8,342.1L414.8,342.1Z" fill="#fff" stroke="#ff0000" stroke-width="1.2"/><path d="M418.2,336.3L421.2,341.5L415.2,341.5Z" fill="#fff" stroke="#ff0000" stroke-width="1.2"/><path d="M418.5,336.6L421.5,341.8L415.5,341.8Z" fill="#fff" stroke="#ff0000" stroke-width="1.2"/><path d="M418.9,335.4L421.9,340.6L415.9,340.6Z" fill="#fff" stroke="#ff0000" stroke-width="1.2"/><path d="M419.2,334.9L422.2,340.1L416.2,340.1Z" fill="#fff" stroke="#ff0000" stroke-width="1.2"/><path d="M419.5,333.9L422.5,339.1L416.5,339.1Z" fill="#fff" stroke="#ff0000" stroke-width="1.2"/><path d="M419.9,333.2L422.9,338.4L416.9,338.4Z" fill="#fff" stroke="#ff0000" stroke-width="1.2"/><path d="M420.2,333.2L423.2,338.4L417.2,338.4Z" fill="#fff" stroke="#ff0000" stroke-width="1.2"/><path d="M420.6,334.4L423.6,339.6L417.6,339.6Z" fill="#fff" stroke="#ff0000" stroke-width="1.2"/><path d="M420.9,334.4L423.9,339.6L417.9,339.6Z" fill="#fff" stroke="#ff0000" stroke-width="1.2"/><path d="M421.3,335.7L424.3,340.9L418.3,340.9Z" fill="#fff" stroke="#ff0000" stroke-width="1.2"/><path d="M421.6,336.9L424.6,342.1L418.6,342.1Z" fill="#fff" stroke="#ff0000" stroke-width="1.2"/><path d="M422.0,338.3L425.0,343.5L419.0,343.5Z" fill="#fff" stroke="#ff0000" stroke-width="1.2"/><path d="M422.3,338.1L425.3,343.3L419.3,343.3Z" fill="#fff" stroke="#ff0000" stroke-width="1.2"/><path d="M422.6,339.2L425.6,344.4L419.6,344.4Z" fill="#fff" stroke="#ff0000" stroke-width="1.2"/><path d="M423.0,340.2L426.0,345.4L420.0,345.4Z" fill="#fff" stroke="#ff0000" stroke-width="1.2"/><path d="M423.3,340.3L426.3,345.5L420.3,345.5Z" fill="#fff" stroke="#ff0000" stroke-width="1.2"/><path d="M423.7,341.8L426.7,347.0L420.7,347.0Z" fill="#fff" stroke="#ff0000" stroke-width="1.2"/><path d="M424.0,343.1L427.0,348.3L421.0,348.3Z" fill="#fff" stroke="#ff0000" stroke-width="1.2"/><path d="M424.4,342.8L427.4,348.0L421.4,348.0Z" fill="#fff" stroke="#ff0000" stroke-width="1.2"/><path d="M424.7,343.9L427.7,349.1L421.7,349.1Z" fill="#fff" stroke="#ff0000" stroke-width="1.2"/><path d="M425.1,343.9L428.1,349.1L422.1,349.1Z" fill="#fff" stroke="#ff0000" stroke-width="1.2"/><path d="M425.4,344.6L428.4,349.8L422.4,349.8Z" fill="#fff" stroke="#ff0000" stroke-width="1.2"/><path d="M425.8,345.4L428.8,350.6L422.8,350.6Z" fill="#fff" stroke="#ff0000" stroke-width="1.2"/><path d="M426.1,344.8L429.1,350.0L423.1,350.0Z" fill="#fff" stroke="#ff0000" stroke-width="1.2"/><path d="M426.4,344.3L429.4,349.5L423.4,349.5Z" fill="#fff" stroke="#ff0000" stroke-width="1.2"/><path d="M426.8,344.6L429.8,349.8L423.8,349.8Z" fill="#fff" stroke="#ff0000" stroke-width="1.2"/><path d="M427.1,345.1L430.1,350.3L424.1,350.3Z" fill="#fff" stroke="#ff0000" stroke-width="1.2"/><path d="M427.5,345.6L430.5,350.8L424.5,350.8Z" fill="#fff" stroke="#ff0000" stroke-width="1.2"/><path d="M427.8,345.0L430.8,350.2L424.8,350.2Z" fill="#fff" stroke="#ff0000" stroke-width="1.2"/><path d="M428.2,345.1L431.2,350.3L425.2,350.3Z" fill="#fff" stroke="#ff0000" stroke-width="1.2"/><path d="M428.5,345.7L431.5,350.9L425.5,350.9Z" fill="#fff" stroke="#ff0000" stroke-width="1.2"/><path d="M428.9,344.6L431.9,349.8L425.9,349.8Z" fill="#fff" stroke="#ff0000" stroke-width="1.2"/><path d="M429.2,346.1L432.2,351.3L426.2,351.3Z" fill="#fff" stroke="#ff0000" stroke-width="1.2"/><path d="M429.5,345.4L432.5,350.6L426.5,350.6Z" fill="#fff" stroke="#ff0000" stroke-width="1.2"/><path d="M429.9,345.2L432.9,350.4L426.9,350.4Z" fill="#fff" stroke="#ff0000" stroke-width="1.2"/><path d="M430.2,345.9L433.2,351.1L427.2,351.1Z" fill="#fff" stroke="#ff0000" stroke-width="1.2"/><path d="M430.6,345.0L433.6,350.2L427.6,350.2Z" fill="#fff" stroke="#ff0000" stroke-width="1.2"/><path d="M430.9,344.8L433.9,350.0L427.9,350.0Z" fill="#fff" stroke="#ff0000" stroke-width="1.2"/><path d="M431.3,344.9L434.3,350.1L428.3,350.1Z" fill="#fff" stroke="#ff0000" stroke-width="1.2"/><path d="M431.6,345.5L434.6,350.7L428.6,350.7Z" fill="#fff" stroke="#ff0000" stroke-width="1.2"/><path d="M432.0,344.5L435.0,349.7L429.0,349.7Z" fill="#fff" stroke="#ff0000" stroke-width="1.2"/><path d="M432.3,345.0L435.3,350.2L429.3,350.2Z" fill="#fff" stroke="#ff0000" stroke-width="1.2"/><path d="M432.7,344.6L435.7,349.8L429.7,349.8Z" fill="#fff" stroke="#ff0000" stroke-width="1.2"/><path d="M433.0,345.1L436.0,350.3L430.0,350.3Z" fill="#fff" stroke="#ff0000" stroke-width="1.2"/><path d="M433.3,344.4L436.3,349.6L430.3,349.6Z" fill="#fff" stroke="#ff0000" stroke-width="1.2"/><path d="M433.7,345.3L436.7,350.5L430.7,350.5Z" fill="#fff" stroke="#ff0000" stroke-width="1.2"/><path d="M434.0,345.5L437.0,350.7L431.0,350.7Z" fill="#fff" stroke="#ff0000" stroke-width="1.2"/><path d="M434.4,344.5L437.4,349.7L431.4,349.7Z" fill="#fff" stroke="#ff0000" stroke-width="1.2"/><path d="M434.7,344.5L437.7,349.7L431.7,349.7Z" fill="#fff" stroke="#ff0000" stroke-width="1.2"/><path d="M435.1,344.8L438.1,350.0L432.1,350.0Z" fill="#fff" stroke="#ff0000" stroke-width="1.2"/><path d="M435.4,345.0L438.4,350.2L432.4,350.2Z" fill="#fff" stroke="#ff0000" stroke-width="1.2"/><path d="M435.8,343.8L438.8,349.0L432.8,349.0Z" fill="#fff" stroke="#ff0000" stroke-width="1.2"/><path d="M436.1,344.8L439.1,350.0L433.1,350.0Z" fill="#fff" stroke="#ff0000" stroke-width="1.2"/><path d="M436.4,345.0L439.4,350.2L433.4,350.2Z" fill="#fff" stroke="#ff0000" stroke-width="1.2"/><path d="M436.8,344.9L439.8,350.1L433.8,350.1Z" fill="#fff" stroke="#ff0000" stroke-width="1.2"/><path d="M437.1,344.3L440.1,349.5L434.1,349.5Z" fill="#fff" stroke="#ff0000" stroke-width="1.2"/><path d="M437.5,344.9L440.5,350.1L434.5,350.1Z" fill="#fff" stroke="#ff0000" stroke-width="1.2"/><path d="M437.8,344.4L440.8,349.6L434.8,349.6Z" fill="#fff" stroke="#ff0000" stroke-width="1.2"/><path d="M438.2,343.8L441.2,349.0L435.2,349.0Z" fill="#fff" stroke="#ff0000" stroke-width="1.2"/><path d="M438.5,343.9L441.5,349.1L435.5,349.1Z" fill="#fff" stroke="#ff0000" stroke-width="1.2"/><path d="M438.9,344.3L441.9,349.5L435.9,349.5Z" fill="#fff" stroke="#ff0000" stroke-width="1.2"/><path d="M439.2,344.2L442.2,349.4L436.2,349.4Z" fill="#fff" stroke="#ff0000" stroke-width="1.2"/><path d="M439.6,344.6L442.6,349.8L436.6,349.8Z" fill="#fff" stroke="#ff0000" stroke-width="1.2"/><path d="M439.9,344.4L442.9,349.6L436.9,349.6Z" fill="#fff" stroke="#ff0000" stroke-width="1.2"/><path d="M440.2,343.6L443.2,348.8L437.2,348.8Z" fill="#fff" stroke="#ff0000" stroke-width="1.2"/><path d="M440.6,343.8L443.6,349.0L437.6,349.0Z" fill="#fff" stroke="#ff0000" stroke-width="1.2"/><path d="M440.9,344.6L443.9,349.8L437.9,349.8Z" fill="#fff" stroke="#ff0000" stroke-width="1.2"/><path d="M441.3,344.2L444.3,349.4L438.3,349.4Z" fill="#fff" stroke="#ff0000" stroke-width="1.2"/><path d="M441.6,343.9L444.6,349.1L438.6,349.1Z" fill="#fff" stroke="#ff0000" stroke-width="1.2"/><path d="M442.0,345.2L445.0,350.4L439.0,350.4Z" fill="#fff" stroke="#ff0000" stroke-width="1.2"/><path d="M442.3,344.5L445.3,349.7L439.3,349.7Z" fill="#fff" stroke="#ff0000" stroke-width="1.2"/><path d="M442.7,344.4L445.7,349.6L439.7,349.6Z" fill="#fff" stroke="#ff0000" stroke-width="1.2"/><path d="M443.0,344.8L446.0,350.0L440.0,350.0Z" fill="#fff" stroke="#ff0000" stroke-width="1.2"/><path d="M443.3,344.6L446.3,349.8L440.3,349.8Z" fill="#fff" stroke="#ff0000" stroke-width="1.2"/><path d="M443.7,344.7L446.7,349.9L440.7,349.9Z" fill="#fff" stroke="#ff0000" stroke-width="1.2"/><path d="M444.0,345.4L447.0,350.6L441.0,350.6Z" fill="#fff" stroke="#ff0000" stroke-width="1.2"/><path d="M444.4,345.8L447.4,351.0L441.4,351.0Z" fill="#fff" stroke="#ff0000" stroke-width="1.2"/><path d="M444.7,345.3L447.7,350.5L441.7,350.5Z" fill="#fff" stroke="#ff0000" stroke-width="1.2"/><path d="M445.1,345.0L448.1,350.2L442.1,350.2Z" fill="#fff" stroke="#ff0000" stroke-width="1.2"/><path d="M445.4,345.6L448.4,350.8L442.4,350.8Z" fill="#fff" stroke="#ff0000" stroke-width="1.2"/><path d="M445.8,345.6L448.8,350.8L442.8,350.8Z" fill="#fff" stroke="#ff0000" stroke-width="1.2"/><path d="M446.1,345.7L449.1,350.9L443.1,350.9Z" fill="#fff" stroke="#ff0000" stroke-width="1.2"/><path d="M446.5,345.5L449.5,350.7L443.5,350.7Z" fill="#fff" stroke="#ff0000" stroke-width="1.2"/><path d="M446.8,346.5L449.8,351.7L443.8,351.7Z" fill="#fff" stroke="#ff0000" stroke-width="1.2"/><path d="M447.1,345.7L450.1,350.9L444.1,350.9Z" fill="#fff" stroke="#ff0000" stroke-width="1.2"/><path d="M447.5,345.5L450.5,350.7L444.5,350.7Z" fill="#fff" stroke="#ff0000" stroke-width="1.2"/><path d="M447.8,346.7L450.8,351.9L444.8,351.9Z" fill="#fff" stroke="#ff0000" stroke-width="1.2"/><path d="M448.2,346.8L451.2,352.0L445.2,352.0Z" fill="#fff" stroke="#ff0000" stroke-width="1.2"/><path d="M448.5,346.1L451.5,351.3L445.5,351.3Z" fill="#fff" stroke="#ff0000" stroke-width="1.2"/><path d="M448.9,346.1L451.9,351.3L445.9,351.3Z" fill="#fff" stroke="#ff0000" stroke-width="1.2"/><path d="M449.2,346.9L452.2,352.1L446.2,352.1Z" fill="#fff" stroke="#ff0000" stroke-width="1.2"/><path d="M449.6,347.5L452.6,352.7L446.6,352.7Z" fill="#fff" stroke="#ff0000" stroke-width="1.2"/><path d="M449.9,346.6L452.9,351.8L446.9,351.8Z" fill="#fff" stroke="#ff0000" stroke-width="1.2"/><path d="M450.2,347.1L453.2,352.3L447.2,352.3Z" fill="#fff" stroke="#ff0000" stroke-width="1.2"/><path d="M450.6,346.7L453.6,351.9L447.6,351.9Z" fill="#fff" stroke="#ff0000" stroke-width="1.2"/><path d="M450.9,347.5L453.9,352.7L447.9,352.7Z" fill="#fff" stroke="#ff0000" stroke-width="1.2"/><path d="M451.3,347.1L454.3,352.3L448.3,352.3Z" fill="#fff" stroke="#ff0000" stroke-width="1.2"/><path d="M451.6,347.0L454.6,352.2L448.6,352.2Z" fill="#fff" stroke="#ff0000" stroke-width="1.2"/><path d="M452.0,347.4L455.0,352.6L449.0,352.6Z" fill="#fff" stroke="#ff0000" stroke-width="1.2"/><path d="M452.3,347.3L455.3,352.5L449.3,352.5Z" fill="#fff" stroke="#ff0000" stroke-width="1.2"/><path d="M452.7,346.8L455.7,352.0L449.7,352.0Z" fill="#fff" stroke="#ff0000" stroke-width="1.2"/><path d="M453.0,347.2L456.0,352.4L450.0,352.4Z" fill="#fff" stroke="#ff0000" stroke-width="1.2"/><path d="M453.4,348.1L456.4,353.3L450.4,353.3Z" fill="#fff" stroke="#ff0000" stroke-width="1.2"/><path d="M453.7,347.9L456.7,353.1L450.7,353.1Z" fill="#fff" stroke="#ff0000" stroke-width="1.2"/><path d="M454.0,347.4L457.0,352.6L451.0,352.6Z" fill="#fff" stroke="#ff0000" stroke-width="1.2"/><path d="M454.4,347.7L457.4,352.9L451.4,352.9Z" fill="#fff" stroke="#ff0000" stroke-width="1.2"/><path d="M454.7,346.9L457.7,352.1L451.7,352.1Z" fill="#fff" stroke="#ff0000" stroke-width="1.2"/><path d="M455.1,347.4L458.1,352.6L452.1,352.6Z" fill="#fff" stroke="#ff0000" stroke-width="1.2"/><path d="M455.4,348.1L458.4,353.3L452.4,353.3Z" fill="#fff" stroke="#ff0000" stroke-width="1.2"/><path d="M455.8,346.9L458.8,352.1L452.8,352.1Z" fill="#fff" stroke="#ff0000" stroke-width="1.2"/><path d="M456.1,348.2L459.1,353.4L453.1,353.4Z" fill="#fff" stroke="#ff0000" stroke-width="1.2"/><path d="M456.5,348.0L459.5,353.2L453.5,353.2Z" fill="#fff" stroke="#ff0000" stroke-width="1.2"/><path d="M456.8,347.7L459.8,352.9L453.8,352.9Z" fill="#fff" stroke="#ff0000" stroke-width="1.2"/><path d="M457.1,347.1L460.1,352.3L454.1,352.3Z" fill="#fff" stroke="#ff0000" stroke-width="1.2"/><path d="M457.5,346.7L460.5,351.9L454.5,351.9Z" fill="#fff" stroke="#ff0000" stroke-width="1.2"/><path d="M457.8,347.0L460.8,352.2L454.8,352.2Z" fill="#fff" stroke="#ff0000" stroke-width="1.2"/><path d="M458.2,347.7L461.2,352.9L455.2,352.9Z" fill="#fff" stroke="#ff0000" stroke-width="1.2"/><path d="M458.5,347.1L461.5,352.3L455.5,352.3Z" fill="#fff" stroke="#ff0000" stroke-width="1.2"/><path d="M458.9,347.7L461.9,352.9L455.9,352.9Z" fill="#fff" stroke="#ff0000" stroke-width="1.2"/><path d="M459.2,346.7L462.2,351.9L456.2,351.9Z" fill="#fff" stroke="#ff0000" stroke-width="1.2"/><path d="M459.6,347.7L462.6,352.9L456.6,352.9Z" fill="#fff" stroke="#ff0000" stroke-width="1.2"/><path d="M459.9,347.7L462.9,352.9L456.9,352.9Z" fill="#fff" stroke="#ff0000" stroke-width="1.2"/><path d="M460.3,347.5L463.3,352.7L457.3,352.7Z" fill="#fff" stroke="#ff0000" stroke-width="1.2"/><path d="M460.6,346.6L463.6,351.8L457.6,351.8Z" fill="#fff" stroke="#ff0000" stroke-width="1.2"/><path d="M460.9,346.6L463.9,351.8L457.9,351.8Z" fill="#fff" stroke="#ff0000" stroke-width="1.2"/><path d="M461.3,346.4L464.3,351.6L458.3,351.6Z" fill="#fff" stroke="#ff0000" stroke-width="1.2"/><path d="M461.6,346.3L464.6,351.5L458.6,351.5Z" fill="#fff" stroke="#ff0000" stroke-width="1.2"/><path d="M462.0,347.4L465.0,352.6L459.0,352.6Z" fill="#fff" stroke="#ff0000" stroke-width="1.2"/><path d="M462.3,346.9L465.3,352.1L459.3,352.1Z" fill="#fff" stroke="#ff0000" stroke-width="1.2"/><path d="M462.7,347.2L465.7,352.4L459.7,352.4Z" fill="#fff" stroke="#ff0000" stroke-width="1.2"/><path d="M463.0,346.3L466.0,351.5L460.0,351.5Z" fill="#fff" stroke="#ff0000" stroke-width="1.2"/><path d="M463.4,346.3L466.4,351.5L460.4,351.5Z" fill="#fff" stroke="#ff0000" stroke-width="1.2"/><path d="M463.7,347.1L466.7,352.3L460.7,352.3Z" fill="#fff" stroke="#ff0000" stroke-width="1.2"/><path d="M464.0,347.1L467.0,352.3L461.0,352.3Z" fill="#fff" stroke="#ff0000" stroke-width="1.2"/><path d="M464.4,345.6L467.4,350.8L461.4,350.8Z" fill="#fff" stroke="#ff0000" stroke-width="1.2"/><path d="M464.7,346.5L467.7,351.7L461.7,351.7Z" fill="#fff" stroke="#ff0000" stroke-width="1.2"/><path d="M465.1,346.1L468.1,351.3L462.1,351.3Z" fill="#fff" stroke="#ff0000" stroke-width="1.2"/><path d="M465.4,345.1L468.4,350.3L462.4,350.3Z" fill="#fff" stroke="#ff0000" stroke-width="1.2"/><path d="M465.8,345.9L468.8,351.1L462.8,351.1Z" fill="#fff" stroke="#ff0000" stroke-width="1.2"/><path d="M466.1,345.3L469.1,350.5L463.1,350.5Z" fill="#fff" stroke="#ff0000" stroke-width="1.2"/><path d="M466.5,345.3L469.5,350.5L463.5,350.5Z" fill="#fff" stroke="#ff0000" stroke-width="1.2"/><path d="M466.8,346.1L469.8,351.3L463.8,351.3Z" fill="#fff" stroke="#ff0000" stroke-width="1.2"/><path d="M467.2,345.7L470.2,350.9L464.2,350.9Z" fill="#fff" stroke="#ff0000" stroke-width="1.2"/><path d="M467.5,344.5L470.5,349.7L464.5,349.7Z" fill="#fff" stroke="#ff0000" stroke-width="1.2"/><path d="M467.8,345.3L470.8,350.5L464.8,350.5Z" fill="#fff" stroke="#ff0000" stroke-width="1.2"/><path d="M468.2,344.2L471.2,349.4L465.2,349.4Z" fill="#fff" stroke="#ff0000" stroke-width="1.2"/><path d="M468.5,345.4L471.5,350.6L465.5,350.6Z" fill="#fff" stroke="#ff0000" stroke-width="1.2"/><path d="M468.9,344.9L471.9,350.1L465.9,350.1Z" fill="#fff" stroke="#ff0000" stroke-width="1.2"/><path d="M469.2,344.8L472.2,350.0L466.2,350.0Z" fill="#fff" stroke="#ff0000" stroke-width="1.2"/><path d="M469.6,343.7L472.6,348.9L466.6,348.9Z" fill="#fff" stroke="#ff0000" stroke-width="1.2"/><path d="M469.9,343.7L472.9,348.9L466.9,348.9Z" fill="#fff" stroke="#ff0000" stroke-width="1.2"/><path d="M470.3,344.3L473.3,349.5L467.3,349.5Z" fill="#fff" stroke="#ff0000" stroke-width="1.2"/><path d="M470.6,344.0L473.6,349.2L467.6,349.2Z" fill="#fff" stroke="#ff0000" stroke-width="1.2"/><path d="M470.9,344.6L473.9,349.8L467.9,349.8Z" fill="#fff" stroke="#ff0000" stroke-width="1.2"/><path d="M471.3,343.6L474.3,348.8L468.3,348.8Z" fill="#fff" stroke="#ff0000" stroke-width="1.2"/><path d="M471.6,343.7L474.6,348.9L468.6,348.9Z" fill="#fff" stroke="#ff0000" stroke-width="1.2"/><path d="M472.0,343.1L475.0,348.3L469.0,348.3Z" fill="#fff" stroke="#ff0000" stroke-width="1.2"/><path d="M472.3,343.6L475.3,348.8L469.3,348.8Z" fill="#fff" stroke="#ff0000" stroke-width="1.2"/><path d="M472.7,344.2L475.7,349.4L469.7,349.4Z" fill="#fff" stroke="#ff0000" stroke-width="1.2"/><path d="M473.0,343.2L476.0,348.4L470.0,348.4Z" fill="#fff" stroke="#ff0000" stroke-width="1.2"/><path d="M473.4,344.0L476.4,349.2L470.4,349.2Z" fill="#fff" stroke="#ff0000" stroke-width="1.2"/><path d="M473.7,343.1L476.7,348.3L470.7,348.3Z" fill="#fff" stroke="#ff0000" stroke-width="1.2"/><path d="M474.1,344.2L477.1,349.4L471.1,349.4Z" fill="#fff" stroke="#ff0000" stroke-width="1.2"/><path d="M474.4,343.7L477.4,348.9L471.4,348.9Z" fill="#fff" stroke="#ff0000" stroke-width="1.2"/><path d="M474.7,343.1L477.7,348.3L471.7,348.3Z" fill="#fff" stroke="#ff0000" stroke-width="1.2"/><path d="M475.1,344.2L478.1,349.4L472.1,349.4Z" fill="#fff" stroke="#ff0000" stroke-width="1.2"/><path d="M475.4,344.4L478.4,349.6L472.4,349.6Z" fill="#fff" stroke="#ff0000" stroke-width="1.2"/><path d="M475.8,343.2L478.8,348.4L472.8,348.4Z" fill="#fff" stroke="#ff0000" stroke-width="1.2"/><path d="M476.1,343.2L479.1,348.4L473.1,348.4Z" fill="#fff" stroke="#ff0000" stroke-width="1.2"/><path d="M476.5,343.5L479.5,348.7L473.5,348.7Z" fill="#fff" stroke="#ff0000" stroke-width="1.2"/><path d="M476.8,343.9L479.8,349.1L473.8,349.1Z" fill="#fff" stroke="#ff0000" stroke-width="1.2"/><path d="M477.2,344.6L480.2,349.8L474.2,349.8Z" fill="#fff" stroke="#ff0000" stroke-width="1.2"/><path d="M477.5,344.5L480.5,349.7L474.5,349.7Z" fill="#fff" stroke="#ff0000" stroke-width="1.2"/><path d="M477.8,343.7L480.8,348.9L474.8,348.9Z" fill="#fff" stroke="#ff0000" stroke-width="1.2"/><path d="M478.2,343.3L481.2,348.5L475.2,348.5Z" fill="#fff" stroke="#ff0000" stroke-width="1.2"/><path d="M478.5,344.2L481.5,349.4L475.5,349.4Z" fill="#fff" stroke="#ff0000" stroke-width="1.2"/><path d="M478.9,344.2L481.9,349.4L475.9,349.4Z" fill="#fff" stroke="#ff0000" stroke-width="1.2"/><path d="M479.2,343.7L482.2,348.9L476.2,348.9Z" fill="#fff" stroke="#ff0000" stroke-width="1.2"/><path d="M479.6,344.3L482.6,349.5L476.6,349.5Z" fill="#fff" stroke="#ff0000" stroke-width="1.2"/><path d="M479.9,345.0L482.9,350.2L476.9,350.2Z" fill="#fff" stroke="#ff0000" stroke-width="1.2"/><path d="M480.3,343.7L483.3,348.9L477.3,348.9Z" fill="#fff" stroke="#ff0000" stroke-width="1.2"/><path d="M480.6,344.0L483.6,349.2L477.6,349.2Z" fill="#fff" stroke="#ff0000" stroke-width="1.2"/><path d="M481.0,344.9L484.0,350.1L478.0,350.1Z" fill="#fff" stroke="#ff0000" stroke-width="1.2"/><path d="M481.3,343.8L484.3,349.0L478.3,349.0Z" fill="#fff" stroke="#ff0000" stroke-width="1.2"/><path d="M481.6,343.8L484.6,349.0L478.6,349.0Z" fill="#fff" stroke="#ff0000" stroke-width="1.2"/><path d="M482.0,343.9L485.0,349.1L479.0,349.1Z" fill="#fff" stroke="#ff0000" stroke-width="1.2"/><path d="M482.3,344.9L485.3,350.1L479.3,350.1Z" fill="#fff" stroke="#ff0000" stroke-width="1.2"/><path d="M482.7,343.9L485.7,349.1L479.7,349.1Z" fill="#fff" stroke="#ff0000" stroke-width="1.2"/><path d="M483.0,343.8L486.0,349.0L480.0,349.0Z" fill="#fff" stroke="#ff0000" stroke-width="1.2"/><path d="M483.4,344.7L486.4,349.9L480.4,349.9Z" fill="#fff" stroke="#ff0000" stroke-width="1.2"/><path d="M483.7,344.9L486.7,350.1L480.7,350.1Z" fill="#fff" stroke="#ff0000" stroke-width="1.2"/><path d="M484.1,344.9L487.1,350.1L481.1,350.1Z" fill="#fff" stroke="#ff0000" stroke-width="1.2"/><path d="M484.4,344.4L487.4,349.6L481.4,349.6Z" fill="#fff" stroke="#ff0000" stroke-width="1.2"/><path d="M484.7,345.2L487.7,350.4L481.7,350.4Z" fill="#fff" stroke="#ff0000" stroke-width="1.2"/><path d="M485.1,343.9L488.1,349.1L482.1,349.1Z" fill="#fff" stroke="#ff0000" stroke-width="1.2"/><path d="M485.4,344.4L488.4,349.6L482.4,349.6Z" fill="#fff" stroke="#ff0000" stroke-width="1.2"/><path d="M485.8,344.3L488.8,349.5L482.8,349.5Z" fill="#fff" stroke="#ff0000" stroke-width="1.2"/><path d="M486.1,344.6L489.1,349.8L483.1,349.8Z" fill="#fff" stroke="#ff0000" stroke-width="1.2"/><path d="M486.5,344.0L489.5,349.2L483.5,349.2Z" fill="#fff" stroke="#ff0000" stroke-width="1.2"/><path d="M486.8,343.9L489.8,349.1L483.8,349.1Z" fill="#fff" stroke="#ff0000" stroke-width="1.2"/><path d="M487.2,345.3L490.2,350.5L484.2,350.5Z" fill="#fff" stroke="#ff0000" stroke-width="1.2"/><path d="M487.5,344.2L490.5,349.4L484.5,349.4Z" fill="#fff" stroke="#ff0000" stroke-width="1.2"/><path d="M487.9,344.5L490.9,349.7L484.9,349.7Z" fill="#fff" stroke="#ff0000" stroke-width="1.2"/>
<path d="M74.4,49.6 L280.0,49.6 L282.5,50.8 L285.0,53.0 L287.5,56.5 L289.3,60.5 L290.3,64.4 L290.9,70.2 L291.5,81.8 L292.0,101.2 L292.6,124.0 L293.0,147.1 L293.1,173.0 L293.3,200.3 L293.9,220.9 L294.5,237.0 L295.1,252.0 L295.8,262.5 L296.5,273.3 L297.2,284.3 L297.6,291.6 L298.1,298.8 L298.6,304.9 L299.1,311.0 L299.5,315.8 L300.0,320.7 L300.6,325.5 L301.2,330.4 L302.1,334.0 L303.6,337.5 L305.1,339.8 L307.1,341.5 L310.0,343.5 L312.0,346.0 L320.0,350.0 L335.0,354.0 L360.0,356.0 L488.0,356.5" fill="none" stroke="#ff0000" stroke-width="1.2" stroke-linejoin="round" />
<path d="M74.4,46.0L78.1,52.2L70.7,52.2ZM75.6,46.0L79.3,52.2L71.9,52.2ZM76.8,46.0L80.5,52.2L73.1,52.2ZM78.0,46.0L81.7,52.2L74.3,52.2ZM79.2,46.0L82.9,52.2L75.5,52.2ZM80.4,46.0L84.1,52.2L76.7,52.2ZM81.6,46.0L85.3,52.2L77.9,52.2ZM82.8,46.0L86.5,52.2L79.1,52.2ZM84.0,46.0L87.7,52.2L80.3,52.2ZM85.2,46.0L88.9,52.2L81.5,52.2ZM86.4,46.0L90.1,52.2L82.7,52.2ZM87.6,46.0L91.3,52.2L83.9,52.2ZM88.8,46.0L92.5,52.2L85.1,52.2ZM90.0,46.0L93.7,52.2L86.3,52.2ZM91.2,46.0L94.9,52.2L87.5,52.2ZM92.4,46.0L96.1,52.2L88.7,52.2ZM93.6,46.0L97.3,52.2L89.9,52.2ZM94.8,46.0L98.5,52.2L91.1,52.2ZM96.0,46.0L99.7,52.2L92.3,52.2ZM97.2,46.0L100.9,52.2L93.5,52.2ZM98.4,46.0L102.1,52.2L94.7,52.2ZM99.6,46.0L103.3,52.2L95.9,52.2ZM100.8,46.0L104.5,52.2L97.1,52.2ZM102.0,46.0L105.7,52.2L98.3,52.2ZM103.2,46.0L106.9,52.2L99.5,52.2ZM104.4,46.0L108.1,52.2L100.7,52.2ZM105.6,46.0L109.3,52.2L101.9,52.2ZM106.8,46.0L110.5,52.2L103.1,52.2ZM108.0,46.0L111.7,52.2L104.3,52.2ZM109.2,46.0L112.9,52.2L105.5,52.2ZM110.4,46.0L114.1,52.2L106.7,52.2ZM111.6,46.0L115.3,52.2L107.9,52.2ZM112.8,46.0L116.5,52.2L109.1,52.2ZM114.0,46.0L117.7,52.2L110.3,52.2ZM115.2,46.0L118.9,52.2L111.5,52.2ZM116.4,46.0L120.1,52.2L112.7,52.2ZM117.6,46.0L121.3,52.2L113.9,52.2ZM118.8,46.0L122.5,52.2L115.1,52.2ZM120.0,46.0L123.7,52.2L116.3,52.2ZM121.2,46.0L124.9,52.2L117.5,52.2ZM122.4,46.0L126.1,52.2L118.7,52.2ZM123.6,46.0L127.3,52.2L119.9,52.2ZM124.8,46.0L128.5,52.2L121.1,52.2ZM126.0,46.0L129.7,52.2L122.3,52.2ZM127.2,46.0L130.9,52.2L123.5,52.2ZM128.4,46.0L132.1,52.2L124.7,52.2ZM129.6,46.0L133.3,52.2L125.9,52.2ZM130.8,46.0L134.5,52.2L127.1,52.2ZM132.0,46.0L135.7,52.2L128.3,52.2ZM133.2,46.0L136.9,52.2L129.5,52.2ZM134.4,46.0L138.1,52.2L130.7,52.2ZM135.6,46.0L139.3,52.2L131.9,52.2ZM136.8,46.0L140.5,52.2L133.1,52.2ZM138.0,46.0L141.7,52.2L134.3,52.2ZM139.2,46.0L142.9,52.2L135.5,52.2ZM140.4,46.0L144.1,52.2L136.7,52.2ZM141.6,46.0L145.3,52.2L137.9,52.2ZM142.8,46.0L146.5,52.2L139.1,52.2ZM144.0,46.0L147.7,52.2L140.3,52.2ZM145.2,46.0L148.9,52.2L141.5,52.2ZM146.4,46.0L150.1,52.2L142.7,52.2ZM147.6,46.0L151.3,52.2L143.9,52.2ZM148.8,46.0L152.5,52.2L145.1,52.2ZM150.0,46.0L153.7,52.2L146.3,52.2ZM151.2,46.0L154.9,52.2L147.5,52.2ZM152.4,46.0L156.1,52.2L148.7,52.2ZM153.6,46.0L157.3,52.2L149.9,52.2ZM154.8,46.0L158.5,52.2L151.1,52.2ZM156.0,46.0L159.7,52.2L152.3,52.2ZM157.2,46.0L160.9,52.2L153.5,52.2ZM158.4,46.0L162.1,52.2L154.7,52.2ZM159.6,46.0L163.3,52.2L155.9,52.2ZM160.8,46.0L164.5,52.2L157.1,52.2ZM162.0,46.0L165.7,52.2L158.3,52.2ZM163.2,46.0L166.9,52.2L159.5,52.2ZM164.4,46.0L168.1,52.2L160.7,52.2ZM165.6,46.0L169.3,52.2L161.9,52.2ZM166.8,46.0L170.5,52.2L163.1,52.2ZM168.0,46.0L171.7,52.2L164.3,52.2ZM169.2,46.0L172.9,52.2L165.5,52.2ZM170.4,46.0L174.1,52.2L166.7,52.2ZM171.6,46.0L175.3,52.2L167.9,52.2ZM172.8,46.0L176.5,52.2L169.1,52.2ZM174.0,46.0L177.7,52.2L170.3,52.2ZM175.2,46.0L178.9,52.2L171.5,52.2ZM176.4,46.0L180.1,52.2L172.7,52.2ZM177.6,46.0L181.3,52.2L173.9,52.2ZM178.8,46.0L182.5,52.2L175.1,52.2ZM180.0,46.0L183.7,52.2L176.3,52.2ZM181.2,46.0L184.9,52.2L177.5,52.2ZM182.4,46.0L186.1,52.2L178.7,52.2ZM183.6,46.0L187.3,52.2L179.9,52.2ZM184.8,46.0L188.5,52.2L181.1,52.2ZM186.0,46.0L189.7,52.2L182.3,52.2ZM187.2,46.0L190.9,52.2L183.5,52.2ZM188.4,46.0L192.1,52.2L184.7,52.2ZM189.6,46.0L193.3,52.2L185.9,52.2ZM190.8,46.0L194.5,52.2L187.1,52.2ZM192.0,46.0L195.7,52.2L188.3,52.2ZM193.2,46.0L196.9,52.2L189.5,52.2ZM194.4,46.0L198.1,52.2L190.7,52.2ZM195.6,46.0L199.3,52.2L191.9,52.2ZM196.8,46.0L200.5,52.2L193.1,52.2ZM198.0,46.0L201.7,52.2L194.3,52.2ZM199.2,46.0L202.9,52.2L195.5,52.2ZM200.4,46.0L204.1,52.2L196.7,52.2ZM201.6,46.0L205.3,52.2L197.9,52.2ZM202.8,46.0L206.5,52.2L199.1,52.2ZM204.0,46.0L207.7,52.2L200.3,52.2ZM205.2,46.0L208.9,52.2L201.5,52.2ZM206.4,46.0L210.1,52.2L202.7,52.2ZM207.6,46.0L211.3,52.2L203.9,52.2ZM208.8,46.0L212.5,52.2L205.1,52.2ZM210.0,46.0L213.7,52.2L206.3,52.2ZM211.2,46.0L214.9,52.2L207.5,52.2ZM212.4,46.0L216.1,52.2L208.7,52.2ZM213.6,46.0L217.3,52.2L209.9,52.2ZM214.8,46.0L218.5,52.2L211.1,52.2ZM216.0,46.0L219.7,52.2L212.3,52.2ZM217.2,46.0L220.9,52.2L213.5,52.2ZM218.4,46.0L222.1,52.2L214.7,52.2ZM219.6,46.0L223.3,52.2L215.9,52.2ZM220.8,46.0L224.5,52.2L217.1,52.2ZM222.0,46.0L225.7,52.2L218.3,52.2ZM223.2,46.0L226.9,52.2L219.5,52.2ZM224.4,46.0L228.1,52.2L220.7,52.2ZM225.6,46.0L229.3,52.2L221.9,52.2ZM226.8,46.0L230.5,52.2L223.1,52.2ZM228.0,46.0L231.7,52.2L224.3,52.2ZM229.2,46.0L232.9,52.2L225.5,52.2ZM230.4,46.0L234.1,52.2L226.7,52.2ZM231.6,46.0L235.3,52.2L227.9,52.2ZM232.8,46.0L236.5,52.2L229.1,52.2ZM234.0,46.0L237.7,52.2L230.3,52.2ZM235.2,46.0L238.9,52.2L231.5,52.2ZM236.4,46.0L240.1,52.2L232.7,52.2ZM237.6,46.0L241.3,52.2L233.9,52.2ZM238.8,46.0L242.5,52.2L235.1,52.2ZM240.0,46.0L243.7,52.2L236.3,52.2ZM241.2,46.0L244.9,52.2L237.5,52.2ZM242.4,46.0L246.1,52.2L238.7,52.2ZM243.6,46.0L247.3,52.2L239.9,52.2ZM244.8,46.0L248.5,52.2L241.1,52.2ZM246.0,46.0L249.7,52.2L242.3,52.2ZM247.2,46.0L250.9,52.2L243.5,52.2ZM248.4,46.0L252.1,52.2L244.7,52.2ZM249.6,46.0L253.3,52.2L245.9,52.2ZM250.8,46.0L254.5,52.2L247.1,52.2ZM252.0,46.0L255.7,52.2L248.3,52.2ZM253.2,46.0L256.9,52.2L249.5,52.2ZM254.4,46.0L258.1,52.2L250.7,52.2ZM255.6,46.0L259.3,52.2L251.9,52.2ZM256.8,46.0L260.5,52.2L253.1,52.2ZM258.0,46.0L261.7,52.2L254.3,52.2ZM259.2,46.0L262.9,52.2L255.5,52.2ZM260.4,46.0L264.1,52.2L256.7,52.2ZM261.6,46.0L265.3,52.2L257.9,52.2ZM262.8,46.0L266.5,52.2L259.1,52.2ZM264.0,46.0L267.7,52.2L260.3,52.2ZM265.2,46.0L268.9,52.2L261.5,52.2ZM266.4,46.0L270.1,52.2L262.7,52.2ZM267.6,46.0L271.3,52.2L263.9,52.2ZM268.8,46.0L272.5,52.2L265.1,52.2ZM270.0,46.0L273.7,52.2L266.3,52.2ZM271.2,46.0L274.9,52.2L267.5,52.2ZM272.4,46.0L276.1,52.2L268.7,52.2ZM273.6,46.0L277.3,52.2L269.9,52.2ZM274.8,46.0L278.5,52.2L271.1,52.2ZM276.0,46.0L279.7,52.2L272.3,52.2ZM277.2,46.0L280.9,52.2L273.5,52.2ZM278.4,46.0L282.1,52.2L274.7,52.2ZM279.6,46.0L283.3,52.2L275.9,52.2ZM76.0,46.0L79.7,52.2L72.3,52.2ZM76.8,46.0L80.5,52.2L73.1,52.2ZM77.6,46.0L81.3,52.2L73.9,52.2ZM78.4,46.0L82.1,52.2L74.7,52.2ZM79.2,46.0L82.9,52.2L75.5,52.2ZM80.0,46.0L83.7,52.2L76.3,52.2ZM80.8,46.0L84.5,52.2L77.1,52.2ZM81.6,46.0L85.3,52.2L77.9,52.2ZM82.4,46.0L86.1,52.2L78.7,52.2ZM83.2,46.0L86.9,52.2L79.5,52.2ZM84.0,46.0L87.7,52.2L80.3,52.2ZM84.8,46.0L88.5,52.2L81.1,52.2ZM85.6,46.0L89.3,52.2L81.9,52.2ZM86.4,46.0L90.1,52.2L82.7,52.2ZM87.2,46.0L90.9,52.2L83.5,52.2ZM88.0,46.0L91.7,52.2L84.3,52.2ZM88.8,46.0L92.5,52.2L85.1,52.2ZM89.6,46.0L93.3,52.2L85.9,52.2ZM90.4,46.0L94.1,52.2L86.7,52.2ZM91.2,46.0L94.9,52.2L87.5,52.2ZM92.0,46.0L95.7,52.2L88.3,52.2ZM92.8,46.0L96.5,52.2L89.1,52.2ZM93.6,46.0L97.3,52.2L89.9,52.2ZM94.4,46.0L98.1,52.2L90.7,52.2ZM95.2,46.0L98.9,52.2L91.5,52.2ZM96.0,46.0L99.7,52.2L92.3,52.2ZM96.8,46.0L100.5,52.2L93.1,52.2ZM97.6,46.0L101.3,52.2L93.9,52.2ZM98.4,46.0L102.1,52.2L94.7,52.2ZM99.2,46.0L102.9,52.2L95.5,52.2ZM100.0,46.0L103.7,52.2L96.3,52.2ZM100.8,46.0L104.5,52.2L97.1,52.2ZM101.6,46.0L105.3,52.2L97.9,52.2ZM102.4,46.0L106.1,52.2L98.7,52.2ZM103.2,46.0L106.9,52.2L99.5,52.2ZM104.0,46.0L107.7,52.2L100.3,52.2ZM104.8,46.0L108.5,52.2L101.1,52.2ZM105.6,46.0L109.3,52.2L101.9,52.2ZM106.4,46.0L110.1,52.2L102.7,52.2ZM107.2,46.0L110.9,52.2L103.5,52.2ZM108.0,46.0L111.7,52.2L104.3,52.2ZM108.8,46.0L112.5,52.2L105.1,52.2ZM109.6,46.0L113.3,52.2L105.9,52.2ZM110.4,46.0L114.1,52.2L106.7,52.2ZM111.2,46.0L114.9,52.2L107.5,52.2ZM112.0,46.0L115.7,52.2L108.3,52.2ZM112.8,46.0L116.5,52.2L109.1,52.2ZM113.6,46.0L117.3,52.2L109.9,52.2ZM114.4,46.0L118.1,52.2L110.7,52.2ZM115.2,46.0L118.9,52.2L111.5,52.2ZM116.0,46.0L119.7,52.2L112.3,52.2ZM116.8,46.0L120.5,52.2L113.1,52.2ZM117.6,46.0L121.3,52.2L113.9,52.2ZM118.4,46.0L122.1,52.2L114.7,52.2ZM119.2,46.0L122.9,52.2L115.5,52.2ZM120.0,46.0L123.7,52.2L116.3,52.2ZM120.8,46.0L124.5,52.2L117.1,52.2ZM121.6,46.0L125.3,52.2L117.9,52.2ZM122.4,46.0L126.1,52.2L118.7,52.2ZM123.2,46.0L126.9,52.2L119.5,52.2ZM124.0,46.0L127.7,52.2L120.3,52.2ZM124.8,46.0L128.5,52.2L121.1,52.2ZM125.6,46.0L129.3,52.2L121.9,52.2ZM126.4,46.0L130.1,52.2L122.7,52.2ZM127.2,46.0L130.9,52.2L123.5,52.2ZM128.0,46.0L131.7,52.2L124.3,52.2ZM128.8,46.0L132.5,52.2L125.1,52.2ZM129.6,46.0L133.3,52.2L125.9,52.2ZM130.4,46.0L134.1,52.2L126.7,52.2ZM131.2,46.0L134.9,52.2L127.5,52.2ZM132.0,46.0L135.7,52.2L128.3,52.2ZM132.8,46.0L136.5,52.2L129.1,52.2ZM133.6,46.0L137.3,52.2L129.9,52.2ZM134.4,46.0L138.1,52.2L130.7,52.2ZM135.2,46.0L138.9,52.2L131.5,52.2ZM136.0,46.0L139.7,52.2L132.3,52.2ZM136.8,46.0L140.5,52.2L133.1,52.2ZM137.6,46.0L141.3,52.2L133.9,52.2ZM138.4,46.0L142.1,52.2L134.7,52.2ZM139.2,46.0L142.9,52.2L135.5,52.2ZM140.0,46.0L143.7,52.2L136.3,52.2ZM140.8,46.0L144.5,52.2L137.1,52.2ZM141.6,46.0L145.3,52.2L137.9,52.2ZM142.4,46.0L146.1,52.2L138.7,52.2ZM143.2,46.0L146.9,52.2L139.5,52.2ZM144.0,46.0L147.7,52.2L140.3,52.2ZM144.8,46.0L148.5,52.2L141.1,52.2ZM145.6,46.0L149.3,52.2L141.9,52.2ZM146.4,46.0L150.1,52.2L142.7,52.2ZM147.2,46.0L150.9,52.2L143.5,52.2ZM148.0,46.0L151.7,52.2L144.3,52.2ZM148.8,46.0L152.5,52.2L145.1,52.2ZM149.6,46.0L153.3,52.2L145.9,52.2ZM150.4,46.0L154.1,52.2L146.7,52.2ZM151.2,46.0L154.9,52.2L147.5,52.2ZM152.0,46.0L155.7,52.2L148.3,52.2ZM152.8,46.0L156.5,52.2L149.1,52.2ZM153.6,46.0L157.3,52.2L149.9,52.2ZM154.4,46.0L158.1,52.2L150.7,52.2ZM155.2,46.0L158.9,52.2L151.5,52.2ZM156.0,46.0L159.7,52.2L152.3,52.2ZM156.8,46.0L160.5,52.2L153.1,52.2ZM157.6,46.0L161.3,52.2L153.9,52.2ZM158.4,46.0L162.1,52.2L154.7,52.2ZM159.2,46.0L162.9,52.2L155.5,52.2ZM160.0,46.0L163.7,52.2L156.3,52.2ZM160.8,46.0L164.5,52.2L157.1,52.2ZM161.6,46.0L165.3,52.2L157.9,52.2ZM162.4,46.0L166.1,52.2L158.7,52.2ZM163.2,46.0L166.9,52.2L159.5,52.2ZM164.0,46.0L167.7,52.2L160.3,52.2ZM164.8,46.0L168.5,52.2L161.1,52.2ZM165.6,46.0L169.3,52.2L161.9,52.2ZM166.4,46.0L170.1,52.2L162.7,52.2ZM167.2,46.0L170.9,52.2L163.5,52.2ZM168.0,46.0L171.7,52.2L164.3,52.2ZM168.8,46.0L172.5,52.2L165.1,52.2ZM169.6,46.0L173.3,52.2L165.9,52.2ZM170.4,46.0L174.1,52.2L166.7,52.2ZM171.2,46.0L174.9,52.2L167.5,52.2ZM172.0,46.0L175.7,52.2L168.3,52.2ZM172.8,46.0L176.5,52.2L169.1,52.2ZM173.6,46.0L177.3,52.2L169.9,52.2ZM174.4,46.0L178.1,52.2L170.7,52.2ZM175.2,46.0L178.9,52.2L171.5,52.2ZM176.0,46.0L179.7,52.2L172.3,52.2ZM176.8,46.0L180.5,52.2L173.1,52.2ZM177.6,46.0L181.3,52.2L173.9,52.2ZM178.4,46.0L182.1,52.2L174.7,52.2ZM179.2,46.0L182.9,52.2L175.5,52.2ZM180.0,46.0L183.7,52.2L176.3,52.2ZM180.8,46.0L184.5,52.2L177.1,52.2ZM181.6,46.0L185.3,52.2L177.9,52.2ZM182.4,46.0L186.1,52.2L178.7,52.2ZM183.2,46.0L186.9,52.2L179.5,52.2ZM184.0,46.0L187.7,52.2L180.3,52.2ZM184.8,46.0L188.5,52.2L181.1,52.2ZM185.6,46.0L189.3,52.2L181.9,52.2ZM186.4,46.0L190.1,52.2L182.7,52.2ZM187.2,46.0L190.9,52.2L183.5,52.2ZM188.0,46.0L191.7,52.2L184.3,52.2ZM188.8,46.0L192.5,52.2L185.1,52.2ZM189.6,46.0L193.3,52.2L185.9,52.2ZM190.4,46.0L194.1,52.2L186.7,52.2ZM191.2,46.0L194.9,52.2L187.5,52.2ZM192.0,46.0L195.7,52.2L188.3,52.2ZM192.8,46.0L196.5,52.2L189.1,52.2ZM193.6,46.0L197.3,52.2L189.9,52.2ZM194.4,46.0L198.1,52.2L190.7,52.2ZM195.2,46.0L198.9,52.2L191.5,52.2ZM196.0,46.0L199.7,52.2L192.3,52.2ZM196.8,46.0L200.5,52.2L193.1,52.2ZM197.6,46.0L201.3,52.2L193.9,52.2ZM198.4,46.0L202.1,52.2L194.7,52.2ZM199.2,46.0L202.9,52.2L195.5,52.2ZM200.0,46.0L203.7,52.2L196.3,52.2ZM200.8,46.0L204.5,52.2L197.1,52.2ZM201.6,46.0L205.3,52.2L197.9,52.2ZM202.4,46.0L206.1,52.2L198.7,52.2ZM203.2,46.0L206.9,52.2L199.5,52.2ZM204.0,46.0L207.7,52.2L200.3,52.2ZM204.8,46.0L208.5,52.2L201.1,52.2ZM205.6,46.0L209.3,52.2L201.9,52.2ZM206.4,46.0L210.1,52.2L202.7,52.2ZM207.2,46.0L210.9,52.2L203.5,52.2ZM208.0,46.0L211.7,52.2L204.3,52.2ZM208.8,46.0L212.5,52.2L205.1,52.2ZM209.6,46.0L213.3,52.2L205.9,52.2ZM210.4,46.0L214.1,52.2L206.7,52.2ZM211.2,46.0L214.9,52.2L207.5,52.2ZM212.0,46.0L215.7,52.2L208.3,52.2ZM212.8,46.0L216.5,52.2L209.1,52.2ZM213.6,46.0L217.3,52.2L209.9,52.2ZM214.4,46.0L218.1,52.2L210.7,52.2ZM215.2,46.0L218.9,52.2L211.5,52.2ZM216.0,46.0L219.7,52.2L212.3,52.2ZM216.8,46.0L220.5,52.2L213.1,52.2ZM217.6,46.0L221.3,52.2L213.9,52.2ZM218.4,46.0L222.1,52.2L214.7,52.2ZM219.2,46.0L222.9,52.2L215.5,52.2ZM220.0,46.0L223.7,52.2L216.3,52.2ZM220.8,46.0L224.5,52.2L217.1,52.2ZM221.6,46.0L225.3,52.2L217.9,52.2ZM222.4,46.0L226.1,52.2L218.7,52.2ZM223.2,46.0L226.9,52.2L219.5,52.2ZM224.0,46.0L227.7,52.2L220.3,52.2ZM224.8,46.0L228.5,52.2L221.1,52.2ZM225.6,46.0L229.3,52.2L221.9,52.2ZM226.4,46.0L230.1,52.2L222.7,52.2ZM227.2,46.0L230.9,52.2L223.5,52.2ZM228.0,46.0L231.7,52.2L224.3,52.2ZM228.8,46.0L232.5,52.2L225.1,52.2ZM229.6,46.0L233.3,52.2L225.9,52.2ZM230.4,46.0L234.1,52.2L226.7,52.2ZM231.2,46.0L234.9,52.2L227.5,52.2ZM232.0,46.0L235.7,52.2L228.3,52.2ZM232.8,46.0L236.5,52.2L229.1,52.2ZM233.6,46.0L237.3,52.2L229.9,52.2ZM234.4,46.0L238.1,52.2L230.7,52.2ZM235.2,46.0L238.9,52.2L231.5,52.2ZM236.0,46.0L239.7,52.2L232.3,52.2ZM236.8,46.0L240.5,52.2L233.1,52.2ZM237.6,46.0L241.3,52.2L233.9,52.2ZM238.4,46.0L242.1,52.2L234.7,52.2ZM239.2,46.0L242.9,52.2L235.5,52.2ZM240.0,46.0L243.7,52.2L236.3,52.2ZM240.8,46.0L244.5,52.2L237.1,52.2ZM241.6,46.0L245.3,52.2L237.9,52.2ZM242.4,46.0L246.1,52.2L238.7,52.2ZM243.2,46.0L246.9,52.2L239.5,52.2ZM244.0,46.0L247.7,52.2L240.3,52.2ZM244.8,46.0L248.5,52.2L241.1,52.2ZM245.6,46.0L249.3,52.2L241.9,52.2ZM246.4,46.0L250.1,52.2L242.7,52.2ZM247.2,46.0L250.9,52.2L243.5,52.2ZM248.0,46.0L251.7,52.2L244.3,52.2ZM248.8,46.0L252.5,52.2L245.1,52.2ZM249.6,46.0L253.3,52.2L245.9,52.2ZM250.4,46.0L254.1,52.2L246.7,52.2ZM251.2,46.0L254.9,52.2L247.5,52.2ZM252.0,46.0L255.7,52.2L248.3,52.2ZM252.8,46.0L256.5,52.2L249.1,52.2ZM253.6,46.0L257.3,52.2L249.9,52.2ZM254.4,46.0L258.1,52.2L250.7,52.2ZM255.2,46.0L258.9,52.2L251.5,52.2ZM256.0,46.0L259.7,52.2L252.3,52.2ZM256.8,46.0L260.5,52.2L253.1,52.2ZM257.6,46.0L261.3,52.2L253.9,52.2ZM258.4,46.0L262.1,52.2L254.7,52.2ZM259.2,46.0L262.9,52.2L255.5,52.2ZM260.0,46.0L263.7,52.2L256.3,52.2ZM260.8,46.0L264.5,52.2L257.1,52.2ZM261.6,46.0L265.3,52.2L257.9,52.2ZM262.4,46.0L266.1,52.2L258.7,52.2ZM263.2,46.0L266.9,52.2L259.5,52.2ZM264.0,46.0L267.7,52.2L260.3,52.2ZM264.8,46.0L268.5,52.2L261.1,52.2ZM265.6,46.0L269.3,52.2L261.9,52.2ZM266.4,46.0L270.1,52.2L262.7,52.2ZM267.2,46.0L270.9,52.2L263.5,52.2ZM268.0,46.0L271.7,52.2L264.3,52.2ZM268.8,46.0L272.5,52.2L265.1,52.2ZM269.6,46.0L273.3,52.2L265.9,52.2ZM270.4,46.0L274.1,52.2L266.7,52.2ZM271.2,46.0L274.9,52.2L267.5,52.2ZM272.0,46.0L275.7,52.2L268.3,52.2ZM272.8,46.0L276.5,52.2L269.1,52.2ZM273.6,46.0L277.3,52.2L269.9,52.2ZM274.4,46.0L278.1,52.2L270.7,52.2ZM275.2,46.0L278.9,52.2L271.5,52.2ZM276.0,46.0L279.7,52.2L272.3,52.2ZM276.8,46.0L280.5,52.2L273.1,52.2ZM277.6,46.0L281.3,52.2L273.9,52.2ZM278.4,46.0L282.1,52.2L274.7,52.2ZM279.2,46.0L282.9,52.2L275.5,52.2ZM280.0,46.0L283.7,52.2L276.3,52.2ZM280.0,46.0L283.7,52.2L276.3,52.2ZM280.8,46.4L284.5,52.6L277.1,52.6ZM281.6,46.8L285.3,53.0L277.9,53.0ZM282.4,47.2L286.1,53.4L278.7,53.4ZM282.5,47.2L286.2,53.4L278.8,53.4ZM283.2,47.8L286.9,54.0L279.5,54.0ZM284.0,48.5L287.7,54.7L280.3,54.7ZM284.8,49.2L288.5,55.4L281.1,55.4ZM285.0,49.4L288.7,55.6L281.3,55.6ZM285.6,50.2L289.3,56.4L281.9,56.4ZM286.4,51.4L290.1,57.6L282.7,57.6ZM287.2,52.5L290.9,58.7L283.5,58.7ZM287.5,52.9L291.2,59.1L283.8,59.1ZM288.0,54.0L291.7,60.2L284.3,60.2ZM288.8,55.8L292.5,62.0L285.1,62.0ZM289.3,56.9L293.0,63.1L285.6,63.1ZM289.6,58.1L293.3,64.3L285.9,64.3ZM290.3,60.8L294.0,67.0L286.6,67.0ZM290.9,66.6L294.6,72.8L287.2,72.8ZM291.5,78.2L295.2,84.4L287.8,84.4ZM292.0,97.6L295.7,103.8L288.3,103.8ZM293.0,143.5L296.7,149.7L289.3,149.7ZM293.3,196.7L297.0,202.9L289.6,202.9ZM293.9,217.3L297.6,223.5L290.2,223.5ZM294.5,233.4L298.2,239.6L290.8,239.6ZM295.1,248.4L298.8,254.6L291.4,254.6ZM295.8,258.9L299.4,265.1L292.1,265.1ZM296.5,269.7L300.2,275.9L292.8,275.9ZM297.2,280.7L300.9,286.9L293.5,286.9ZM297.6,288.0L301.3,294.2L293.9,294.2ZM298.1,295.2L301.8,301.4L294.4,301.4ZM298.6,301.3L302.3,307.5L294.9,307.5ZM299.1,307.4L302.8,313.6L295.4,313.6ZM299.5,312.2L303.2,318.4L295.8,318.4ZM300.0,317.1L303.7,323.3L296.3,323.3ZM300.6,321.9L304.3,328.1L296.9,328.1ZM301.2,326.8L304.9,333.0L297.5,333.0ZM299.1,307.4L302.8,313.6L295.4,313.6ZM299.4,311.4L303.1,317.6L295.7,317.6ZM299.5,312.2L303.2,318.4L295.8,318.4ZM300.0,317.1L303.7,323.3L296.3,323.3ZM300.4,320.4L304.1,326.6L296.7,326.6ZM300.6,321.9L304.3,328.1L296.9,328.1ZM301.2,326.8L304.9,333.0L297.5,333.0ZM301.4,327.6L305.1,333.8L297.7,333.8ZM302.1,330.4L305.8,336.6L298.4,336.6ZM302.4,331.0L306.1,337.2L298.7,337.2ZM303.4,333.4L307.1,339.6L299.7,339.6ZM303.6,333.9L307.3,340.1L299.9,340.1ZM304.4,335.2L308.1,341.4L300.7,341.4ZM305.1,336.2L308.8,342.4L301.4,342.4ZM305.4,336.5L309.1,342.7L301.7,342.7ZM306.4,337.3L310.1,343.5L302.7,343.5ZM307.1,337.9L310.8,344.1L303.4,344.1ZM307.4,338.1L311.1,344.3L303.7,344.3ZM308.4,338.8L312.1,345.0L304.7,345.0ZM309.4,339.5L313.1,345.7L305.7,345.7ZM310.0,339.9L313.7,346.1L306.3,346.1ZM310.4,340.4L314.1,346.6L306.7,346.6ZM311.4,341.6L315.1,347.8L307.7,347.8ZM312.0,342.4L315.7,348.6L308.3,348.6ZM312.4,342.6L316.1,348.8L308.7,348.8ZM313.4,343.1L317.1,349.3L309.7,349.3ZM314.4,343.6L318.1,349.8L310.7,349.8ZM315.4,344.1L319.1,350.3L311.7,350.3ZM316.4,344.6L320.1,350.8L312.7,350.8ZM317.4,345.1L321.1,351.3L313.7,351.3ZM318.4,345.6L322.1,351.8L314.7,351.8ZM319.4,346.1L323.1,352.3L315.7,352.3ZM320.0,346.4L323.7,352.6L316.3,352.6ZM320.4,346.5L324.1,352.7L316.7,352.7ZM321.4,346.8L325.1,353.0L317.7,353.0ZM322.4,347.0L326.1,353.2L318.7,353.2ZM323.4,347.3L327.1,353.5L319.7,353.5ZM324.4,347.6L328.1,353.8L320.7,353.8ZM325.4,347.8L329.1,354.0L321.7,354.0ZM326.4,348.1L330.1,354.3L322.7,354.3ZM327.4,348.4L331.1,354.6L323.7,354.6ZM328.4,348.6L332.1,354.8L324.7,354.8ZM329.4,348.9L333.1,355.1L325.7,355.1ZM330.4,349.2L334.1,355.4L326.7,355.4ZM331.4,349.4L335.1,355.6L327.7,355.6ZM332.4,349.7L336.1,355.9L328.7,355.9ZM333.4,350.0L337.1,356.2L329.7,356.2ZM334.4,350.2L338.1,356.4L330.7,356.4ZM335.0,350.4L338.7,356.6L331.3,356.6ZM335.4,350.4L339.1,356.6L331.7,356.6ZM336.4,350.5L340.1,356.7L332.7,356.7ZM337.4,350.6L341.1,356.8L333.7,356.8ZM338.4,350.7L342.1,356.9L334.7,356.9ZM339.4,350.8L343.1,357.0L335.7,357.0ZM340.4,350.8L344.1,357.0L336.7,357.0ZM341.4,350.9L345.1,357.1L337.7,357.1ZM342.4,351.0L346.1,357.2L338.7,357.2ZM343.4,351.1L347.1,357.3L339.7,357.3ZM344.4,351.2L348.1,357.4L340.7,357.4ZM345.4,351.2L349.1,357.4L341.7,357.4ZM346.4,351.3L350.1,357.5L342.7,357.5ZM347.4,351.4L351.1,357.6L343.7,357.6ZM348.4,351.5L352.1,357.7L344.7,357.7ZM349.4,351.6L353.1,357.8L345.7,357.8ZM350.4,351.6L354.1,357.8L346.7,357.8ZM351.4,351.7L355.1,357.9L347.7,357.9ZM352.4,351.8L356.1,358.0L348.7,358.0ZM353.4,351.9L357.1,358.1L349.7,358.1ZM354.4,352.0L358.1,358.2L350.7,358.2ZM355.4,352.0L359.1,358.2L351.7,358.2ZM356.4,352.1L360.1,358.3L352.7,358.3ZM357.4,352.2L361.1,358.4L353.7,358.4ZM358.4,352.3L362.1,358.5L354.7,358.5ZM359.4,352.4L363.1,358.6L355.7,358.6ZM360.0,352.4L363.7,358.6L356.3,358.6ZM360.4,352.4L364.1,358.6L356.7,358.6ZM361.4,352.4L365.1,358.6L357.7,358.6ZM362.4,352.4L366.1,358.6L358.7,358.6ZM363.4,352.4L367.1,358.6L359.7,358.6ZM364.4,352.4L368.1,358.6L360.7,358.6ZM365.4,352.4L369.1,358.6L361.7,358.6ZM366.4,352.4L370.1,358.6L362.7,358.6ZM367.4,352.4L371.1,358.6L363.7,358.6ZM368.4,352.4L372.1,358.6L364.7,358.6ZM369.4,352.4L373.1,358.6L365.7,358.6ZM370.4,352.4L374.1,358.6L366.7,358.6ZM371.4,352.4L375.1,358.6L367.7,358.6ZM372.4,352.4L376.1,358.6L368.7,358.6ZM373.4,352.5L377.1,358.7L369.7,358.7ZM374.4,352.5L378.1,358.7L370.7,358.7ZM375.4,352.5L379.1,358.7L371.7,358.7ZM376.4,352.5L380.1,358.7L372.7,358.7ZM377.4,352.5L381.1,358.7L373.7,358.7ZM378.4,352.5L382.1,358.7L374.7,358.7ZM379.4,352.5L383.1,358.7L375.7,358.7ZM380.4,352.5L384.1,358.7L376.7,358.7ZM381.4,352.5L385.1,358.7L377.7,358.7ZM382.4,352.5L386.1,358.7L378.7,358.7ZM383.4,352.5L387.1,358.7L379.7,358.7ZM384.4,352.5L388.1,358.7L380.7,358.7ZM385.4,352.5L389.1,358.7L381.7,358.7ZM386.4,352.5L390.1,358.7L382.7,358.7ZM387.4,352.5L391.1,358.7L383.7,358.7ZM388.4,352.5L392.1,358.7L384.7,358.7ZM389.4,352.5L393.1,358.7L385.7,358.7ZM390.4,352.5L394.1,358.7L386.7,358.7ZM391.4,352.5L395.1,358.7L387.7,358.7ZM392.4,352.5L396.1,358.7L388.7,358.7ZM393.4,352.5L397.1,358.7L389.7,358.7ZM394.4,352.5L398.1,358.7L390.7,358.7ZM395.4,352.5L399.1,358.7L391.7,358.7ZM396.4,352.5L400.1,358.7L392.7,358.7ZM397.4,352.5L401.1,358.7L393.7,358.7ZM398.4,352.5L402.1,358.8L394.7,358.8ZM399.4,352.6L403.1,358.8L395.7,358.8ZM400.4,352.6L404.1,358.8L396.7,358.8ZM401.4,352.6L405.1,358.8L397.7,358.8ZM402.4,352.6L406.1,358.8L398.7,358.8ZM403.4,352.6L407.1,358.8L399.7,358.8ZM404.4,352.6L408.1,358.8L400.7,358.8ZM405.4,352.6L409.1,358.8L401.7,358.8ZM406.4,352.6L410.1,358.8L402.7,358.8ZM407.4,352.6L411.1,358.8L403.7,358.8ZM408.4,352.6L412.1,358.8L404.7,358.8ZM409.4,352.6L413.1,358.8L405.7,358.8ZM410.4,352.6L414.1,358.8L406.7,358.8ZM411.4,352.6L415.1,358.8L407.7,358.8ZM412.4,352.6L416.1,358.8L408.7,358.8ZM413.4,352.6L417.1,358.8L409.7,358.8ZM414.4,352.6L418.1,358.8L410.7,358.8ZM415.4,352.6L419.1,358.8L411.7,358.8ZM416.4,352.6L420.1,358.8L412.7,358.8ZM417.4,352.6L421.1,358.8L413.7,358.8ZM418.4,352.6L422.1,358.8L414.7,358.8ZM419.4,352.6L423.1,358.8L415.7,358.8ZM420.4,352.6L424.1,358.8L416.7,358.8ZM421.4,352.6L425.1,358.8L417.7,358.8ZM422.4,352.6L426.1,358.8L418.7,358.8ZM423.4,352.6L427.1,358.8L419.7,358.8ZM424.4,352.7L428.1,358.9L420.7,358.9ZM425.4,352.7L429.1,358.9L421.7,358.9ZM426.4,352.7L430.1,358.9L422.7,358.9ZM427.4,352.7L431.1,358.9L423.7,358.9ZM428.4,352.7L432.1,358.9L424.7,358.9ZM429.4,352.7L433.1,358.9L425.7,358.9ZM430.4,352.7L434.1,358.9L426.7,358.9ZM431.4,352.7L435.1,358.9L427.7,358.9ZM432.4,352.7L436.1,358.9L428.7,358.9ZM433.4,352.7L437.1,358.9L429.7,358.9ZM434.4,352.7L438.1,358.9L430.7,358.9ZM435.4,352.7L439.1,358.9L431.7,358.9ZM436.4,352.7L440.1,358.9L432.7,358.9ZM437.4,352.7L441.1,358.9L433.7,358.9ZM438.4,352.7L442.1,358.9L434.7,358.9ZM439.4,352.7L443.1,358.9L435.7,358.9ZM440.4,352.7L444.1,358.9L436.7,358.9ZM441.4,352.7L445.1,358.9L437.7,358.9ZM442.4,352.7L446.1,358.9L438.7,358.9ZM443.4,352.7L447.1,358.9L439.7,358.9ZM444.4,352.7L448.1,358.9L440.7,358.9ZM445.4,352.7L449.1,358.9L441.7,358.9ZM446.4,352.7L450.1,358.9L442.7,358.9ZM447.4,352.7L451.1,358.9L443.7,358.9ZM448.4,352.7L452.1,358.9L444.7,358.9ZM449.4,352.7L453.1,358.9L445.7,358.9ZM450.4,352.8L454.1,359.0L446.7,359.0ZM451.4,352.8L455.1,359.0L447.7,359.0ZM452.4,352.8L456.1,359.0L448.7,359.0ZM453.4,352.8L457.1,359.0L449.7,359.0ZM454.4,352.8L458.1,359.0L450.7,359.0ZM455.4,352.8L459.1,359.0L451.7,359.0ZM456.4,352.8L460.1,359.0L452.7,359.0ZM457.4,352.8L461.1,359.0L453.7,359.0ZM458.4,352.8L462.1,359.0L454.7,359.0ZM459.4,352.8L463.1,359.0L455.7,359.0ZM460.4,352.8L464.1,359.0L456.7,359.0ZM461.4,352.8L465.1,359.0L457.7,359.0ZM462.4,352.8L466.1,359.0L458.7,359.0ZM463.4,352.8L467.1,359.0L459.7,359.0ZM464.4,352.8L468.1,359.0L460.7,359.0ZM465.4,352.8L469.1,359.0L461.7,359.0ZM466.4,352.8L470.1,359.0L462.7,359.0ZM467.4,352.8L471.1,359.0L463.7,359.0ZM468.4,352.8L472.1,359.0L464.7,359.0ZM469.4,352.8L473.1,359.0L465.7,359.0ZM470.4,352.8L474.1,359.0L466.7,359.0ZM471.4,352.8L475.1,359.0L467.7,359.0ZM472.4,352.8L476.1,359.0L468.7,359.0ZM473.4,352.8L477.1,359.0L469.7,359.0ZM474.4,352.8L478.1,359.0L470.7,359.0ZM475.4,352.9L479.1,359.1L471.7,359.1ZM476.4,352.9L480.1,359.1L472.7,359.1ZM477.4,352.9L481.1,359.1L473.7,359.1ZM478.4,352.9L482.1,359.1L474.7,359.1ZM479.4,352.9L483.1,359.1L475.7,359.1ZM480.4,352.9L484.1,359.1L476.7,359.1ZM481.4,352.9L485.1,359.1L477.7,359.1ZM482.4,352.9L486.1,359.1L478.7,359.1ZM483.4,352.9L487.1,359.1L479.7,359.1ZM484.4,352.9L488.1,359.1L480.7,359.1ZM485.4,352.9L489.1,359.1L481.7,359.1ZM486.4,352.9L490.1,359.1L482.7,359.1ZM487.4,352.9L491.1,359.1L483.7,359.1ZM488.0,352.9L491.7,359.1L484.3,359.1Z" fill="#ff0000"/>
<path d="M74.4,50.8 L387.0,50.8 L390.0,51.5 L392.5,53.3 L394.5,57.0 L396.2,62.0 L397.5,68.0 L398.7,77.0 L399.7,88.7 L400.0,96.5 L400.3,103.3 L400.5,110.0 L400.8,116.8 L400.9,134.6 L401.1,161.7 L401.5,189.0 L402.0,201.8 L402.3,212.5 L402.6,221.2 L403.0,230.0 L403.3,238.0 L403.7,245.9 L404.0,253.3 L404.3,260.0 L404.6,265.9 L405.0,272.7 L405.5,279.0 L406.0,285.0 L406.6,291.0 L407.2,297.0 L407.9,303.0 L408.6,309.0 L409.4,315.0 L410.2,320.0 L411.3,326.0 L412.4,331.0 L413.5,335.5 L414.5,339.0 L415.5,342.5 L416.4,345.5 L417.3,348.5 L418.2,351.0 L419.5,353.5 L421.0,355.0 L424.0,356.0 L488.0,356.5" fill="none" stroke="#a00000" stroke-width="1.2" stroke-linejoin="round" />
<path d="M74.4,54.3L78.1,48.2L70.7,48.2ZM75.6,54.3L79.3,48.2L71.9,48.2ZM76.8,54.3L80.5,48.2L73.1,48.2ZM78.0,54.3L81.7,48.2L74.3,48.2ZM79.2,54.3L82.9,48.2L75.5,48.2ZM80.4,54.3L84.1,48.2L76.7,48.2ZM81.6,54.3L85.3,48.2L77.9,48.2ZM82.8,54.3L86.5,48.2L79.1,48.2ZM84.0,54.3L87.7,48.2L80.3,48.2ZM85.2,54.3L88.9,48.2L81.5,48.2ZM86.4,54.3L90.1,48.2L82.7,48.2ZM87.6,54.3L91.3,48.2L83.9,48.2ZM88.8,54.3L92.5,48.2L85.1,48.2ZM90.0,54.3L93.7,48.2L86.3,48.2ZM91.2,54.3L94.9,48.2L87.5,48.2ZM92.4,54.3L96.1,48.2L88.7,48.2ZM93.6,54.3L97.3,48.2L89.9,48.2ZM94.8,54.3L98.5,48.2L91.1,48.2ZM96.0,54.3L99.7,48.2L92.3,48.2ZM97.2,54.3L100.9,48.2L93.5,48.2ZM98.4,54.3L102.1,48.2L94.7,48.2ZM99.6,54.3L103.3,48.2L95.9,48.2ZM100.8,54.3L104.5,48.2L97.1,48.2ZM102.0,54.3L105.7,48.2L98.3,48.2ZM103.2,54.3L106.9,48.2L99.5,48.2ZM104.4,54.3L108.1,48.2L100.7,48.2ZM105.6,54.3L109.3,48.2L101.9,48.2ZM106.8,54.3L110.5,48.2L103.1,48.2ZM108.0,54.3L111.7,48.2L104.3,48.2ZM109.2,54.3L112.9,48.2L105.5,48.2ZM110.4,54.3L114.1,48.2L106.7,48.2ZM111.6,54.3L115.3,48.2L107.9,48.2ZM112.8,54.3L116.5,48.2L109.1,48.2ZM114.0,54.3L117.7,48.2L110.3,48.2ZM115.2,54.3L118.9,48.2L111.5,48.2ZM116.4,54.3L120.1,48.2L112.7,48.2ZM117.6,54.3L121.3,48.2L113.9,48.2ZM118.8,54.3L122.5,48.2L115.1,48.2ZM120.0,54.3L123.7,48.2L116.3,48.2ZM121.2,54.3L124.9,48.2L117.5,48.2ZM122.4,54.3L126.1,48.2L118.7,48.2ZM123.6,54.3L127.3,48.2L119.9,48.2ZM124.8,54.3L128.5,48.2L121.1,48.2ZM126.0,54.3L129.7,48.2L122.3,48.2ZM127.2,54.3L130.9,48.2L123.5,48.2ZM128.4,54.3L132.1,48.2L124.7,48.2ZM129.6,54.3L133.3,48.2L125.9,48.2ZM130.8,54.3L134.5,48.2L127.1,48.2ZM132.0,54.3L135.7,48.2L128.3,48.2ZM133.2,54.3L136.9,48.2L129.5,48.2ZM134.4,54.3L138.1,48.2L130.7,48.2ZM135.6,54.3L139.3,48.2L131.9,48.2ZM136.8,54.3L140.5,48.2L133.1,48.2ZM138.0,54.3L141.7,48.2L134.3,48.2ZM139.2,54.3L142.9,48.2L135.5,48.2ZM140.4,54.3L144.1,48.2L136.7,48.2ZM141.6,54.3L145.3,48.2L137.9,48.2ZM142.8,54.3L146.5,48.2L139.1,48.2ZM144.0,54.3L147.7,48.2L140.3,48.2ZM145.2,54.3L148.9,48.2L141.5,48.2ZM146.4,54.3L150.1,48.2L142.7,48.2ZM147.6,54.3L151.3,48.2L143.9,48.2ZM148.8,54.3L152.5,48.2L145.1,48.2ZM150.0,54.3L153.7,48.2L146.3,48.2ZM151.2,54.3L154.9,48.2L147.5,48.2ZM152.4,54.3L156.1,48.2L148.7,48.2ZM153.6,54.3L157.3,48.2L149.9,48.2ZM154.8,54.3L158.5,48.2L151.1,48.2ZM156.0,54.3L159.7,48.2L152.3,48.2ZM157.2,54.3L160.9,48.2L153.5,48.2ZM158.4,54.3L162.1,48.2L154.7,48.2ZM159.6,54.3L163.3,48.2L155.9,48.2ZM160.8,54.3L164.5,48.2L157.1,48.2ZM162.0,54.3L165.7,48.2L158.3,48.2ZM163.2,54.3L166.9,48.2L159.5,48.2ZM164.4,54.3L168.1,48.2L160.7,48.2ZM165.6,54.3L169.3,48.2L161.9,48.2ZM166.8,54.3L170.5,48.2L163.1,48.2ZM168.0,54.3L171.7,48.2L164.3,48.2ZM169.2,54.3L172.9,48.2L165.5,48.2ZM170.4,54.3L174.1,48.2L166.7,48.2ZM171.6,54.3L175.3,48.2L167.9,48.2ZM172.8,54.3L176.5,48.2L169.1,48.2ZM174.0,54.3L177.7,48.2L170.3,48.2ZM175.2,54.3L178.9,48.2L171.5,48.2ZM176.4,54.3L180.1,48.2L172.7,48.2ZM177.6,54.3L181.3,48.2L173.9,48.2ZM178.8,54.3L182.5,48.2L175.1,48.2ZM180.0,54.3L183.7,48.2L176.3,48.2ZM181.2,54.3L184.9,48.2L177.5,48.2ZM182.4,54.3L186.1,48.2L178.7,48.2ZM183.6,54.3L187.3,48.2L179.9,48.2ZM184.8,54.3L188.5,48.2L181.1,48.2ZM186.0,54.3L189.7,48.2L182.3,48.2ZM187.2,54.3L190.9,48.2L183.5,48.2ZM188.4,54.3L192.1,48.2L184.7,48.2ZM189.6,54.3L193.3,48.2L185.9,48.2ZM190.8,54.3L194.5,48.2L187.1,48.2ZM192.0,54.3L195.7,48.2L188.3,48.2ZM193.2,54.3L196.9,48.2L189.5,48.2ZM194.4,54.3L198.1,48.2L190.7,48.2ZM195.6,54.3L199.3,48.2L191.9,48.2ZM196.8,54.3L200.5,48.2L193.1,48.2ZM198.0,54.3L201.7,48.2L194.3,48.2ZM199.2,54.3L202.9,48.2L195.5,48.2ZM200.4,54.3L204.1,48.2L196.7,48.2ZM201.6,54.3L205.3,48.2L197.9,48.2ZM202.8,54.3L206.5,48.2L199.1,48.2ZM204.0,54.3L207.7,48.2L200.3,48.2ZM205.2,54.3L208.9,48.2L201.5,48.2ZM206.4,54.3L210.1,48.2L202.7,48.2ZM207.6,54.3L211.3,48.2L203.9,48.2ZM208.8,54.3L212.5,48.2L205.1,48.2ZM210.0,54.3L213.7,48.2L206.3,48.2ZM211.2,54.3L214.9,48.2L207.5,48.2ZM212.4,54.3L216.1,48.2L208.7,48.2ZM213.6,54.3L217.3,48.2L209.9,48.2ZM214.8,54.3L218.5,48.2L211.1,48.2ZM216.0,54.3L219.7,48.2L212.3,48.2ZM217.2,54.3L220.9,48.2L213.5,48.2ZM218.4,54.3L222.1,48.2L214.7,48.2ZM219.6,54.3L223.3,48.2L215.9,48.2ZM220.8,54.3L224.5,48.2L217.1,48.2ZM222.0,54.3L225.7,48.2L218.3,48.2ZM223.2,54.3L226.9,48.2L219.5,48.2ZM224.4,54.3L228.1,48.2L220.7,48.2ZM225.6,54.3L229.3,48.2L221.9,48.2ZM226.8,54.3L230.5,48.2L223.1,48.2ZM228.0,54.3L231.7,48.2L224.3,48.2ZM229.2,54.3L232.9,48.2L225.5,48.2ZM230.4,54.3L234.1,48.2L226.7,48.2ZM231.6,54.3L235.3,48.2L227.9,48.2ZM232.8,54.3L236.5,48.2L229.1,48.2ZM234.0,54.3L237.7,48.2L230.3,48.2ZM235.2,54.3L238.9,48.2L231.5,48.2ZM236.4,54.3L240.1,48.2L232.7,48.2ZM237.6,54.3L241.3,48.2L233.9,48.2ZM238.8,54.3L242.5,48.2L235.1,48.2ZM240.0,54.3L243.7,48.2L236.3,48.2ZM241.2,54.3L244.9,48.2L237.5,48.2ZM242.4,54.3L246.1,48.2L238.7,48.2ZM243.6,54.3L247.3,48.2L239.9,48.2ZM244.8,54.3L248.5,48.2L241.1,48.2ZM246.0,54.3L249.7,48.2L242.3,48.2ZM247.2,54.3L250.9,48.2L243.5,48.2ZM248.4,54.3L252.1,48.2L244.7,48.2ZM249.6,54.3L253.3,48.2L245.9,48.2ZM250.8,54.3L254.5,48.2L247.1,48.2ZM252.0,54.3L255.7,48.2L248.3,48.2ZM253.2,54.3L256.9,48.2L249.5,48.2ZM254.4,54.3L258.1,48.2L250.7,48.2ZM255.6,54.3L259.3,48.2L251.9,48.2ZM256.8,54.3L260.5,48.2L253.1,48.2ZM258.0,54.3L261.7,48.2L254.3,48.2ZM259.2,54.3L262.9,48.2L255.5,48.2ZM260.4,54.3L264.1,48.2L256.7,48.2ZM261.6,54.3L265.3,48.2L257.9,48.2ZM262.8,54.3L266.5,48.2L259.1,48.2ZM264.0,54.3L267.7,48.2L260.3,48.2ZM265.2,54.3L268.9,48.2L261.5,48.2ZM266.4,54.3L270.1,48.2L262.7,48.2ZM267.6,54.3L271.3,48.2L263.9,48.2ZM268.8,54.3L272.5,48.2L265.1,48.2ZM270.0,54.3L273.7,48.2L266.3,48.2ZM271.2,54.3L274.9,48.2L267.5,48.2ZM272.4,54.3L276.1,48.2L268.7,48.2ZM273.6,54.3L277.3,48.2L269.9,48.2ZM274.8,54.3L278.5,48.2L271.1,48.2ZM276.0,54.3L279.7,48.2L272.3,48.2ZM277.2,54.3L280.9,48.2L273.5,48.2ZM278.4,54.3L282.1,48.2L274.7,48.2ZM279.6,54.3L283.3,48.2L275.9,48.2ZM280.8,54.3L284.5,48.2L277.1,48.2ZM282.0,54.3L285.7,48.2L278.3,48.2ZM283.2,54.3L286.9,48.2L279.5,48.2ZM284.4,54.3L288.1,48.2L280.7,48.2ZM285.6,54.3L289.3,48.2L281.9,48.2ZM286.8,54.3L290.5,48.2L283.1,48.2ZM288.0,54.3L291.7,48.2L284.3,48.2ZM289.2,54.3L292.9,48.2L285.5,48.2ZM290.4,54.3L294.1,48.2L286.7,48.2ZM291.6,54.3L295.3,48.2L287.9,48.2ZM292.8,54.3L296.5,48.2L289.1,48.2ZM294.0,54.3L297.7,48.2L290.3,48.2ZM295.2,54.3L298.9,48.2L291.5,48.2ZM296.4,54.3L300.1,48.2L292.7,48.2ZM297.6,54.3L301.3,48.2L293.9,48.2ZM298.8,54.3L302.5,48.2L295.1,48.2ZM300.0,54.3L303.7,48.2L296.3,48.2ZM301.2,54.3L304.9,48.2L297.5,48.2ZM302.4,54.3L306.1,48.2L298.7,48.2ZM303.6,54.3L307.3,48.2L299.9,48.2ZM304.8,54.3L308.5,48.2L301.1,48.2ZM306.0,54.3L309.7,48.2L302.3,48.2ZM307.2,54.3L310.9,48.2L303.5,48.2ZM308.4,54.3L312.1,48.2L304.7,48.2ZM309.6,54.3L313.3,48.2L305.9,48.2ZM310.8,54.3L314.5,48.2L307.1,48.2ZM312.0,54.3L315.7,48.2L308.3,48.2ZM313.2,54.3L316.9,48.2L309.5,48.2ZM314.4,54.3L318.1,48.2L310.7,48.2ZM315.6,54.3L319.3,48.2L311.9,48.2ZM316.8,54.3L320.5,48.2L313.1,48.2ZM318.0,54.3L321.7,48.2L314.3,48.2ZM319.2,54.3L322.9,48.2L315.5,48.2ZM320.4,54.3L324.1,48.2L316.7,48.2ZM321.6,54.3L325.3,48.2L317.9,48.2ZM322.8,54.3L326.5,48.2L319.1,48.2ZM324.0,54.3L327.7,48.2L320.3,48.2ZM325.2,54.3L328.9,48.2L321.5,48.2ZM326.4,54.3L330.1,48.2L322.7,48.2ZM327.6,54.3L331.3,48.2L323.9,48.2ZM328.8,54.3L332.5,48.2L325.1,48.2ZM330.0,54.3L333.7,48.2L326.3,48.2ZM331.2,54.3L334.9,48.2L327.5,48.2ZM332.4,54.3L336.1,48.2L328.7,48.2ZM333.6,54.3L337.3,48.2L329.9,48.2ZM334.8,54.3L338.5,48.2L331.1,48.2ZM336.0,54.3L339.7,48.2L332.3,48.2ZM337.2,54.3L340.9,48.2L333.5,48.2ZM338.4,54.3L342.1,48.2L334.7,48.2ZM339.6,54.3L343.3,48.2L335.9,48.2ZM340.8,54.3L344.5,48.2L337.1,48.2ZM342.0,54.3L345.7,48.2L338.3,48.2ZM343.2,54.3L346.9,48.2L339.5,48.2ZM344.4,54.3L348.1,48.2L340.7,48.2ZM345.6,54.3L349.3,48.2L341.9,48.2ZM346.8,54.3L350.5,48.2L343.1,48.2ZM348.0,54.3L351.7,48.2L344.3,48.2ZM349.2,54.3L352.9,48.2L345.5,48.2ZM350.4,54.3L354.1,48.2L346.7,48.2ZM351.6,54.3L355.3,48.2L347.9,48.2ZM352.8,54.3L356.5,48.2L349.1,48.2ZM354.0,54.3L357.7,48.2L350.3,48.2ZM355.2,54.3L358.9,48.2L351.5,48.2ZM356.4,54.3L360.1,48.2L352.7,48.2ZM357.6,54.3L361.3,48.2L353.9,48.2ZM358.8,54.3L362.5,48.2L355.1,48.2ZM360.0,54.3L363.7,48.2L356.3,48.2ZM361.2,54.3L364.9,48.2L357.5,48.2ZM362.4,54.3L366.1,48.2L358.7,48.2ZM363.6,54.3L367.3,48.2L359.9,48.2ZM364.8,54.3L368.5,48.2L361.1,48.2ZM366.0,54.3L369.7,48.2L362.3,48.2ZM367.2,54.3L370.9,48.2L363.5,48.2ZM368.4,54.3L372.1,48.2L364.7,48.2ZM369.6,54.3L373.3,48.2L365.9,48.2ZM370.8,54.3L374.5,48.2L367.1,48.2ZM372.0,54.3L375.7,48.2L368.3,48.2ZM373.2,54.3L376.9,48.2L369.5,48.2ZM374.4,54.3L378.1,48.2L370.7,48.2ZM375.6,54.3L379.3,48.2L371.9,48.2ZM376.8,54.3L380.5,48.2L373.1,48.2ZM378.0,54.3L381.7,48.2L374.3,48.2ZM379.2,54.3L382.9,48.2L375.5,48.2ZM380.4,54.3L384.1,48.2L376.7,48.2ZM381.6,54.3L385.3,48.2L377.9,48.2ZM382.8,54.3L386.5,48.2L379.1,48.2ZM384.0,54.3L387.7,48.2L380.3,48.2ZM385.2,54.3L388.9,48.2L381.5,48.2ZM386.4,54.3L390.1,48.2L382.7,48.2ZM387.0,54.3L390.7,48.2L383.3,48.2ZM387.4,54.4L391.1,48.3L383.7,48.3ZM387.8,54.5L391.5,48.4L384.1,48.4ZM388.2,54.6L391.9,48.5L384.5,48.5ZM388.6,54.7L392.3,48.6L384.9,48.6ZM389.0,54.8L392.7,48.7L385.3,48.7ZM389.4,54.9L393.1,48.8L385.7,48.8ZM389.8,55.0L393.5,48.9L386.1,48.9ZM390.0,55.0L393.7,48.9L386.3,48.9ZM390.2,55.1L393.9,49.0L386.5,49.0ZM390.6,55.4L394.3,49.3L386.9,49.3ZM391.0,55.7L394.7,49.6L387.3,49.6ZM391.4,56.0L395.1,49.9L387.7,49.9ZM391.8,56.3L395.5,50.2L388.1,50.2ZM392.2,56.6L395.9,50.5L388.5,50.5ZM392.5,56.8L396.2,50.7L388.8,50.7ZM392.6,57.0L396.3,50.9L388.9,50.9ZM393.0,57.7L396.7,51.6L389.3,51.6ZM393.4,58.5L397.1,52.4L389.7,52.4ZM393.8,59.2L397.5,53.1L390.1,53.1ZM394.2,59.9L397.9,53.8L390.5,53.8ZM394.5,60.5L398.2,54.4L390.8,54.4ZM394.6,60.8L398.3,54.7L390.9,54.7ZM395.0,62.0L398.7,55.9L391.3,55.9ZM395.4,63.1L399.1,57.0L391.7,57.0ZM395.8,64.3L399.5,58.2L392.1,58.2ZM396.2,65.5L399.9,59.4L392.5,59.4ZM396.2,65.5L399.9,59.4L392.5,59.4ZM396.6,67.3L400.3,61.2L392.9,61.2ZM397.0,69.2L400.7,63.1L393.3,63.1ZM397.4,71.0L401.1,64.9L393.7,64.9ZM397.5,71.5L401.2,65.4L393.8,65.4ZM397.8,73.7L401.5,67.6L394.1,67.6ZM398.2,76.7L401.9,70.6L394.5,70.6ZM398.6,79.7L402.3,73.6L394.9,73.6ZM398.7,80.5L402.4,74.4L395.0,74.4ZM399.0,84.0L402.7,77.9L395.3,77.9ZM399.4,88.7L403.1,82.6L395.7,82.6ZM399.7,92.2L403.4,86.1L396.0,86.1ZM399.8,94.8L403.5,88.7L396.1,88.7ZM400.0,100.0L403.7,93.9L396.3,93.9ZM398.7,80.5L402.4,74.4L395.0,74.4ZM399.7,92.2L403.4,86.1L396.0,86.1ZM400.0,100.0L403.7,93.9L396.3,93.9ZM400.3,106.8L404.0,100.7L396.6,100.7ZM400.5,113.5L404.2,107.4L396.8,107.4ZM400.8,120.3L404.5,114.2L397.1,114.2ZM400.9,138.1L404.6,132.0L397.2,132.0ZM401.1,165.2L404.8,159.1L397.4,159.1ZM401.5,192.5L405.2,186.4L397.8,186.4ZM402.0,205.3L405.7,199.2L398.3,199.2ZM402.3,216.0L406.0,209.9L398.6,209.9ZM402.6,224.7L406.3,218.6L398.9,218.6ZM403.0,233.5L406.7,227.4L399.3,227.4ZM403.3,241.5L407.0,235.4L399.6,235.4ZM403.7,249.4L407.4,243.3L400.0,243.3ZM404.0,256.8L407.7,250.7L400.3,250.7ZM404.3,263.5L408.0,257.4L400.6,257.4ZM404.6,269.4L408.3,263.3L400.9,263.3ZM405.0,276.2L408.7,270.1L401.3,270.1ZM405.0,276.2L408.7,270.1L401.3,270.1ZM405.4,281.9L409.1,275.8L401.8,275.8ZM405.5,282.5L409.2,276.4L401.8,276.4ZM405.9,287.3L409.6,281.2L402.2,281.2ZM406.0,288.5L409.7,282.4L402.3,282.4ZM406.3,292.0L410.0,285.9L402.6,285.9ZM406.6,294.5L410.3,288.4L402.9,288.4ZM406.8,296.5L410.5,290.4L403.1,290.4ZM407.2,300.5L410.9,294.4L403.5,294.4ZM407.2,300.9L410.9,294.8L403.5,294.8ZM407.7,304.8L411.4,298.7L404.0,298.7ZM407.9,306.5L411.6,300.4L404.2,300.4ZM408.1,308.6L411.8,302.5L404.4,302.5ZM408.6,312.5L412.3,306.4L404.9,306.4ZM408.6,312.5L412.3,306.4L404.9,306.4ZM409.0,315.9L412.7,309.8L405.3,309.8ZM409.4,318.5L413.1,312.4L405.7,312.4ZM409.5,319.1L413.2,313.0L405.8,313.0ZM409.9,321.9L413.6,315.8L406.2,315.8ZM410.2,323.5L413.9,317.4L406.5,317.4ZM410.4,324.6L414.1,318.5L406.7,318.5ZM410.8,327.0L414.5,320.9L407.1,320.9ZM411.3,329.5L415.0,323.4L407.6,323.4ZM411.3,329.5L415.0,323.4L407.6,323.4ZM411.7,331.5L415.4,325.4L408.0,325.4ZM412.2,333.6L415.9,327.5L408.5,327.5ZM412.4,334.5L416.1,328.4L408.7,328.4ZM412.6,335.5L416.3,329.4L408.9,329.4ZM413.1,337.4L416.8,331.3L409.4,331.3ZM413.5,339.0L417.2,332.9L409.8,332.9ZM413.5,339.2L417.2,333.1L409.8,333.1ZM414.0,340.7L417.7,334.6L410.3,334.6ZM414.4,342.3L418.1,336.2L410.7,336.2ZM414.5,342.5L418.2,336.4L410.8,336.4ZM414.9,343.9L418.6,337.8L411.2,337.8ZM415.3,345.5L419.0,339.4L411.6,339.4ZM415.5,346.0L419.2,339.9L411.8,339.9ZM415.8,347.0L419.5,340.9L412.1,340.9ZM416.2,348.5L419.9,342.4L412.5,342.4ZM416.4,349.0L420.1,342.9L412.7,342.9ZM416.7,350.0L420.4,343.9L413.0,343.9ZM417.1,351.5L420.8,345.4L413.4,345.4ZM417.3,352.0L421.0,345.9L413.6,345.9ZM417.6,352.8L421.3,346.7L413.9,346.7ZM418.0,354.1L421.7,348.0L414.3,348.0ZM418.2,354.5L421.9,348.4L414.5,348.4ZM418.5,355.1L422.2,349.0L414.8,349.0ZM418.9,355.9L422.6,349.8L415.2,349.8ZM419.4,356.8L423.1,350.7L415.7,350.7ZM419.5,357.0L423.2,350.9L415.8,350.9ZM419.8,357.3L423.5,351.2L416.1,351.2ZM420.3,357.8L424.0,351.7L416.6,351.7ZM420.7,358.2L424.4,352.1L417.0,352.1ZM421.0,358.5L424.7,352.4L417.3,352.4ZM421.2,358.6L424.9,352.5L417.5,352.5ZM421.6,358.7L425.3,352.6L417.9,352.6ZM422.1,358.9L425.8,352.8L418.4,352.8ZM422.5,359.0L426.2,352.9L418.8,352.9ZM423.0,359.2L426.7,353.1L419.3,353.1ZM423.4,359.3L427.1,353.2L419.7,353.2ZM423.9,359.5L427.6,353.4L420.2,353.4ZM424.0,359.5L427.7,353.4L420.3,353.4ZM424.3,359.5L428.0,353.4L420.6,353.4ZM424.8,359.5L428.5,353.4L421.1,353.4ZM425.2,359.5L428.9,353.4L421.5,353.4ZM425.7,359.5L429.4,353.4L422.0,353.4ZM426.1,359.5L429.8,353.4L422.4,353.4ZM426.6,359.5L430.3,353.4L422.9,353.4ZM427.0,359.5L430.7,353.4L423.3,353.4ZM427.5,359.5L431.2,353.4L423.8,353.4ZM427.9,359.5L431.6,353.4L424.2,353.4ZM428.4,359.5L432.1,353.4L424.7,353.4ZM428.8,359.5L432.5,353.4L425.1,353.4ZM429.3,359.5L433.0,353.4L425.6,353.4ZM429.7,359.5L433.4,353.4L426.0,353.4ZM430.2,359.5L433.9,353.4L426.5,353.4ZM430.6,359.6L434.3,353.5L426.9,353.5ZM431.1,359.6L434.8,353.5L427.4,353.5ZM431.5,359.6L435.2,353.5L427.8,353.5ZM432.0,359.6L435.7,353.5L428.3,353.5ZM432.4,359.6L436.1,353.5L428.7,353.5ZM432.9,359.6L436.6,353.5L429.2,353.5ZM433.3,359.6L437.0,353.5L429.6,353.5ZM433.8,359.6L437.5,353.5L430.1,353.5ZM434.2,359.6L437.9,353.5L430.5,353.5ZM434.7,359.6L438.4,353.5L431.0,353.5ZM435.1,359.6L438.8,353.5L431.4,353.5ZM435.6,359.6L439.3,353.5L431.9,353.5ZM436.0,359.6L439.7,353.5L432.3,353.5ZM436.5,359.6L440.2,353.5L432.8,353.5ZM436.9,359.6L440.6,353.5L433.2,353.5ZM437.4,359.6L441.1,353.5L433.7,353.5ZM437.8,359.6L441.5,353.5L434.1,353.5ZM438.3,359.6L442.0,353.5L434.6,353.5ZM438.7,359.6L442.4,353.5L435.0,353.5ZM439.2,359.6L442.9,353.5L435.5,353.5ZM439.6,359.6L443.3,353.5L435.9,353.5ZM440.1,359.6L443.8,353.5L436.4,353.5ZM440.5,359.6L444.2,353.5L436.8,353.5ZM441.0,359.6L444.7,353.5L437.3,353.5ZM441.4,359.6L445.1,353.5L437.7,353.5ZM441.9,359.6L445.6,353.5L438.2,353.5ZM442.3,359.6L446.0,353.5L438.6,353.5ZM442.8,359.6L446.5,353.5L439.1,353.5ZM443.2,359.7L446.9,353.6L439.5,353.6ZM443.7,359.7L447.4,353.6L440.0,353.6ZM444.1,359.7L447.8,353.6L440.4,353.6ZM444.6,359.7L448.3,353.6L440.9,353.6ZM445.0,359.7L448.7,353.6L441.3,353.6ZM445.5,359.7L449.2,353.6L441.8,353.6ZM445.9,359.7L449.6,353.6L442.2,353.6ZM446.4,359.7L450.1,353.6L442.7,353.6ZM446.8,359.7L450.5,353.6L443.1,353.6ZM447.3,359.7L451.0,353.6L443.6,353.6ZM447.7,359.7L451.4,353.6L444.0,353.6ZM448.2,359.7L451.9,353.6L444.5,353.6ZM448.6,359.7L452.3,353.6L444.9,353.6ZM449.1,359.7L452.8,353.6L445.4,353.6ZM449.5,359.7L453.2,353.6L445.8,353.6ZM450.0,359.7L453.7,353.6L446.3,353.6ZM450.4,359.7L454.1,353.6L446.7,353.6ZM450.9,359.7L454.6,353.6L447.2,353.6ZM451.3,359.7L455.0,353.6L447.6,353.6ZM451.8,359.7L455.5,353.6L448.1,353.6ZM452.2,359.7L455.9,353.6L448.5,353.6ZM452.7,359.7L456.4,353.6L449.0,353.6ZM453.1,359.7L456.8,353.6L449.4,353.6ZM453.6,359.7L457.3,353.6L449.9,353.6ZM454.0,359.7L457.7,353.6L450.3,353.6ZM454.5,359.7L458.2,353.6L450.8,353.6ZM454.9,359.7L458.6,353.6L451.2,353.6ZM455.4,359.7L459.1,353.6L451.7,353.6ZM455.8,359.7L459.5,353.6L452.1,353.6ZM456.3,359.8L460.0,353.7L452.6,353.7ZM456.7,359.8L460.4,353.7L453.0,353.7ZM457.2,359.8L460.9,353.7L453.5,353.7ZM457.6,359.8L461.3,353.7L453.9,353.7ZM458.1,359.8L461.8,353.7L454.4,353.7ZM458.5,359.8L462.2,353.7L454.8,353.7ZM459.0,359.8L462.7,353.7L455.3,353.7ZM459.4,359.8L463.1,353.7L455.7,353.7ZM459.9,359.8L463.6,353.7L456.2,353.7ZM460.3,359.8L464.0,353.7L456.6,353.7ZM460.8,359.8L464.5,353.7L457.1,353.7ZM461.2,359.8L464.9,353.7L457.5,353.7ZM461.7,359.8L465.4,353.7L458.0,353.7ZM462.1,359.8L465.8,353.7L458.4,353.7ZM462.6,359.8L466.3,353.7L458.9,353.7ZM463.0,359.8L466.7,353.7L459.3,353.7ZM463.5,359.8L467.2,353.7L459.8,353.7ZM463.9,359.8L467.6,353.7L460.2,353.7ZM464.4,359.8L468.1,353.7L460.7,353.7ZM464.8,359.8L468.5,353.7L461.1,353.7ZM465.3,359.8L469.0,353.7L461.6,353.7ZM465.7,359.8L469.4,353.7L462.0,353.7ZM466.2,359.8L469.9,353.7L462.5,353.7ZM466.6,359.8L470.3,353.7L462.9,353.7ZM467.1,359.8L470.8,353.7L463.4,353.7ZM467.5,359.8L471.2,353.7L463.8,353.7ZM468.0,359.8L471.7,353.7L464.3,353.7ZM468.4,359.8L472.1,353.7L464.7,353.7ZM468.9,359.9L472.6,353.8L465.2,353.8ZM469.3,359.9L473.0,353.8L465.6,353.8ZM469.8,359.9L473.5,353.8L466.1,353.8ZM470.2,359.9L473.9,353.8L466.5,353.8ZM470.7,359.9L474.4,353.8L467.0,353.8ZM471.1,359.9L474.8,353.8L467.4,353.8ZM471.6,359.9L475.3,353.8L467.9,353.8ZM472.0,359.9L475.7,353.8L468.3,353.8ZM472.5,359.9L476.2,353.8L468.8,353.8ZM472.9,359.9L476.6,353.8L469.2,353.8ZM473.4,359.9L477.1,353.8L469.7,353.8ZM473.8,359.9L477.5,353.8L470.1,353.8ZM474.3,359.9L478.0,353.8L470.6,353.8ZM474.7,359.9L478.4,353.8L471.0,353.8ZM475.2,359.9L478.9,353.8L471.5,353.8ZM475.6,359.9L479.3,353.8L471.9,353.8ZM476.1,359.9L479.8,353.8L472.4,353.8ZM476.5,359.9L480.2,353.8L472.8,353.8ZM477.0,359.9L480.7,353.8L473.3,353.8ZM477.4,359.9L481.1,353.8L473.7,353.8ZM477.9,359.9L481.6,353.8L474.2,353.8ZM478.3,359.9L482.0,353.8L474.6,353.8ZM478.8,359.9L482.5,353.8L475.1,353.8ZM479.2,359.9L482.9,353.8L475.5,353.8ZM479.7,359.9L483.4,353.8L476.0,353.8ZM480.1,359.9L483.8,353.8L476.4,353.8ZM480.6,359.9L484.3,353.8L476.9,353.8ZM481.0,359.9L484.7,353.8L477.3,353.8ZM481.5,359.9L485.2,353.8L477.8,353.8ZM481.9,360.0L485.6,353.9L478.2,353.9ZM482.4,360.0L486.1,353.9L478.7,353.9ZM482.8,360.0L486.5,353.9L479.1,353.9ZM483.3,360.0L487.0,353.9L479.6,353.9ZM483.7,360.0L487.4,353.9L480.0,353.9ZM484.2,360.0L487.9,353.9L480.5,353.9ZM484.6,360.0L488.3,353.9L480.9,353.9ZM485.1,360.0L488.8,353.9L481.4,353.9ZM485.5,360.0L489.2,353.9L481.8,353.9ZM486.0,360.0L489.7,353.9L482.3,353.9ZM486.4,360.0L490.1,353.9L482.7,353.9ZM486.9,360.0L490.6,353.9L483.2,353.9ZM487.3,360.0L491.0,353.9L483.6,353.9ZM487.8,360.0L491.5,353.9L484.1,353.9ZM488.0,360.0L491.7,353.9L484.3,353.9Z" fill="#a00000"/>
<path d="M74.4,51.4 L366.0,51.4 L370.9,53.7 L374.4,83.3 L377.8,209.0 L381.3,263.3 L384.7,295.7 L388.2,318.4 L391.6,332.2 L395.1,342.2 L398.5,348.3 L402.0,351.8 L405.5,353.6 L409.0,354.6 L420.0,355.6 L488.0,356.5" fill="none" stroke="#0000ff" stroke-width="1.5" stroke-linejoin="round" />
<line x1="74" y1="51.3" x2="368" y2="51.3" stroke="#0000ff" stroke-width="2.3"/>
<path d="M367.4,53.7a3.5,3.5 0 1,0 7.0,0a3.5,3.5 0 1,0 -7.0,0ZM370.9,83.3a3.5,3.5 0 1,0 7.0,0a3.5,3.5 0 1,0 -7.0,0ZM374.3,209.0a3.5,3.5 0 1,0 7.0,0a3.5,3.5 0 1,0 -7.0,0ZM377.8,263.3a3.5,3.5 0 1,0 7.0,0a3.5,3.5 0 1,0 -7.0,0ZM381.2,295.7a3.5,3.5 0 1,0 7.0,0a3.5,3.5 0 1,0 -7.0,0ZM384.7,318.4a3.5,3.5 0 1,0 7.0,0a3.5,3.5 0 1,0 -7.0,0ZM388.1,332.2a3.5,3.5 0 1,0 7.0,0a3.5,3.5 0 1,0 -7.0,0ZM391.6,342.2a3.5,3.5 0 1,0 7.0,0a3.5,3.5 0 1,0 -7.0,0ZM395.0,348.3a3.5,3.5 0 1,0 7.0,0a3.5,3.5 0 1,0 -7.0,0ZM398.5,351.8a3.5,3.5 0 1,0 7.0,0a3.5,3.5 0 1,0 -7.0,0ZM402.0,353.6a3.5,3.5 0 1,0 7.0,0a3.5,3.5 0 1,0 -7.0,0Z" fill="#0000ff"/>
<path d="M74.4,49.6 L238.0,49.6 L242.0,50.8 L245.5,53.5 L248.3,57.5 L250.3,62.0 L251.3,67.0 L251.8,74.1 L252.8,83.4 L253.7,95.9 L254.7,112.0 L256.0,130.4 L257.0,151.2 L258.3,171.2 L259.3,188.6 L260.2,206.0 L261.4,219.6 L262.3,230.0 L263.7,238.4 L264.7,245.2 L265.6,252.0 L267.2,257.8 L268.2,262.7 L270.4,270.0 L274.0,280.0 L277.7,290.0 L281.3,300.0 L285.0,310.0 L288.0,318.0 L291.2,325.0 L294.5,331.0 L298.5,336.0 L302.7,340.0 L308.0,344.0 L314.2,347.0 L321.0,349.8 L328.8,352.0 L340.0,354.0 L355.0,355.3 L370.0,356.0 L488.0,356.5" fill="none" stroke="#008000" stroke-width="1.2" stroke-linejoin="round" />
<path d="M71.9,47.1h5.0v5.0h-5.0ZM73.1,47.1h5.0v5.0h-5.0ZM74.3,47.1h5.0v5.0h-5.0ZM75.5,47.1h5.0v5.0h-5.0ZM76.7,47.1h5.0v5.0h-5.0ZM77.9,47.1h5.0v5.0h-5.0ZM79.1,47.1h5.0v5.0h-5.0ZM80.3,47.1h5.0v5.0h-5.0ZM81.5,47.1h5.0v5.0h-5.0ZM82.7,47.1h5.0v5.0h-5.0ZM83.9,47.1h5.0v5.0h-5.0ZM85.1,47.1h5.0v5.0h-5.0ZM86.3,47.1h5.0v5.0h-5.0ZM87.5,47.1h5.0v5.0h-5.0ZM88.7,47.1h5.0v5.0h-5.0ZM89.9,47.1h5.0v5.0h-5.0ZM91.1,47.1h5.0v5.0h-5.0ZM92.3,47.1h5.0v5.0h-5.0ZM93.5,47.1h5.0v5.0h-5.0ZM94.7,47.1h5.0v5.0h-5.0ZM95.9,47.1h5.0v5.0h-5.0ZM97.1,47.1h5.0v5.0h-5.0ZM98.3,47.1h5.0v5.0h-5.0ZM99.5,47.1h5.0v5.0h-5.0ZM100.7,47.1h5.0v5.0h-5.0ZM101.9,47.1h5.0v5.0h-5.0ZM103.1,47.1h5.0v5.0h-5.0ZM104.3,47.1h5.0v5.0h-5.0ZM105.5,47.1h5.0v5.0h-5.0ZM106.7,47.1h5.0v5.0h-5.0ZM107.9,47.1h5.0v5.0h-5.0ZM109.1,47.1h5.0v5.0h-5.0ZM110.3,47.1h5.0v5.0h-5.0ZM111.5,47.1h5.0v5.0h-5.0ZM112.7,47.1h5.0v5.0h-5.0ZM113.9,47.1h5.0v5.0h-5.0ZM115.1,47.1h5.0v5.0h-5.0ZM116.3,47.1h5.0v5.0h-5.0ZM117.5,47.1h5.0v5.0h-5.0ZM118.7,47.1h5.0v5.0h-5.0ZM119.9,47.1h5.0v5.0h-5.0ZM121.1,47.1h5.0v5.0h-5.0ZM122.3,47.1h5.0v5.0h-5.0ZM123.5,47.1h5.0v5.0h-5.0ZM124.7,47.1h5.0v5.0h-5.0ZM125.9,47.1h5.0v5.0h-5.0ZM127.1,47.1h5.0v5.0h-5.0ZM128.3,47.1h5.0v5.0h-5.0ZM129.5,47.1h5.0v5.0h-5.0ZM130.7,47.1h5.0v5.0h-5.0ZM131.9,47.1h5.0v5.0h-5.0ZM133.1,47.1h5.0v5.0h-5.0ZM134.3,47.1h5.0v5.0h-5.0ZM135.5,47.1h5.0v5.0h-5.0ZM136.7,47.1h5.0v5.0h-5.0ZM137.9,47.1h5.0v5.0h-5.0ZM139.1,47.1h5.0v5.0h-5.0ZM140.3,47.1h5.0v5.0h-5.0ZM141.5,47.1h5.0v5.0h-5.0ZM142.7,47.1h5.0v5.0h-5.0ZM143.9,47.1h5.0v5.0h-5.0ZM145.1,47.1h5.0v5.0h-5.0ZM146.3,47.1h5.0v5.0h-5.0ZM147.5,47.1h5.0v5.0h-5.0ZM148.7,47.1h5.0v5.0h-5.0ZM149.9,47.1h5.0v5.0h-5.0ZM151.1,47.1h5.0v5.0h-5.0ZM152.3,47.1h5.0v5.0h-5.0ZM153.5,47.1h5.0v5.0h-5.0ZM154.7,47.1h5.0v5.0h-5.0ZM155.9,47.1h5.0v5.0h-5.0ZM157.1,47.1h5.0v5.0h-5.0ZM158.3,47.1h5.0v5.0h-5.0ZM159.5,47.1h5.0v5.0h-5.0ZM160.7,47.1h5.0v5.0h-5.0ZM161.9,47.1h5.0v5.0h-5.0ZM163.1,47.1h5.0v5.0h-5.0ZM164.3,47.1h5.0v5.0h-5.0ZM165.5,47.1h5.0v5.0h-5.0ZM166.7,47.1h5.0v5.0h-5.0ZM167.9,47.1h5.0v5.0h-5.0ZM169.1,47.1h5.0v5.0h-5.0ZM170.3,47.1h5.0v5.0h-5.0ZM171.5,47.1h5.0v5.0h-5.0ZM172.7,47.1h5.0v5.0h-5.0ZM173.9,47.1h5.0v5.0h-5.0ZM175.1,47.1h5.0v5.0h-5.0ZM176.3,47.1h5.0v5.0h-5.0ZM177.5,47.1h5.0v5.0h-5.0ZM178.7,47.1h5.0v5.0h-5.0ZM179.9,47.1h5.0v5.0h-5.0ZM181.1,47.1h5.0v5.0h-5.0ZM182.3,47.1h5.0v5.0h-5.0ZM183.5,47.1h5.0v5.0h-5.0ZM184.7,47.1h5.0v5.0h-5.0ZM185.9,47.1h5.0v5.0h-5.0ZM187.1,47.1h5.0v5.0h-5.0ZM188.3,47.1h5.0v5.0h-5.0ZM189.5,47.1h5.0v5.0h-5.0ZM190.7,47.1h5.0v5.0h-5.0ZM191.9,47.1h5.0v5.0h-5.0ZM193.1,47.1h5.0v5.0h-5.0ZM194.3,47.1h5.0v5.0h-5.0ZM195.5,47.1h5.0v5.0h-5.0ZM196.7,47.1h5.0v5.0h-5.0ZM197.9,47.1h5.0v5.0h-5.0ZM199.1,47.1h5.0v5.0h-5.0ZM200.3,47.1h5.0v5.0h-5.0ZM201.5,47.1h5.0v5.0h-5.0ZM202.7,47.1h5.0v5.0h-5.0ZM203.9,47.1h5.0v5.0h-5.0ZM205.1,47.1h5.0v5.0h-5.0ZM206.3,47.1h5.0v5.0h-5.0ZM207.5,47.1h5.0v5.0h-5.0ZM208.7,47.1h5.0v5.0h-5.0ZM209.9,47.1h5.0v5.0h-5.0ZM211.1,47.1h5.0v5.0h-5.0ZM212.3,47.1h5.0v5.0h-5.0ZM213.5,47.1h5.0v5.0h-5.0ZM214.7,47.1h5.0v5.0h-5.0ZM215.9,47.1h5.0v5.0h-5.0ZM217.1,47.1h5.0v5.0h-5.0ZM218.3,47.1h5.0v5.0h-5.0ZM219.5,47.1h5.0v5.0h-5.0ZM220.7,47.1h5.0v5.0h-5.0ZM221.9,47.1h5.0v5.0h-5.0ZM223.1,47.1h5.0v5.0h-5.0ZM224.3,47.1h5.0v5.0h-5.0ZM225.5,47.1h5.0v5.0h-5.0ZM226.7,47.1h5.0v5.0h-5.0ZM227.9,47.1h5.0v5.0h-5.0ZM229.1,47.1h5.0v5.0h-5.0ZM230.3,47.1h5.0v5.0h-5.0ZM231.5,47.1h5.0v5.0h-5.0ZM232.7,47.1h5.0v5.0h-5.0ZM233.9,47.1h5.0v5.0h-5.0ZM235.1,47.1h5.0v5.0h-5.0ZM235.5,47.1h5.0v5.0h-5.0ZM235.9,47.2h5.0v5.0h-5.0ZM236.3,47.3h5.0v5.0h-5.0ZM236.7,47.5h5.0v5.0h-5.0ZM237.1,47.6h5.0v5.0h-5.0ZM237.5,47.7h5.0v5.0h-5.0ZM237.9,47.8h5.0v5.0h-5.0ZM238.3,47.9h5.0v5.0h-5.0ZM238.7,48.1h5.0v5.0h-5.0ZM239.1,48.2h5.0v5.0h-5.0ZM239.5,48.3h5.0v5.0h-5.0ZM239.5,48.3h5.0v5.0h-5.0ZM239.9,48.6h5.0v5.0h-5.0ZM240.3,48.9h5.0v5.0h-5.0ZM240.7,49.2h5.0v5.0h-5.0ZM241.1,49.5h5.0v5.0h-5.0ZM241.5,49.8h5.0v5.0h-5.0ZM241.9,50.2h5.0v5.0h-5.0ZM242.3,50.5h5.0v5.0h-5.0ZM242.7,50.8h5.0v5.0h-5.0ZM243.0,51.0h5.0v5.0h-5.0ZM243.1,51.1h5.0v5.0h-5.0ZM243.5,51.7h5.0v5.0h-5.0ZM243.9,52.3h5.0v5.0h-5.0ZM244.3,52.9h5.0v5.0h-5.0ZM244.7,53.4h5.0v5.0h-5.0ZM245.1,54.0h5.0v5.0h-5.0ZM245.5,54.6h5.0v5.0h-5.0ZM245.8,55.0h5.0v5.0h-5.0ZM245.9,55.2h5.0v5.0h-5.0ZM246.3,56.1h5.0v5.0h-5.0ZM246.7,57.0h5.0v5.0h-5.0ZM247.1,57.9h5.0v5.0h-5.0ZM247.5,58.8h5.0v5.0h-5.0ZM247.8,59.5h5.0v5.0h-5.0ZM247.9,60.0h5.0v5.0h-5.0ZM248.3,62.0h5.0v5.0h-5.0ZM248.7,64.0h5.0v5.0h-5.0ZM248.8,64.5h5.0v5.0h-5.0ZM249.3,71.6h5.0v5.0h-5.0ZM250.3,80.9h5.0v5.0h-5.0ZM251.2,93.4h5.0v5.0h-5.0ZM252.2,109.5h5.0v5.0h-5.0ZM253.5,127.9h5.0v5.0h-5.0ZM254.5,148.7h5.0v5.0h-5.0ZM255.8,168.7h5.0v5.0h-5.0ZM256.8,186.1h5.0v5.0h-5.0ZM257.7,203.5h5.0v5.0h-5.0ZM258.9,217.1h5.0v5.0h-5.0ZM259.8,227.5h5.0v5.0h-5.0ZM261.2,235.9h5.0v5.0h-5.0ZM262.2,242.7h5.0v5.0h-5.0ZM263.1,249.5h5.0v5.0h-5.0ZM264.7,255.3h5.0v5.0h-5.0ZM265.7,260.2h5.0v5.0h-5.0ZM265.7,260.2h5.0v5.0h-5.0ZM266.8,263.9h5.0v5.0h-5.0ZM267.9,267.5h5.0v5.0h-5.0ZM267.9,267.5h5.0v5.0h-5.0ZM269.0,270.6h5.0v5.0h-5.0ZM270.1,273.6h5.0v5.0h-5.0ZM271.2,276.7h5.0v5.0h-5.0ZM271.5,277.5h5.0v5.0h-5.0ZM272.3,279.7h5.0v5.0h-5.0ZM273.4,282.6h5.0v5.0h-5.0ZM274.5,285.6h5.0v5.0h-5.0ZM275.2,287.5h5.0v5.0h-5.0ZM275.6,288.6h5.0v5.0h-5.0ZM276.7,291.7h5.0v5.0h-5.0ZM277.8,294.7h5.0v5.0h-5.0ZM278.8,297.5h5.0v5.0h-5.0ZM278.9,297.8h5.0v5.0h-5.0ZM280.0,300.7h5.0v5.0h-5.0ZM281.1,303.7h5.0v5.0h-5.0ZM282.2,306.7h5.0v5.0h-5.0ZM282.5,307.5h5.0v5.0h-5.0ZM283.3,309.6h5.0v5.0h-5.0ZM284.4,312.6h5.0v5.0h-5.0ZM285.5,315.5h5.0v5.0h-5.0ZM285.5,315.5h5.0v5.0h-5.0ZM286.6,317.9h5.0v5.0h-5.0ZM287.7,320.3h5.0v5.0h-5.0ZM288.7,322.5h5.0v5.0h-5.0ZM288.8,322.7h5.0v5.0h-5.0ZM289.9,324.7h5.0v5.0h-5.0ZM291.0,326.7h5.0v5.0h-5.0ZM292.0,328.5h5.0v5.0h-5.0ZM292.1,328.6h5.0v5.0h-5.0ZM293.2,330.0h5.0v5.0h-5.0ZM294.3,331.4h5.0v5.0h-5.0ZM295.4,332.8h5.0v5.0h-5.0ZM296.0,333.5h5.0v5.0h-5.0ZM296.5,334.0h5.0v5.0h-5.0ZM297.6,335.0h5.0v5.0h-5.0ZM298.7,336.1h5.0v5.0h-5.0ZM299.8,337.1h5.0v5.0h-5.0ZM300.2,337.5h5.0v5.0h-5.0ZM300.9,338.0h5.0v5.0h-5.0ZM302.0,338.9h5.0v5.0h-5.0ZM303.1,339.7h5.0v5.0h-5.0ZM304.2,340.5h5.0v5.0h-5.0ZM305.3,341.3h5.0v5.0h-5.0ZM305.5,341.5h5.0v5.0h-5.0ZM306.4,341.9h5.0v5.0h-5.0ZM307.5,342.5h5.0v5.0h-5.0ZM308.6,343.0h5.0v5.0h-5.0ZM309.7,343.5h5.0v5.0h-5.0ZM310.8,344.1h5.0v5.0h-5.0ZM311.7,344.5h5.0v5.0h-5.0ZM311.9,344.6h5.0v5.0h-5.0ZM313.0,345.0h5.0v5.0h-5.0ZM314.1,345.5h5.0v5.0h-5.0ZM315.2,345.9h5.0v5.0h-5.0ZM316.3,346.4h5.0v5.0h-5.0ZM317.4,346.8h5.0v5.0h-5.0ZM318.5,347.3h5.0v5.0h-5.0ZM318.5,347.3h5.0v5.0h-5.0ZM319.6,347.6h5.0v5.0h-5.0ZM320.7,347.9h5.0v5.0h-5.0ZM321.8,348.2h5.0v5.0h-5.0ZM322.9,348.5h5.0v5.0h-5.0ZM324.0,348.9h5.0v5.0h-5.0ZM325.1,349.2h5.0v5.0h-5.0ZM326.2,349.5h5.0v5.0h-5.0ZM326.3,349.5h5.0v5.0h-5.0ZM327.3,349.7h5.0v5.0h-5.0ZM328.4,349.9h5.0v5.0h-5.0ZM329.5,350.1h5.0v5.0h-5.0ZM330.6,350.3h5.0v5.0h-5.0ZM331.7,350.5h5.0v5.0h-5.0ZM332.8,350.7h5.0v5.0h-5.0ZM333.9,350.9h5.0v5.0h-5.0ZM335.0,351.1h5.0v5.0h-5.0ZM336.1,351.3h5.0v5.0h-5.0ZM337.2,351.4h5.0v5.0h-5.0ZM337.5,351.5h5.0v5.0h-5.0ZM338.3,351.6h5.0v5.0h-5.0ZM339.4,351.7h5.0v5.0h-5.0ZM340.5,351.8h5.0v5.0h-5.0ZM341.6,351.9h5.0v5.0h-5.0ZM342.7,352.0h5.0v5.0h-5.0ZM343.8,352.0h5.0v5.0h-5.0ZM344.9,352.1h5.0v5.0h-5.0ZM346.0,352.2h5.0v5.0h-5.0ZM347.1,352.3h5.0v5.0h-5.0ZM348.2,352.4h5.0v5.0h-5.0ZM349.3,352.5h5.0v5.0h-5.0ZM350.4,352.6h5.0v5.0h-5.0ZM351.5,352.7h5.0v5.0h-5.0ZM352.5,352.8h5.0v5.0h-5.0ZM352.6,352.8h5.0v5.0h-5.0ZM353.7,352.9h5.0v5.0h-5.0ZM354.8,352.9h5.0v5.0h-5.0ZM355.9,353.0h5.0v5.0h-5.0ZM357.0,353.0h5.0v5.0h-5.0ZM358.1,353.1h5.0v5.0h-5.0ZM359.2,353.1h5.0v5.0h-5.0ZM360.3,353.2h5.0v5.0h-5.0ZM361.4,353.2h5.0v5.0h-5.0ZM362.5,353.3h5.0v5.0h-5.0ZM363.6,353.3h5.0v5.0h-5.0ZM364.7,353.4h5.0v5.0h-5.0ZM365.8,353.4h5.0v5.0h-5.0ZM366.9,353.5h5.0v5.0h-5.0ZM367.5,353.5h5.0v5.0h-5.0ZM368.0,353.5h5.0v5.0h-5.0ZM369.1,353.5h5.0v5.0h-5.0ZM370.2,353.5h5.0v5.0h-5.0ZM371.3,353.5h5.0v5.0h-5.0ZM372.4,353.5h5.0v5.0h-5.0ZM373.5,353.5h5.0v5.0h-5.0ZM374.6,353.5h5.0v5.0h-5.0ZM375.7,353.5h5.0v5.0h-5.0ZM376.8,353.5h5.0v5.0h-5.0ZM377.9,353.5h5.0v5.0h-5.0ZM379.0,353.5h5.0v5.0h-5.0ZM380.1,353.6h5.0v5.0h-5.0ZM381.2,353.6h5.0v5.0h-5.0ZM382.3,353.6h5.0v5.0h-5.0ZM383.4,353.6h5.0v5.0h-5.0ZM384.5,353.6h5.0v5.0h-5.0ZM385.6,353.6h5.0v5.0h-5.0ZM386.7,353.6h5.0v5.0h-5.0ZM387.8,353.6h5.0v5.0h-5.0ZM388.9,353.6h5.0v5.0h-5.0ZM390.0,353.6h5.0v5.0h-5.0ZM391.1,353.6h5.0v5.0h-5.0ZM392.2,353.6h5.0v5.0h-5.0ZM393.3,353.6h5.0v5.0h-5.0ZM394.4,353.6h5.0v5.0h-5.0ZM395.5,353.6h5.0v5.0h-5.0ZM396.6,353.6h5.0v5.0h-5.0ZM397.7,353.6h5.0v5.0h-5.0ZM398.8,353.6h5.0v5.0h-5.0ZM399.9,353.6h5.0v5.0h-5.0ZM401.0,353.6h5.0v5.0h-5.0ZM402.1,353.6h5.0v5.0h-5.0ZM403.2,353.7h5.0v5.0h-5.0ZM404.3,353.7h5.0v5.0h-5.0ZM405.4,353.7h5.0v5.0h-5.0ZM406.5,353.7h5.0v5.0h-5.0ZM407.6,353.7h5.0v5.0h-5.0ZM408.7,353.7h5.0v5.0h-5.0ZM409.8,353.7h5.0v5.0h-5.0ZM410.9,353.7h5.0v5.0h-5.0ZM412.0,353.7h5.0v5.0h-5.0ZM413.1,353.7h5.0v5.0h-5.0ZM414.2,353.7h5.0v5.0h-5.0ZM415.3,353.7h5.0v5.0h-5.0ZM416.4,353.7h5.0v5.0h-5.0ZM417.5,353.7h5.0v5.0h-5.0ZM418.6,353.7h5.0v5.0h-5.0ZM419.7,353.7h5.0v5.0h-5.0ZM420.8,353.7h5.0v5.0h-5.0ZM421.9,353.7h5.0v5.0h-5.0ZM423.0,353.7h5.0v5.0h-5.0ZM424.1,353.7h5.0v5.0h-5.0ZM425.2,353.7h5.0v5.0h-5.0ZM426.3,353.7h5.0v5.0h-5.0ZM427.4,353.8h5.0v5.0h-5.0ZM428.5,353.8h5.0v5.0h-5.0ZM429.6,353.8h5.0v5.0h-5.0ZM430.7,353.8h5.0v5.0h-5.0ZM431.8,353.8h5.0v5.0h-5.0ZM432.9,353.8h5.0v5.0h-5.0ZM434.0,353.8h5.0v5.0h-5.0ZM435.1,353.8h5.0v5.0h-5.0ZM436.2,353.8h5.0v5.0h-5.0ZM437.3,353.8h5.0v5.0h-5.0ZM438.4,353.8h5.0v5.0h-5.0ZM439.5,353.8h5.0v5.0h-5.0ZM440.6,353.8h5.0v5.0h-5.0ZM441.7,353.8h5.0v5.0h-5.0ZM442.8,353.8h5.0v5.0h-5.0ZM443.9,353.8h5.0v5.0h-5.0ZM445.0,353.8h5.0v5.0h-5.0ZM446.1,353.8h5.0v5.0h-5.0ZM447.2,353.8h5.0v5.0h-5.0ZM448.3,353.8h5.0v5.0h-5.0ZM449.4,353.8h5.0v5.0h-5.0ZM450.5,353.9h5.0v5.0h-5.0ZM451.6,353.9h5.0v5.0h-5.0ZM452.7,353.9h5.0v5.0h-5.0ZM453.8,353.9h5.0v5.0h-5.0ZM454.9,353.9h5.0v5.0h-5.0ZM456.0,353.9h5.0v5.0h-5.0ZM457.1,353.9h5.0v5.0h-5.0ZM458.2,353.9h5.0v5.0h-5.0ZM459.3,353.9h5.0v5.0h-5.0ZM460.4,353.9h5.0v5.0h-5.0ZM461.5,353.9h5.0v5.0h-5.0ZM462.6,353.9h5.0v5.0h-5.0ZM463.7,353.9h5.0v5.0h-5.0ZM464.8,353.9h5.0v5.0h-5.0ZM465.9,353.9h5.0v5.0h-5.0ZM467.0,353.9h5.0v5.0h-5.0ZM468.1,353.9h5.0v5.0h-5.0ZM469.2,353.9h5.0v5.0h-5.0ZM470.3,353.9h5.0v5.0h-5.0ZM471.4,353.9h5.0v5.0h-5.0ZM472.5,353.9h5.0v5.0h-5.0ZM473.6,353.9h5.0v5.0h-5.0ZM474.7,354.0h5.0v5.0h-5.0ZM475.8,354.0h5.0v5.0h-5.0ZM476.9,354.0h5.0v5.0h-5.0ZM478.0,354.0h5.0v5.0h-5.0ZM479.1,354.0h5.0v5.0h-5.0ZM480.2,354.0h5.0v5.0h-5.0ZM481.3,354.0h5.0v5.0h-5.0ZM482.4,354.0h5.0v5.0h-5.0ZM483.5,354.0h5.0v5.0h-5.0ZM484.6,354.0h5.0v5.0h-5.0ZM485.5,354.0h5.0v5.0h-5.0Z" fill="#008000"/>
<path d="M297.6,288.0L301.3,294.2L293.9,294.2ZM298.1,295.2L301.8,301.4L294.4,301.4ZM298.6,301.3L302.3,307.5L294.9,307.5ZM299.1,307.4L302.8,313.6L295.4,313.6ZM299.5,312.2L303.2,318.4L295.8,318.4ZM300.0,317.1L303.7,323.3L296.3,323.3ZM300.6,321.9L304.3,328.1L296.9,328.1ZM301.2,326.8L304.9,333.0L297.5,333.0ZM299.1,307.4L302.8,313.6L295.4,313.6ZM299.4,311.4L303.1,317.6L295.7,317.6ZM299.5,312.2L303.2,318.4L295.8,318.4ZM300.0,317.1L303.7,323.3L296.3,323.3ZM300.4,320.4L304.1,326.6L296.7,326.6ZM300.6,321.9L304.3,328.1L296.9,328.1ZM301.2,326.8L304.9,333.0L297.5,333.0ZM301.4,327.6L305.1,333.8L297.7,333.8ZM302.1,330.4L305.8,336.6L298.4,336.6ZM302.4,331.0L306.1,337.2L298.7,337.2ZM303.4,333.4L307.1,339.6L299.7,339.6ZM303.6,333.9L307.3,340.1L299.9,340.1ZM304.4,335.2L308.1,341.4L300.7,341.4ZM305.1,336.2L308.8,342.4L301.4,342.4ZM305.4,336.5L309.1,342.7L301.7,342.7ZM306.4,337.3L310.1,343.5L302.7,343.5ZM307.1,337.9L310.8,344.1L303.4,344.1ZM307.4,338.1L311.1,344.3L303.7,344.3ZM308.4,338.8L312.1,345.0L304.7,345.0ZM309.4,339.5L313.1,345.7L305.7,345.7ZM310.0,339.9L313.7,346.1L306.3,346.1ZM310.4,340.4L314.1,346.6L306.7,346.6ZM311.4,341.6L315.1,347.8L307.7,347.8ZM312.0,342.4L315.7,348.6L308.3,348.6Z" fill="#ff0000"/>
<path d="M77.3,50.5 L78.1,56.0 L79.6,72.0 L81.2,89.0 L83.0,109.0 L84.7,130.0 L86.6,165.0 L88.4,200.0 L90.5,240.0 L92.6,280.0 L94.2,296.0 L95.7,308.8 L97.0,319.0 L98.2,328.3 L100.5,335.5 L103.4,340.9 L106.0,344.5 L109.3,347.2 L114.0,347.8 L120.0,348.0 L135.0,348.2 L150.0,348.5 L165.0,348.4 L180.0,348.2 L195.0,348.5 L203.0,349.8 L212.0,351.5 L230.0,351.7 L250.0,352.0 L275.0,352.3 L300.0,352.6 L321.8,351.8 L343.7,350.7 L365.5,348.6 L387.3,346.4 L409.2,344.2 L440.0,339.6 L488.0,333.8" fill="none" stroke="#000" stroke-width="1.4" stroke-linejoin="round" stroke-dasharray="3,1.9"/>
</g>
<line x1="74.40" y1="356.5" x2="74.40" y2="362.5" stroke="#000" stroke-width="1.5"/>
<text x="74.40" y="381.2" text-anchor="middle" class="t">300</text>
<line x1="108.88" y1="356.5" x2="108.88" y2="359.5" stroke="#000" stroke-width="1.5"/>
<line x1="143.37" y1="356.5" x2="143.37" y2="362.5" stroke="#000" stroke-width="1.5"/>
<text x="143.37" y="381.2" text-anchor="middle" class="t">500</text>
<line x1="177.85" y1="356.5" x2="177.85" y2="359.5" stroke="#000" stroke-width="1.5"/>
<line x1="212.33" y1="356.5" x2="212.33" y2="362.5" stroke="#000" stroke-width="1.5"/>
<text x="212.33" y="381.2" text-anchor="middle" class="t">700</text>
<line x1="246.82" y1="356.5" x2="246.82" y2="359.5" stroke="#000" stroke-width="1.5"/>
<line x1="281.30" y1="356.5" x2="281.30" y2="362.5" stroke="#000" stroke-width="1.5"/>
<text x="281.30" y="381.2" text-anchor="middle" class="t">900</text>
<line x1="315.78" y1="356.5" x2="315.78" y2="359.5" stroke="#000" stroke-width="1.5"/>
<line x1="350.27" y1="356.5" x2="350.27" y2="362.5" stroke="#000" stroke-width="1.5"/>
<text x="350.27" y="381.2" text-anchor="middle" class="t">1100</text>
<line x1="384.75" y1="356.5" x2="384.75" y2="359.5" stroke="#000" stroke-width="1.5"/>
<line x1="419.23" y1="356.5" x2="419.23" y2="362.5" stroke="#000" stroke-width="1.5"/>
<text x="419.23" y="381.2" text-anchor="middle" class="t">1300</text>
<line x1="453.72" y1="356.5" x2="453.72" y2="359.5" stroke="#000" stroke-width="1.5"/>
<line x1="488.20" y1="356.5" x2="488.20" y2="362.5" stroke="#000" stroke-width="1.5"/>
<text x="488.20" y="381.2" text-anchor="middle" class="t">1500</text>
<line x1="68.4" y1="356.50" x2="74.4" y2="356.50" stroke="#000" stroke-width="1.5"/>
<text x="63.8" y="361.60" text-anchor="end" class="t">0.00</text>
<line x1="71.4" y1="325.78" x2="74.4" y2="325.78" stroke="#000" stroke-width="1.5"/>
<line x1="68.4" y1="295.06" x2="74.4" y2="295.06" stroke="#000" stroke-width="1.5"/>
<text x="63.8" y="300.16" text-anchor="end" class="t">0.05</text>
<line x1="71.4" y1="264.34" x2="74.4" y2="264.34" stroke="#000" stroke-width="1.5"/>
<line x1="68.4" y1="233.62" x2="74.4" y2="233.62" stroke="#000" stroke-width="1.5"/>
<text x="63.8" y="238.72" text-anchor="end" class="t">0.10</text>
<line x1="71.4" y1="202.90" x2="74.4" y2="202.90" stroke="#000" stroke-width="1.5"/>
<line x1="68.4" y1="172.18" x2="74.4" y2="172.18" stroke="#000" stroke-width="1.5"/>
<text x="63.8" y="177.28" text-anchor="end" class="t">0.15</text>
<line x1="71.4" y1="141.46" x2="74.4" y2="141.46" stroke="#000" stroke-width="1.5"/>
<line x1="68.4" y1="110.74" x2="74.4" y2="110.74" stroke="#000" stroke-width="1.5"/>
<text x="63.8" y="115.84" text-anchor="end" class="t">0.20</text>
<line x1="71.4" y1="80.02" x2="74.4" y2="80.02" stroke="#000" stroke-width="1.5"/>
<line x1="68.4" y1="49.30" x2="74.4" y2="49.30" stroke="#000" stroke-width="1.5"/>
<text x="63.8" y="54.40" text-anchor="end" class="t">0.25</text>
<line x1="488.2" y1="356.50" x2="494.2" y2="356.50" stroke="#000" stroke-width="1.5"/>
<text x="498.5" y="361.60" class="t">0</text>
<line x1="488.2" y1="325.78" x2="491.2" y2="325.78" stroke="#000" stroke-width="1.5"/>
<line x1="488.2" y1="295.06" x2="494.2" y2="295.06" stroke="#000" stroke-width="1.5"/>
<text x="498.5" y="300.16" class="t">20</text>
<line x1="488.2" y1="264.34" x2="491.2" y2="264.34" stroke="#000" stroke-width="1.5"/>
<line x1="488.2" y1="233.62" x2="494.2" y2="233.62" stroke="#000" stroke-width="1.5"/>
<text x="498.5" y="238.72" class="t">40</text>
<line x1="488.2" y1="202.90" x2="491.2" y2="202.90" stroke="#000" stroke-width="1.5"/>
<line x1="488.2" y1="172.18" x2="494.2" y2="172.18" stroke="#000" stroke-width="1.5"/>
<text x="498.5" y="177.28" class="t">60</text>
<line x1="488.2" y1="141.46" x2="491.2" y2="141.46" stroke="#000" stroke-width="1.5"/>
<line x1="488.2" y1="110.74" x2="494.2" y2="110.74" stroke="#000" stroke-width="1.5"/>
<text x="498.5" y="115.84" class="t">80</text>
<line x1="488.2" y1="80.02" x2="491.2" y2="80.02" stroke="#000" stroke-width="1.5"/>
<line x1="488.2" y1="49.30" x2="494.2" y2="49.30" stroke="#000" stroke-width="1.5"/>
<text x="498.5" y="54.40" class="t">100</text>
<line x1="77.85" y1="49.3" x2="77.85" y2="43.3" stroke="#000" stroke-width="1.5"/>
<text x="77.85" y="35.4" text-anchor="middle" class="t">4</text>
<line x1="93.12" y1="49.3" x2="93.12" y2="46.3" stroke="#000" stroke-width="1.5"/>
<line x1="113.48" y1="49.3" x2="113.48" y2="43.3" stroke="#000" stroke-width="1.5"/>
<text x="113.48" y="35.4" text-anchor="middle" class="t">3</text>
<line x1="141.99" y1="49.3" x2="141.99" y2="46.3" stroke="#000" stroke-width="1.5"/>
<line x1="184.75" y1="49.3" x2="184.75" y2="43.3" stroke="#000" stroke-width="1.5"/>
<text x="184.75" y="35.4" text-anchor="middle" class="t">2</text>
<line x1="256.01" y1="49.3" x2="256.01" y2="46.3" stroke="#000" stroke-width="1.5"/>
<line x1="398.54" y1="49.3" x2="398.54" y2="43.3" stroke="#000" stroke-width="1.5"/>
<text x="398.54" y="35.4" text-anchor="middle" class="t">1</text>
<rect x="74.4" y="49.3" width="413.8" height="307.2" fill="none" stroke="#000" stroke-width="1.5"/>
<text x="281.3" y="405" text-anchor="middle" class="t">λ (nm)</text>
<text x="258.2" y="17.3" class="t">E (eV)</text>
<text transform="translate(20.4,258.5) rotate(-90)" class="t" style="font-size:18px">R (W m<tspan dy="-8" font-size="10.5">−2</tspan><tspan dy="8">nm</tspan><tspan dy="-8" font-size="10.5">−1</tspan><tspan dy="8">)</tspan></text>
<text transform="translate(541.5,219.4) rotate(-90)" class="t">A (%)</text>
<line x1="110" y1="199.4" x2="141.7" y2="199.4" stroke="#000" stroke-width="1.7"/>
<path d="M104.3,199.4L112.4,196.9L112.4,201.9Z" fill="#000"/>
<line x1="417.1" y1="197.1" x2="455" y2="197.1" stroke="#000" stroke-width="1.7"/>
<path d="M460.7,197.1L452,194.6L452,199.6Z" fill="#000"/>
<text x="105.1" y="70" class="lb">Lamps:</text>
<line x1="87.7" y1="79.6" x2="117.8" y2="79.6" stroke="#0000ff" stroke-width="1.3"/>
<path d="M100.4,79.6a2.5,2.5 0 1,0 5.0,0a2.5,2.5 0 1,0 -5.0,0Z" fill="#fff" stroke="#0000ff" stroke-width="1.2"/>
<text x="122.3" y="84.19999999999999" class="l">Incandescent</text>
<line x1="87.7" y1="95.7" x2="117.8" y2="95.7" stroke="#008000" stroke-width="1.3"/>
<path d="M100.6,93.4h4.6v4.6h-4.6Z" fill="#fff" stroke="#008000" stroke-width="1.2"/>
<text x="122.3" y="100.3" class="l">Halogen</text>
<line x1="87.7" y1="112.2" x2="117.8" y2="112.2" stroke="#ff0000" stroke-width="1.3"/>
<path d="M102.9,109.2L105.9,114.4L99.9,114.4Z" fill="#fff" stroke="#ff0000" stroke-width="1.2"/>
<text x="122.3" y="116.8" class="l">Metal Halide</text>
<line x1="87.7" y1="128.2" x2="117.8" y2="128.2" stroke="#a00000" stroke-width="1.3"/>
<path d="M102.9,130.9L105.9,126.2L99.9,126.2Z" fill="#fff" stroke="#a00000" stroke-width="1.2"/>
<text x="122.3" y="132.79999999999998" class="l">LED</text>
<text x="411.8" y="67.1" class="lb">Absorbers:</text>
<line x1="411" y1="78.5" x2="440.2" y2="78.5" stroke="#0000ff" stroke-width="1.3"/>
<path d="M422.6,78.5a3.5,3.5 0 1,0 7.0,0a3.5,3.5 0 1,0 -7.0,0Z" fill="#0000ff"/>
<text x="443.8" y="83.1" class="l">c-Si</text>
<line x1="411" y1="94.3" x2="440.2" y2="94.3" stroke="#008000" stroke-width="1.3"/>
<path d="M423.2,91.4h5.8v5.8h-5.8Z" fill="#008000"/>
<text x="443.8" y="98.89999999999999" class="l">CdTe</text>
<line x1="411" y1="110.8" x2="440.2" y2="110.8" stroke="#ff0000" stroke-width="1.3"/>
<path d="M426.1,107.2L429.8,113.4L422.4,113.4Z" fill="#ff0000"/>
<text x="443.8" y="115.39999999999999" class="l">CIGS</text>
<line x1="411" y1="127" x2="440.2" y2="127" stroke="#a00000" stroke-width="1.3"/>
<path d="M426.1,130.5L429.8,124.4L422.4,124.4Z" fill="#a00000"/>
<text x="443.8" y="131.6" class="l">CZTS</text>
<line x1="411" y1="143" x2="440.2" y2="143" stroke="#000" stroke-width="1.4" stroke-dasharray="3,1.9"/>
<text x="443.8" y="147.6" class="l">Glass</text>
</svg>
</body></html>
